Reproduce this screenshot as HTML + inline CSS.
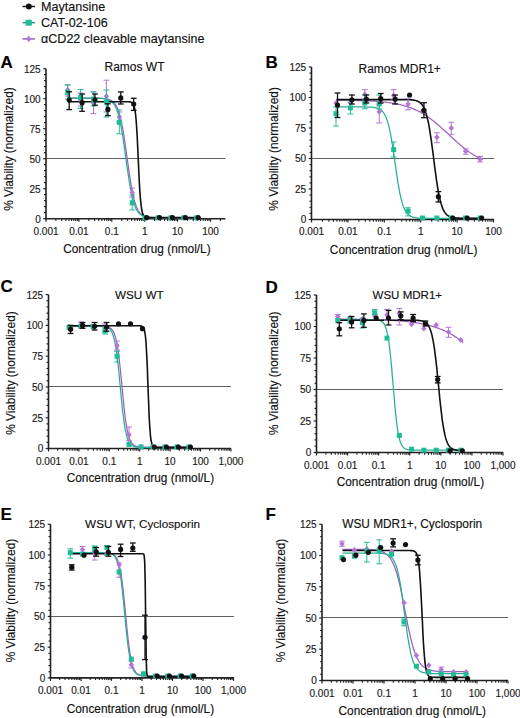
<!DOCTYPE html>
<html><head><meta charset="utf-8"><style>html,body{margin:0;padding:0;background:#fff;}svg{display:block}</style></head>
<body><svg width="520" height="718" viewBox="0 0 520 718" font-family="Liberation Sans, sans-serif"><style>text{stroke:#111;stroke-width:0.15px}</style>
<rect width="520" height="718" fill="#fff"/>
<line x1="22.5" y1="6.5" x2="35" y2="6.5" stroke="#111" stroke-width="1.4"/>
<circle cx="28.8" cy="6.5" r="3" fill="#111"/>
<text x="41" y="10.8" font-size="12.55" fill="#111">Maytansine</text>
<line x1="22.5" y1="22.7" x2="35" y2="22.7" stroke="#2a9c86" stroke-width="1.4"/>
<rect x="25.6" y="19.7" width="6.2" height="6" fill="#20bc96"/>
<text x="41" y="27" font-size="12.55" fill="#111">CAT-02-106</text>
<line x1="22.5" y1="38.9" x2="35" y2="38.9" stroke="#8060a8" stroke-width="1.4"/>
<path d="M28.8 35.7 L31.6 38.9 L28.8 42.1 L26 38.9Z" fill="#b474d8"/>
<text x="41" y="43.2" font-size="12.55" fill="#111">αCD22 cleavable maytansine</text>
<line x1="46" y1="158.5" x2="225.5" y2="158.5" stroke="#626262" stroke-width="1"/>
<line x1="46" y1="68.7" x2="46" y2="219.5" stroke="#222" stroke-width="1.6"/>
<line x1="43.2" y1="218.7" x2="46" y2="218.7" stroke="#222" stroke-width="1.2"/>
<text x="40.7" y="222.6" text-anchor="end" font-size="10" fill="#222">0</text>
<line x1="44" y1="212.7" x2="46" y2="212.7" stroke="#222" stroke-width="1.2"/>
<line x1="44" y1="206.7" x2="46" y2="206.7" stroke="#222" stroke-width="1.2"/>
<line x1="44" y1="200.7" x2="46" y2="200.7" stroke="#222" stroke-width="1.2"/>
<line x1="44" y1="194.7" x2="46" y2="194.7" stroke="#222" stroke-width="1.2"/>
<line x1="43.2" y1="188.7" x2="46" y2="188.7" stroke="#222" stroke-width="1.2"/>
<text x="40.7" y="192.6" text-anchor="end" font-size="10" fill="#222">25</text>
<line x1="44" y1="182.7" x2="46" y2="182.7" stroke="#222" stroke-width="1.2"/>
<line x1="44" y1="176.7" x2="46" y2="176.7" stroke="#222" stroke-width="1.2"/>
<line x1="44" y1="170.7" x2="46" y2="170.7" stroke="#222" stroke-width="1.2"/>
<line x1="44" y1="164.7" x2="46" y2="164.7" stroke="#222" stroke-width="1.2"/>
<line x1="43.2" y1="158.7" x2="46" y2="158.7" stroke="#222" stroke-width="1.2"/>
<text x="40.7" y="162.6" text-anchor="end" font-size="10" fill="#222">50</text>
<line x1="44" y1="152.7" x2="46" y2="152.7" stroke="#222" stroke-width="1.2"/>
<line x1="44" y1="146.7" x2="46" y2="146.7" stroke="#222" stroke-width="1.2"/>
<line x1="44" y1="140.7" x2="46" y2="140.7" stroke="#222" stroke-width="1.2"/>
<line x1="44" y1="134.7" x2="46" y2="134.7" stroke="#222" stroke-width="1.2"/>
<line x1="43.2" y1="128.7" x2="46" y2="128.7" stroke="#222" stroke-width="1.2"/>
<text x="40.7" y="132.6" text-anchor="end" font-size="10" fill="#222">75</text>
<line x1="44" y1="122.7" x2="46" y2="122.7" stroke="#222" stroke-width="1.2"/>
<line x1="44" y1="116.7" x2="46" y2="116.7" stroke="#222" stroke-width="1.2"/>
<line x1="44" y1="110.7" x2="46" y2="110.7" stroke="#222" stroke-width="1.2"/>
<line x1="44" y1="104.7" x2="46" y2="104.7" stroke="#222" stroke-width="1.2"/>
<line x1="43.2" y1="98.7" x2="46" y2="98.7" stroke="#222" stroke-width="1.2"/>
<text x="40.7" y="102.6" text-anchor="end" font-size="10" fill="#222">100</text>
<line x1="44" y1="92.7" x2="46" y2="92.7" stroke="#222" stroke-width="1.2"/>
<line x1="44" y1="86.7" x2="46" y2="86.7" stroke="#222" stroke-width="1.2"/>
<line x1="44" y1="80.7" x2="46" y2="80.7" stroke="#222" stroke-width="1.2"/>
<line x1="44" y1="74.7" x2="46" y2="74.7" stroke="#222" stroke-width="1.2"/>
<line x1="43.2" y1="68.7" x2="46" y2="68.7" stroke="#222" stroke-width="1.2"/>
<text x="40.7" y="72.6" text-anchor="end" font-size="10" fill="#222">125</text>
<line x1="45.4" y1="218.7" x2="225.5" y2="218.7" stroke="#222" stroke-width="1.6"/>
<line x1="46" y1="218.7" x2="46" y2="221.7" stroke="#222" stroke-width="1.2"/>
<text x="46" y="234.5" text-anchor="middle" font-size="10" fill="#222">0.001</text>
<line x1="55.9" y1="218.7" x2="55.9" y2="220.9" stroke="#222" stroke-width="1.1"/>
<line x1="61.7" y1="218.7" x2="61.7" y2="220.9" stroke="#222" stroke-width="1.1"/>
<line x1="65.81" y1="218.7" x2="65.81" y2="220.9" stroke="#222" stroke-width="1.1"/>
<line x1="69" y1="218.7" x2="69" y2="220.9" stroke="#222" stroke-width="1.1"/>
<line x1="71.6" y1="218.7" x2="71.6" y2="220.9" stroke="#222" stroke-width="1.1"/>
<line x1="73.8" y1="218.7" x2="73.8" y2="220.9" stroke="#222" stroke-width="1.1"/>
<line x1="75.71" y1="218.7" x2="75.71" y2="220.9" stroke="#222" stroke-width="1.1"/>
<line x1="77.39" y1="218.7" x2="77.39" y2="220.9" stroke="#222" stroke-width="1.1"/>
<line x1="78.9" y1="218.7" x2="78.9" y2="221.7" stroke="#222" stroke-width="1.2"/>
<text x="78.9" y="234.5" text-anchor="middle" font-size="10" fill="#222">0.01</text>
<line x1="88.8" y1="218.7" x2="88.8" y2="220.9" stroke="#222" stroke-width="1.1"/>
<line x1="94.6" y1="218.7" x2="94.6" y2="220.9" stroke="#222" stroke-width="1.1"/>
<line x1="98.71" y1="218.7" x2="98.71" y2="220.9" stroke="#222" stroke-width="1.1"/>
<line x1="101.9" y1="218.7" x2="101.9" y2="220.9" stroke="#222" stroke-width="1.1"/>
<line x1="104.5" y1="218.7" x2="104.5" y2="220.9" stroke="#222" stroke-width="1.1"/>
<line x1="106.7" y1="218.7" x2="106.7" y2="220.9" stroke="#222" stroke-width="1.1"/>
<line x1="108.61" y1="218.7" x2="108.61" y2="220.9" stroke="#222" stroke-width="1.1"/>
<line x1="110.29" y1="218.7" x2="110.29" y2="220.9" stroke="#222" stroke-width="1.1"/>
<line x1="111.8" y1="218.7" x2="111.8" y2="221.7" stroke="#222" stroke-width="1.2"/>
<text x="111.8" y="234.5" text-anchor="middle" font-size="10" fill="#222">0.1</text>
<line x1="121.7" y1="218.7" x2="121.7" y2="220.9" stroke="#222" stroke-width="1.1"/>
<line x1="127.5" y1="218.7" x2="127.5" y2="220.9" stroke="#222" stroke-width="1.1"/>
<line x1="131.61" y1="218.7" x2="131.61" y2="220.9" stroke="#222" stroke-width="1.1"/>
<line x1="134.8" y1="218.7" x2="134.8" y2="220.9" stroke="#222" stroke-width="1.1"/>
<line x1="137.4" y1="218.7" x2="137.4" y2="220.9" stroke="#222" stroke-width="1.1"/>
<line x1="139.6" y1="218.7" x2="139.6" y2="220.9" stroke="#222" stroke-width="1.1"/>
<line x1="141.51" y1="218.7" x2="141.51" y2="220.9" stroke="#222" stroke-width="1.1"/>
<line x1="143.19" y1="218.7" x2="143.19" y2="220.9" stroke="#222" stroke-width="1.1"/>
<line x1="144.7" y1="218.7" x2="144.7" y2="221.7" stroke="#222" stroke-width="1.2"/>
<text x="144.7" y="234.5" text-anchor="middle" font-size="10" fill="#222">1</text>
<line x1="154.6" y1="218.7" x2="154.6" y2="220.9" stroke="#222" stroke-width="1.1"/>
<line x1="160.4" y1="218.7" x2="160.4" y2="220.9" stroke="#222" stroke-width="1.1"/>
<line x1="164.51" y1="218.7" x2="164.51" y2="220.9" stroke="#222" stroke-width="1.1"/>
<line x1="167.7" y1="218.7" x2="167.7" y2="220.9" stroke="#222" stroke-width="1.1"/>
<line x1="170.3" y1="218.7" x2="170.3" y2="220.9" stroke="#222" stroke-width="1.1"/>
<line x1="172.5" y1="218.7" x2="172.5" y2="220.9" stroke="#222" stroke-width="1.1"/>
<line x1="174.41" y1="218.7" x2="174.41" y2="220.9" stroke="#222" stroke-width="1.1"/>
<line x1="176.09" y1="218.7" x2="176.09" y2="220.9" stroke="#222" stroke-width="1.1"/>
<line x1="177.6" y1="218.7" x2="177.6" y2="221.7" stroke="#222" stroke-width="1.2"/>
<text x="177.6" y="234.5" text-anchor="middle" font-size="10" fill="#222">10</text>
<line x1="187.5" y1="218.7" x2="187.5" y2="220.9" stroke="#222" stroke-width="1.1"/>
<line x1="193.3" y1="218.7" x2="193.3" y2="220.9" stroke="#222" stroke-width="1.1"/>
<line x1="197.41" y1="218.7" x2="197.41" y2="220.9" stroke="#222" stroke-width="1.1"/>
<line x1="200.6" y1="218.7" x2="200.6" y2="220.9" stroke="#222" stroke-width="1.1"/>
<line x1="203.2" y1="218.7" x2="203.2" y2="220.9" stroke="#222" stroke-width="1.1"/>
<line x1="205.4" y1="218.7" x2="205.4" y2="220.9" stroke="#222" stroke-width="1.1"/>
<line x1="207.31" y1="218.7" x2="207.31" y2="220.9" stroke="#222" stroke-width="1.1"/>
<line x1="208.99" y1="218.7" x2="208.99" y2="220.9" stroke="#222" stroke-width="1.1"/>
<line x1="210.5" y1="218.7" x2="210.5" y2="221.7" stroke="#222" stroke-width="1.2"/>
<text x="210.5" y="234.5" text-anchor="middle" font-size="10" fill="#222">100</text>
<line x1="220.4" y1="218.7" x2="220.4" y2="220.9" stroke="#222" stroke-width="1.1"/>
<text x="134.5" y="70.8" text-anchor="middle" font-size="12" fill="#111">Ramos WT</text>
<text x="136.9" y="252.7" text-anchor="middle" font-size="11.85" fill="#111">Concentration drug (nmol/L)</text>
<text transform="translate(13,149.1) rotate(-90)" text-anchor="middle" font-size="11.85" fill="#111">% Viability (normalized)</text>
<text x="0.5" y="67.8" font-size="17" font-weight="bold" fill="#000">A</text>
<polyline points="68.2,98.1 68.7,98.1 69.2,98.1 69.7,98.1 70.2,98.1 70.7,98.1 71.2,98.1 71.7,98.1 72.2,98.1 72.7,98.1 73.2,98.1 73.7,98.1 74.2,98.1 74.8,98.1 75.3,98.1 75.8,98.1 76.3,98.1 76.8,98.1 77.3,98.1 77.8,98.1 78.3,98.1 78.8,98.1 79.3,98.1 79.8,98.1 80.3,98.1 80.8,98.1 81.3,98.1 81.8,98.1 82.3,98.1 82.8,98.1 83.3,98.1 83.8,98.1 84.3,98.1 84.8,98.1 85.3,98.1 85.8,98.1 86.3,98.1 86.8,98.1 87.3,98.1 87.8,98.1 88.4,98.1 88.9,98.1 89.4,98.1 89.9,98.1 90.4,98.1 90.9,98.1 91.4,98.1 91.9,98.1 92.4,98.1 92.9,98.1 93.4,98.1 93.9,98.1 94.4,98.1 94.9,98.1 95.4,98.2 95.9,98.2 96.4,98.2 96.9,98.2 97.4,98.2 97.9,98.2 98.4,98.2 98.9,98.2 99.4,98.2 99.9,98.3 100.4,98.3 101.0,98.3 101.5,98.3 102.0,98.4 102.5,98.4 103.0,98.4 103.5,98.5 104.0,98.5 104.5,98.6 105.0,98.6 105.5,98.7 106.0,98.8 106.5,98.9 107.0,99.0 107.5,99.1 108.0,99.2 108.5,99.3 109.0,99.5 109.5,99.7 110.0,99.9 110.5,100.1 111.0,100.4 111.5,100.7 112.0,101.0 112.5,101.4 113.0,101.8 113.5,102.3 114.1,102.8 114.6,103.4 115.1,104.1 115.6,104.8 116.1,105.6 116.6,106.5 117.1,107.6 117.6,108.7 118.1,109.9 118.6,111.3 119.1,112.8 119.6,114.5 120.1,116.3 120.6,118.3 121.1,120.5 121.6,122.8 122.1,125.3 122.6,128.0 123.1,130.9 123.6,133.9 124.1,137.1 124.6,140.4 125.1,143.8 125.6,147.3 126.1,150.9 126.6,154.6 127.2,158.3 127.7,162.0 128.2,165.6 128.7,169.2 129.2,172.7 129.7,176.1 130.2,179.4 130.7,182.6 131.2,185.6 131.7,188.4 132.2,191.0 132.7,193.5 133.2,195.8 133.7,197.9 134.2,199.9 134.7,201.7 135.2,203.3 135.7,204.8 136.2,206.2 136.7,207.4 137.2,208.5 137.7,209.5 138.2,210.4 138.7,211.2 139.2,211.9 139.7,212.6 140.2,213.1 140.8,213.7 141.3,214.1 141.8,214.5 142.3,214.9 142.8,215.2 143.3,215.5 143.8,215.8 144.3,216.0 144.8,216.2 145.3,216.4 145.8,216.5 146.3,216.7 146.8,216.8 147.3,216.9 147.8,217.0 148.3,217.1 148.8,217.2 149.3,217.2 149.8,217.3 150.3,217.3 150.8,217.4 151.3,217.4 151.8,217.5 152.3,217.5 152.8,217.5 153.4,217.5 153.9,217.6 154.4,217.6 154.9,217.6 155.4,217.6 155.9,217.6 156.4,217.6 156.9,217.7 157.4,217.7 157.9,217.7 158.4,217.7 158.9,217.7 159.4,217.7 159.9,217.7 160.4,217.7 160.9,217.7 161.4,217.7 161.9,217.7 162.4,217.7 162.9,217.7 163.4,217.7 163.9,217.7 164.4,217.7 164.9,217.7 165.4,217.7 165.9,217.7 166.4,217.7 167.0,217.7 167.5,217.7 168.0,217.7 168.5,217.7 169.0,217.7 169.5,217.7 170.0,217.7 170.5,217.7 171.0,217.7 171.5,217.7 172.0,217.7 172.5,217.7 173.0,217.7 173.5,217.7 174.0,217.7 174.5,217.7 175.0,217.7 175.5,217.7 176.0,217.7 176.5,217.7 177.0,217.7 177.5,217.7 178.0,217.7 178.5,217.7 179.0,217.7 179.6,217.7 180.1,217.7 180.6,217.7 181.1,217.7 181.6,217.7 182.1,217.7 182.6,217.7 183.1,217.7 183.6,217.7 184.1,217.7 184.6,217.7 185.1,217.7 185.6,217.7 186.1,217.7 186.6,217.7 187.1,217.7 187.6,217.7 188.1,217.7 188.6,217.7 189.1,217.7 189.6,217.7 190.1,217.7 190.6,217.7 191.1,217.7 191.6,217.7 192.1,217.7 192.7,217.7 193.2,217.7 193.7,217.7 194.2,217.7 194.7,217.7 195.2,217.7 195.7,217.7 196.2,217.7 196.7,217.7 197.2,217.7 197.7,217.7 198.2,217.7 198.7,217.7 199.2,217.7" fill="none" stroke="#9d5fc0" stroke-width="1.25"/>
<polyline points="68.2,98.1 68.7,98.1 69.2,98.1 69.7,98.1 70.2,98.1 70.7,98.1 71.2,98.1 71.7,98.1 72.2,98.1 72.7,98.1 73.2,98.1 73.7,98.1 74.2,98.1 74.8,98.1 75.3,98.1 75.8,98.1 76.3,98.1 76.8,98.1 77.3,98.1 77.8,98.1 78.3,98.1 78.8,98.1 79.3,98.1 79.8,98.1 80.3,98.1 80.8,98.1 81.3,98.1 81.8,98.1 82.3,98.1 82.8,98.1 83.3,98.1 83.8,98.1 84.3,98.1 84.8,98.1 85.3,98.1 85.8,98.1 86.3,98.1 86.8,98.1 87.3,98.1 87.8,98.1 88.4,98.1 88.9,98.1 89.4,98.1 89.9,98.1 90.4,98.1 90.9,98.1 91.4,98.1 91.9,98.1 92.4,98.1 92.9,98.1 93.4,98.1 93.9,98.1 94.4,98.2 94.9,98.2 95.4,98.2 95.9,98.2 96.4,98.2 96.9,98.2 97.4,98.2 97.9,98.2 98.4,98.2 98.9,98.3 99.4,98.3 99.9,98.3 100.4,98.3 101.0,98.4 101.5,98.4 102.0,98.4 102.5,98.5 103.0,98.5 103.5,98.6 104.0,98.7 104.5,98.7 105.0,98.8 105.5,98.9 106.0,99.0 106.5,99.1 107.0,99.3 107.5,99.4 108.0,99.6 108.5,99.8 109.0,100.0 109.5,100.2 110.0,100.5 110.5,100.8 111.0,101.2 111.5,101.6 112.0,102.0 112.5,102.5 113.0,103.1 113.5,103.7 114.1,104.4 114.6,105.2 115.1,106.0 115.6,107.0 116.1,108.1 116.6,109.3 117.1,110.6 117.6,112.0 118.1,113.6 118.6,115.4 119.1,117.3 119.6,119.3 120.1,121.6 120.6,124.0 121.1,126.6 121.6,129.4 122.1,132.3 122.6,135.4 123.1,138.6 123.6,142.0 124.1,145.5 124.6,149.1 125.1,152.7 125.6,156.4 126.1,160.1 126.6,163.7 127.2,167.4 127.7,170.9 128.2,174.4 128.7,177.7 129.2,181.0 129.7,184.0 130.2,186.9 130.7,189.7 131.2,192.2 131.7,194.6 132.2,196.8 132.7,198.9 133.2,200.8 133.7,202.5 134.2,204.1 134.7,205.5 135.2,206.8 135.7,207.9 136.2,209.0 136.7,209.9 137.2,210.8 137.7,211.6 138.2,212.2 138.7,212.9 139.2,213.4 139.7,213.9 140.2,214.3 140.8,214.7 141.3,215.1 141.8,215.4 142.3,215.6 142.8,215.9 143.3,216.1 143.8,216.3 144.3,216.4 144.8,216.6 145.3,216.7 145.8,216.8 146.3,216.9 146.8,217.0 147.3,217.1 147.8,217.2 148.3,217.3 148.8,217.3 149.3,217.4 149.8,217.4 150.3,217.4 150.8,217.5 151.3,217.5 151.8,217.5 152.3,217.6 152.8,217.6 153.4,217.6 153.9,217.6 154.4,217.6 154.9,217.6 155.4,217.7 155.9,217.7 156.4,217.7 156.9,217.7 157.4,217.7 157.9,217.7 158.4,217.7 158.9,217.7 159.4,217.7 159.9,217.7 160.4,217.7 160.9,217.7 161.4,217.7 161.9,217.7 162.4,217.7 162.9,217.7 163.4,217.7 163.9,217.7 164.4,217.7 164.9,217.7 165.4,217.7 165.9,217.7 166.4,217.7 167.0,217.7 167.5,217.7 168.0,217.7 168.5,217.7 169.0,217.7 169.5,217.7 170.0,217.7 170.5,217.7 171.0,217.7 171.5,217.7 172.0,217.7 172.5,217.7 173.0,217.7 173.5,217.7 174.0,217.7 174.5,217.7 175.0,217.7 175.5,217.7 176.0,217.7 176.5,217.7 177.0,217.7 177.5,217.7 178.0,217.7 178.5,217.7 179.0,217.7 179.6,217.7 180.1,217.7 180.6,217.7 181.1,217.7 181.6,217.7 182.1,217.7 182.6,217.7 183.1,217.7 183.6,217.7 184.1,217.7 184.6,217.7 185.1,217.7 185.6,217.7 186.1,217.7 186.6,217.7 187.1,217.7 187.6,217.7 188.1,217.7 188.6,217.7 189.1,217.7 189.6,217.7 190.1,217.7 190.6,217.7 191.1,217.7 191.6,217.7 192.1,217.7 192.7,217.7 193.2,217.7 193.7,217.7 194.2,217.7 194.7,217.7 195.2,217.7 195.7,217.7 196.2,217.7 196.7,217.7 197.2,217.7 197.7,217.7 198.2,217.7 198.7,217.7 199.2,217.7" fill="none" stroke="#2aae92" stroke-width="1.25"/>
<polyline points="68.2,101.7 68.7,101.7 69.2,101.7 69.7,101.7 70.2,101.7 70.7,101.7 71.2,101.7 71.7,101.7 72.2,101.7 72.7,101.7 73.2,101.7 73.7,101.7 74.2,101.7 74.8,101.7 75.3,101.7 75.8,101.7 76.3,101.7 76.8,101.7 77.3,101.7 77.8,101.7 78.3,101.7 78.8,101.7 79.3,101.7 79.8,101.7 80.3,101.7 80.8,101.7 81.3,101.7 81.8,101.7 82.3,101.7 82.8,101.7 83.3,101.7 83.8,101.7 84.3,101.7 84.8,101.7 85.3,101.7 85.8,101.7 86.3,101.7 86.8,101.7 87.3,101.7 87.8,101.7 88.4,101.7 88.9,101.7 89.4,101.7 89.9,101.7 90.4,101.7 90.9,101.7 91.4,101.7 91.9,101.7 92.4,101.7 92.9,101.7 93.4,101.7 93.9,101.7 94.4,101.7 94.9,101.7 95.4,101.7 95.9,101.7 96.4,101.7 96.9,101.7 97.4,101.7 97.9,101.7 98.4,101.7 98.9,101.7 99.4,101.7 99.9,101.7 100.4,101.7 101.0,101.7 101.5,101.7 102.0,101.7 102.5,101.7 103.0,101.7 103.5,101.7 104.0,101.7 104.5,101.7 105.0,101.7 105.5,101.7 106.0,101.7 106.5,101.7 107.0,101.7 107.5,101.7 108.0,101.7 108.5,101.7 109.0,101.7 109.5,101.7 110.0,101.7 110.5,101.7 111.0,101.7 111.5,101.7 112.0,101.7 112.5,101.7 113.0,101.7 113.5,101.7 114.1,101.7 114.6,101.7 115.1,101.7 115.6,101.7 116.1,101.7 116.6,101.7 117.1,101.7 117.6,101.7 118.1,101.7 118.6,101.7 119.1,101.7 119.6,101.7 120.1,101.7 120.6,101.7 121.1,101.7 121.6,101.7 122.1,101.7 122.6,101.7 123.1,101.7 123.6,101.7 124.1,101.7 124.6,101.7 125.1,101.7 125.6,101.7 126.1,101.7 126.6,101.7 127.2,101.7 127.7,101.7 128.2,101.7 128.7,101.8 129.2,101.8 129.7,101.9 130.2,101.9 130.7,102.0 131.2,102.2 131.7,102.4 132.2,102.7 132.7,103.2 133.2,103.9 133.7,105.0 134.2,106.4 134.7,108.6 135.2,111.5 135.7,115.6 136.2,121.1 136.7,128.2 137.2,137.0 137.7,147.1 138.2,158.1 138.7,169.3 139.2,179.7 139.7,188.9 140.2,196.4 140.8,202.3 141.3,206.7 141.8,210.0 142.3,212.3 142.8,213.9 143.3,215.0 143.8,215.8 144.3,216.4 144.8,216.7 145.3,217.0 145.8,217.1 146.3,217.3 146.8,217.3 147.3,217.4 147.8,217.4 148.3,217.4 148.8,217.5 149.3,217.5 149.8,217.5 150.3,217.5 150.8,217.5 151.3,217.5 151.8,217.5 152.3,217.5 152.8,217.5 153.4,217.5 153.9,217.5 154.4,217.5 154.9,217.5 155.4,217.5 155.9,217.5 156.4,217.5 156.9,217.5 157.4,217.5 157.9,217.5 158.4,217.5 158.9,217.5 159.4,217.5 159.9,217.5 160.4,217.5 160.9,217.5 161.4,217.5 161.9,217.5 162.4,217.5 162.9,217.5 163.4,217.5 163.9,217.5 164.4,217.5 164.9,217.5 165.4,217.5 165.9,217.5 166.4,217.5 167.0,217.5 167.5,217.5 168.0,217.5 168.5,217.5 169.0,217.5 169.5,217.5 170.0,217.5 170.5,217.5 171.0,217.5 171.5,217.5 172.0,217.5 172.5,217.5 173.0,217.5 173.5,217.5 174.0,217.5 174.5,217.5 175.0,217.5 175.5,217.5 176.0,217.5 176.5,217.5 177.0,217.5 177.5,217.5 178.0,217.5 178.5,217.5 179.0,217.5 179.6,217.5 180.1,217.5 180.6,217.5 181.1,217.5 181.6,217.5 182.1,217.5 182.6,217.5 183.1,217.5 183.6,217.5 184.1,217.5 184.6,217.5 185.1,217.5 185.6,217.5 186.1,217.5 186.6,217.5 187.1,217.5 187.6,217.5 188.1,217.5 188.6,217.5 189.1,217.5 189.6,217.5 190.1,217.5 190.6,217.5 191.1,217.5 191.6,217.5 192.1,217.5 192.7,217.5 193.2,217.5 193.7,217.5 194.2,217.5 194.7,217.5 195.2,217.5 195.7,217.5 196.2,217.5 196.7,217.5 197.2,217.5 197.7,217.5 198.2,217.5 198.7,217.5 199.2,217.5" fill="none" stroke="#111" stroke-width="1.6"/>
<line x1="67.7" y1="85" x2="67.7" y2="96" stroke="#b474d8" stroke-width="1.0"/>
<line x1="64.8" y1="85" x2="70.6" y2="85" stroke="#b474d8" stroke-width="1.0"/>
<line x1="64.8" y1="96" x2="70.6" y2="96" stroke="#b474d8" stroke-width="1.0"/>
<path d="M67.7 87 L70.4 90 L67.7 93 L65 90Z" fill="#b474d8"/>
<line x1="80.6" y1="93" x2="80.6" y2="106" stroke="#b474d8" stroke-width="1.0"/>
<line x1="77.7" y1="93" x2="83.5" y2="93" stroke="#b474d8" stroke-width="1.0"/>
<line x1="77.7" y1="106" x2="83.5" y2="106" stroke="#b474d8" stroke-width="1.0"/>
<path d="M80.6 97 L83.3 100 L80.6 103 L77.9 100Z" fill="#b474d8"/>
<line x1="93.5" y1="91.7" x2="93.5" y2="113.6" stroke="#b474d8" stroke-width="1.0"/>
<line x1="90.6" y1="91.7" x2="96.4" y2="91.7" stroke="#b474d8" stroke-width="1.0"/>
<line x1="90.6" y1="113.6" x2="96.4" y2="113.6" stroke="#b474d8" stroke-width="1.0"/>
<path d="M93.5 100 L96.2 103 L93.5 106 L90.8 103Z" fill="#b474d8"/>
<line x1="106.4" y1="80.2" x2="106.4" y2="111.9" stroke="#b474d8" stroke-width="1.0"/>
<line x1="103.5" y1="80.2" x2="109.3" y2="80.2" stroke="#b474d8" stroke-width="1.0"/>
<line x1="103.5" y1="111.9" x2="109.3" y2="111.9" stroke="#b474d8" stroke-width="1.0"/>
<path d="M106.4 93.3 L109.1 96.3 L106.4 99.3 L103.7 96.3Z" fill="#b474d8"/>
<line x1="119.3" y1="112" x2="119.3" y2="122" stroke="#b474d8" stroke-width="1.0"/>
<line x1="116.4" y1="112" x2="122.2" y2="112" stroke="#b474d8" stroke-width="1.0"/>
<line x1="116.4" y1="122" x2="122.2" y2="122" stroke="#b474d8" stroke-width="1.0"/>
<path d="M119.3 114 L122 117 L119.3 120 L116.6 117Z" fill="#b474d8"/>
<line x1="132.2" y1="188" x2="132.2" y2="197" stroke="#b474d8" stroke-width="1.0"/>
<line x1="129.3" y1="188" x2="135.1" y2="188" stroke="#b474d8" stroke-width="1.0"/>
<line x1="129.3" y1="197" x2="135.1" y2="197" stroke="#b474d8" stroke-width="1.0"/>
<path d="M132.2 189.4 L134.9 192.4 L132.2 195.4 L129.5 192.4Z" fill="#b474d8"/>
<path d="M145.1 214.8 L147.8 217.8 L145.1 220.8 L142.4 217.8Z" fill="#b474d8"/>
<path d="M158 214.8 L160.7 217.8 L158 220.8 L155.3 217.8Z" fill="#b474d8"/>
<path d="M170.9 214.8 L173.6 217.8 L170.9 220.8 L168.2 217.8Z" fill="#b474d8"/>
<path d="M183.8 214.8 L186.5 217.8 L183.8 220.8 L181.1 217.8Z" fill="#b474d8"/>
<path d="M196.7 214.8 L199.4 217.8 L196.7 220.8 L194 217.8Z" fill="#b474d8"/>
<line x1="67.7" y1="84.8" x2="67.7" y2="99.2" stroke="#20bc96" stroke-width="1.0"/>
<line x1="64.8" y1="84.8" x2="70.6" y2="84.8" stroke="#20bc96" stroke-width="1.0"/>
<line x1="64.8" y1="99.2" x2="70.6" y2="99.2" stroke="#20bc96" stroke-width="1.0"/>
<rect x="65.2" y="89.8" width="5" height="5" fill="#20bc96"/>
<line x1="80.6" y1="89.4" x2="80.6" y2="108.4" stroke="#20bc96" stroke-width="1.0"/>
<line x1="77.7" y1="89.4" x2="83.5" y2="89.4" stroke="#20bc96" stroke-width="1.0"/>
<line x1="77.7" y1="108.4" x2="83.5" y2="108.4" stroke="#20bc96" stroke-width="1.0"/>
<rect x="78.1" y="95" width="5" height="5" fill="#20bc96"/>
<line x1="93.5" y1="92" x2="93.5" y2="106" stroke="#20bc96" stroke-width="1.0"/>
<line x1="90.6" y1="92" x2="96.4" y2="92" stroke="#20bc96" stroke-width="1.0"/>
<line x1="90.6" y1="106" x2="96.4" y2="106" stroke="#20bc96" stroke-width="1.0"/>
<rect x="91" y="96.7" width="5" height="5" fill="#20bc96"/>
<line x1="106.4" y1="90" x2="106.4" y2="117" stroke="#20bc96" stroke-width="1.0"/>
<line x1="103.5" y1="90" x2="109.3" y2="90" stroke="#20bc96" stroke-width="1.0"/>
<line x1="103.5" y1="117" x2="109.3" y2="117" stroke="#20bc96" stroke-width="1.0"/>
<rect x="103.9" y="99.6" width="5" height="5" fill="#20bc96"/>
<line x1="119.3" y1="110" x2="119.3" y2="133.8" stroke="#20bc96" stroke-width="1.0"/>
<line x1="116.4" y1="110" x2="122.2" y2="110" stroke="#20bc96" stroke-width="1.0"/>
<line x1="116.4" y1="133.8" x2="122.2" y2="133.8" stroke="#20bc96" stroke-width="1.0"/>
<rect x="116.8" y="119.9" width="5" height="5" fill="#20bc96"/>
<line x1="132.2" y1="195" x2="132.2" y2="210" stroke="#20bc96" stroke-width="1.0"/>
<line x1="129.3" y1="195" x2="135.1" y2="195" stroke="#20bc96" stroke-width="1.0"/>
<line x1="129.3" y1="210" x2="135.1" y2="210" stroke="#20bc96" stroke-width="1.0"/>
<rect x="129.7" y="200.3" width="5" height="5" fill="#20bc96"/>
<rect x="142.6" y="215.3" width="5" height="5" fill="#20bc96"/>
<rect x="155.5" y="215.3" width="5" height="5" fill="#20bc96"/>
<rect x="168.4" y="215.3" width="5" height="5" fill="#20bc96"/>
<rect x="181.3" y="215.3" width="5" height="5" fill="#20bc96"/>
<rect x="194.2" y="215.3" width="5" height="5" fill="#20bc96"/>
<line x1="69.2" y1="91.7" x2="69.2" y2="109.6" stroke="#111" stroke-width="1.3"/>
<line x1="66.3" y1="91.7" x2="72.1" y2="91.7" stroke="#111" stroke-width="1.3"/>
<line x1="66.3" y1="109.6" x2="72.1" y2="109.6" stroke="#111" stroke-width="1.3"/>
<circle cx="69.2" cy="100.1" r="2.6" fill="#111"/>
<line x1="82.1" y1="94" x2="82.1" y2="111.3" stroke="#111" stroke-width="1.3"/>
<line x1="79.2" y1="94" x2="85" y2="94" stroke="#111" stroke-width="1.3"/>
<line x1="79.2" y1="111.3" x2="85" y2="111.3" stroke="#111" stroke-width="1.3"/>
<circle cx="82.1" cy="102.7" r="2.6" fill="#111"/>
<line x1="95" y1="94" x2="95" y2="105.2" stroke="#111" stroke-width="1.3"/>
<line x1="92.1" y1="94" x2="97.9" y2="94" stroke="#111" stroke-width="1.3"/>
<line x1="92.1" y1="105.2" x2="97.9" y2="105.2" stroke="#111" stroke-width="1.3"/>
<circle cx="95" cy="99.8" r="2.6" fill="#111"/>
<line x1="107.9" y1="103.8" x2="107.9" y2="115.6" stroke="#111" stroke-width="1.3"/>
<line x1="105" y1="103.8" x2="110.8" y2="103.8" stroke="#111" stroke-width="1.3"/>
<line x1="105" y1="115.6" x2="110.8" y2="115.6" stroke="#111" stroke-width="1.3"/>
<circle cx="107.9" cy="109.4" r="2.6" fill="#111"/>
<line x1="120.8" y1="91.9" x2="120.8" y2="104" stroke="#111" stroke-width="1.3"/>
<line x1="117.9" y1="91.9" x2="123.7" y2="91.9" stroke="#111" stroke-width="1.3"/>
<line x1="117.9" y1="104" x2="123.7" y2="104" stroke="#111" stroke-width="1.3"/>
<circle cx="120.8" cy="97.9" r="2.6" fill="#111"/>
<line x1="133.7" y1="98.3" x2="133.7" y2="110.4" stroke="#111" stroke-width="1.3"/>
<line x1="130.8" y1="98.3" x2="136.6" y2="98.3" stroke="#111" stroke-width="1.3"/>
<line x1="130.8" y1="110.4" x2="136.6" y2="110.4" stroke="#111" stroke-width="1.3"/>
<circle cx="133.7" cy="104" r="2.6" fill="#111"/>
<circle cx="146.6" cy="217.6" r="2.6" fill="#111"/>
<circle cx="159.5" cy="217.6" r="2.6" fill="#111"/>
<circle cx="172.4" cy="217.6" r="2.6" fill="#111"/>
<circle cx="185.3" cy="217.6" r="2.6" fill="#111"/>
<circle cx="198.2" cy="217.6" r="2.6" fill="#111"/>
<line x1="311.5" y1="158.5" x2="494" y2="158.5" stroke="#626262" stroke-width="1"/>
<line x1="311.5" y1="67" x2="311.5" y2="220.3" stroke="#222" stroke-width="1.6"/>
<line x1="308.7" y1="219.5" x2="311.5" y2="219.5" stroke="#222" stroke-width="1.2"/>
<text x="306.2" y="223.4" text-anchor="end" font-size="10" fill="#222">0</text>
<line x1="309.5" y1="213.4" x2="311.5" y2="213.4" stroke="#222" stroke-width="1.2"/>
<line x1="309.5" y1="207.3" x2="311.5" y2="207.3" stroke="#222" stroke-width="1.2"/>
<line x1="309.5" y1="201.2" x2="311.5" y2="201.2" stroke="#222" stroke-width="1.2"/>
<line x1="309.5" y1="195.1" x2="311.5" y2="195.1" stroke="#222" stroke-width="1.2"/>
<line x1="308.7" y1="189" x2="311.5" y2="189" stroke="#222" stroke-width="1.2"/>
<text x="306.2" y="192.9" text-anchor="end" font-size="10" fill="#222">25</text>
<line x1="309.5" y1="182.9" x2="311.5" y2="182.9" stroke="#222" stroke-width="1.2"/>
<line x1="309.5" y1="176.8" x2="311.5" y2="176.8" stroke="#222" stroke-width="1.2"/>
<line x1="309.5" y1="170.7" x2="311.5" y2="170.7" stroke="#222" stroke-width="1.2"/>
<line x1="309.5" y1="164.6" x2="311.5" y2="164.6" stroke="#222" stroke-width="1.2"/>
<line x1="308.7" y1="158.5" x2="311.5" y2="158.5" stroke="#222" stroke-width="1.2"/>
<text x="306.2" y="162.4" text-anchor="end" font-size="10" fill="#222">50</text>
<line x1="309.5" y1="152.4" x2="311.5" y2="152.4" stroke="#222" stroke-width="1.2"/>
<line x1="309.5" y1="146.3" x2="311.5" y2="146.3" stroke="#222" stroke-width="1.2"/>
<line x1="309.5" y1="140.2" x2="311.5" y2="140.2" stroke="#222" stroke-width="1.2"/>
<line x1="309.5" y1="134.1" x2="311.5" y2="134.1" stroke="#222" stroke-width="1.2"/>
<line x1="308.7" y1="128" x2="311.5" y2="128" stroke="#222" stroke-width="1.2"/>
<text x="306.2" y="131.9" text-anchor="end" font-size="10" fill="#222">75</text>
<line x1="309.5" y1="121.9" x2="311.5" y2="121.9" stroke="#222" stroke-width="1.2"/>
<line x1="309.5" y1="115.8" x2="311.5" y2="115.8" stroke="#222" stroke-width="1.2"/>
<line x1="309.5" y1="109.7" x2="311.5" y2="109.7" stroke="#222" stroke-width="1.2"/>
<line x1="309.5" y1="103.6" x2="311.5" y2="103.6" stroke="#222" stroke-width="1.2"/>
<line x1="308.7" y1="97.5" x2="311.5" y2="97.5" stroke="#222" stroke-width="1.2"/>
<text x="306.2" y="101.4" text-anchor="end" font-size="10" fill="#222">100</text>
<line x1="309.5" y1="91.4" x2="311.5" y2="91.4" stroke="#222" stroke-width="1.2"/>
<line x1="309.5" y1="85.3" x2="311.5" y2="85.3" stroke="#222" stroke-width="1.2"/>
<line x1="309.5" y1="79.2" x2="311.5" y2="79.2" stroke="#222" stroke-width="1.2"/>
<line x1="309.5" y1="73.1" x2="311.5" y2="73.1" stroke="#222" stroke-width="1.2"/>
<line x1="308.7" y1="67" x2="311.5" y2="67" stroke="#222" stroke-width="1.2"/>
<text x="306.2" y="70.9" text-anchor="end" font-size="10" fill="#222">125</text>
<line x1="310.9" y1="219.5" x2="494" y2="219.5" stroke="#222" stroke-width="1.6"/>
<line x1="311.5" y1="219.5" x2="311.5" y2="222.5" stroke="#222" stroke-width="1.2"/>
<text x="311.5" y="235.3" text-anchor="middle" font-size="10" fill="#222">0.001</text>
<line x1="322.46" y1="219.5" x2="322.46" y2="221.7" stroke="#222" stroke-width="1.1"/>
<line x1="328.87" y1="219.5" x2="328.87" y2="221.7" stroke="#222" stroke-width="1.1"/>
<line x1="333.41" y1="219.5" x2="333.41" y2="221.7" stroke="#222" stroke-width="1.1"/>
<line x1="336.94" y1="219.5" x2="336.94" y2="221.7" stroke="#222" stroke-width="1.1"/>
<line x1="339.82" y1="219.5" x2="339.82" y2="221.7" stroke="#222" stroke-width="1.1"/>
<line x1="342.26" y1="219.5" x2="342.26" y2="221.7" stroke="#222" stroke-width="1.1"/>
<line x1="344.37" y1="219.5" x2="344.37" y2="221.7" stroke="#222" stroke-width="1.1"/>
<line x1="346.23" y1="219.5" x2="346.23" y2="221.7" stroke="#222" stroke-width="1.1"/>
<line x1="347.9" y1="219.5" x2="347.9" y2="222.5" stroke="#222" stroke-width="1.2"/>
<text x="347.9" y="235.3" text-anchor="middle" font-size="10" fill="#222">0.01</text>
<line x1="358.86" y1="219.5" x2="358.86" y2="221.7" stroke="#222" stroke-width="1.1"/>
<line x1="365.27" y1="219.5" x2="365.27" y2="221.7" stroke="#222" stroke-width="1.1"/>
<line x1="369.81" y1="219.5" x2="369.81" y2="221.7" stroke="#222" stroke-width="1.1"/>
<line x1="373.34" y1="219.5" x2="373.34" y2="221.7" stroke="#222" stroke-width="1.1"/>
<line x1="376.22" y1="219.5" x2="376.22" y2="221.7" stroke="#222" stroke-width="1.1"/>
<line x1="378.66" y1="219.5" x2="378.66" y2="221.7" stroke="#222" stroke-width="1.1"/>
<line x1="380.77" y1="219.5" x2="380.77" y2="221.7" stroke="#222" stroke-width="1.1"/>
<line x1="382.63" y1="219.5" x2="382.63" y2="221.7" stroke="#222" stroke-width="1.1"/>
<line x1="384.3" y1="219.5" x2="384.3" y2="222.5" stroke="#222" stroke-width="1.2"/>
<text x="384.3" y="235.3" text-anchor="middle" font-size="10" fill="#222">0.1</text>
<line x1="395.26" y1="219.5" x2="395.26" y2="221.7" stroke="#222" stroke-width="1.1"/>
<line x1="401.67" y1="219.5" x2="401.67" y2="221.7" stroke="#222" stroke-width="1.1"/>
<line x1="406.21" y1="219.5" x2="406.21" y2="221.7" stroke="#222" stroke-width="1.1"/>
<line x1="409.74" y1="219.5" x2="409.74" y2="221.7" stroke="#222" stroke-width="1.1"/>
<line x1="412.62" y1="219.5" x2="412.62" y2="221.7" stroke="#222" stroke-width="1.1"/>
<line x1="415.06" y1="219.5" x2="415.06" y2="221.7" stroke="#222" stroke-width="1.1"/>
<line x1="417.17" y1="219.5" x2="417.17" y2="221.7" stroke="#222" stroke-width="1.1"/>
<line x1="419.03" y1="219.5" x2="419.03" y2="221.7" stroke="#222" stroke-width="1.1"/>
<line x1="420.7" y1="219.5" x2="420.7" y2="222.5" stroke="#222" stroke-width="1.2"/>
<text x="420.7" y="235.3" text-anchor="middle" font-size="10" fill="#222">1</text>
<line x1="431.66" y1="219.5" x2="431.66" y2="221.7" stroke="#222" stroke-width="1.1"/>
<line x1="438.07" y1="219.5" x2="438.07" y2="221.7" stroke="#222" stroke-width="1.1"/>
<line x1="442.61" y1="219.5" x2="442.61" y2="221.7" stroke="#222" stroke-width="1.1"/>
<line x1="446.14" y1="219.5" x2="446.14" y2="221.7" stroke="#222" stroke-width="1.1"/>
<line x1="449.02" y1="219.5" x2="449.02" y2="221.7" stroke="#222" stroke-width="1.1"/>
<line x1="451.46" y1="219.5" x2="451.46" y2="221.7" stroke="#222" stroke-width="1.1"/>
<line x1="453.57" y1="219.5" x2="453.57" y2="221.7" stroke="#222" stroke-width="1.1"/>
<line x1="455.43" y1="219.5" x2="455.43" y2="221.7" stroke="#222" stroke-width="1.1"/>
<line x1="457.1" y1="219.5" x2="457.1" y2="222.5" stroke="#222" stroke-width="1.2"/>
<text x="457.1" y="235.3" text-anchor="middle" font-size="10" fill="#222">10</text>
<line x1="468.06" y1="219.5" x2="468.06" y2="221.7" stroke="#222" stroke-width="1.1"/>
<line x1="474.47" y1="219.5" x2="474.47" y2="221.7" stroke="#222" stroke-width="1.1"/>
<line x1="479.01" y1="219.5" x2="479.01" y2="221.7" stroke="#222" stroke-width="1.1"/>
<line x1="482.54" y1="219.5" x2="482.54" y2="221.7" stroke="#222" stroke-width="1.1"/>
<line x1="485.42" y1="219.5" x2="485.42" y2="221.7" stroke="#222" stroke-width="1.1"/>
<line x1="487.86" y1="219.5" x2="487.86" y2="221.7" stroke="#222" stroke-width="1.1"/>
<line x1="489.97" y1="219.5" x2="489.97" y2="221.7" stroke="#222" stroke-width="1.1"/>
<line x1="491.83" y1="219.5" x2="491.83" y2="221.7" stroke="#222" stroke-width="1.1"/>
<line x1="493.5" y1="219.5" x2="493.5" y2="222.5" stroke="#222" stroke-width="1.2"/>
<text x="493.5" y="235.3" text-anchor="middle" font-size="10" fill="#222">100</text>
<text x="399.7" y="72.5" text-anchor="middle" font-size="12" fill="#111">Ramos MDR1+</text>
<text x="403.6" y="253.5" text-anchor="middle" font-size="11.85" fill="#111">Concentration drug (nmol/L)</text>
<text transform="translate(278,148.9) rotate(-90)" text-anchor="middle" font-size="11.85" fill="#111">% Viability (normalized)</text>
<text x="265.5" y="67.5" font-size="17" font-weight="bold" fill="#000">B</text>
<polyline points="336.5,100.1 337.1,100.1 337.6,100.1 338.2,100.1 338.7,100.1 339.3,100.1 339.9,100.1 340.4,100.1 341.0,100.1 341.6,100.2 342.1,100.2 342.7,100.2 343.2,100.2 343.8,100.2 344.4,100.2 344.9,100.2 345.5,100.2 346.1,100.2 346.6,100.2 347.2,100.2 347.7,100.2 348.3,100.2 348.9,100.3 349.4,100.3 350.0,100.3 350.5,100.3 351.1,100.3 351.7,100.3 352.2,100.3 352.8,100.3 353.4,100.3 353.9,100.4 354.5,100.4 355.0,100.4 355.6,100.4 356.2,100.4 356.7,100.4 357.3,100.4 357.9,100.5 358.4,100.5 359.0,100.5 359.5,100.5 360.1,100.5 360.7,100.5 361.2,100.6 361.8,100.6 362.3,100.6 362.9,100.6 363.5,100.6 364.0,100.7 364.6,100.7 365.2,100.7 365.7,100.7 366.3,100.7 366.8,100.8 367.4,100.8 368.0,100.8 368.5,100.8 369.1,100.9 369.7,100.9 370.2,100.9 370.8,101.0 371.3,101.0 371.9,101.0 372.5,101.1 373.0,101.1 373.6,101.1 374.1,101.2 374.7,101.2 375.3,101.2 375.8,101.3 376.4,101.3 377.0,101.4 377.5,101.4 378.1,101.4 378.6,101.5 379.2,101.5 379.8,101.6 380.3,101.6 380.9,101.7 381.5,101.7 382.0,101.8 382.6,101.8 383.1,101.9 383.7,102.0 384.3,102.0 384.8,102.1 385.4,102.1 385.9,102.2 386.5,102.3 387.1,102.3 387.6,102.4 388.2,102.5 388.8,102.6 389.3,102.6 389.9,102.7 390.4,102.8 391.0,102.9 391.6,103.0 392.1,103.1 392.7,103.2 393.3,103.2 393.8,103.3 394.4,103.4 394.9,103.5 395.5,103.6 396.1,103.8 396.6,103.9 397.2,104.0 397.7,104.1 398.3,104.2 398.9,104.3 399.4,104.5 400.0,104.6 400.6,104.7 401.1,104.9 401.7,105.0 402.2,105.1 402.8,105.3 403.4,105.4 403.9,105.6 404.5,105.8 405.1,105.9 405.6,106.1 406.2,106.3 406.7,106.4 407.3,106.6 407.9,106.8 408.4,107.0 409.0,107.2 409.6,107.4 410.1,107.6 410.7,107.8 411.2,108.0 411.8,108.2 412.4,108.5 412.9,108.7 413.5,108.9 414.0,109.2 414.6,109.4 415.2,109.6 415.7,109.9 416.3,110.2 416.9,110.4 417.4,110.7 418.0,111.0 418.5,111.3 419.1,111.5 419.7,111.8 420.2,112.1 420.8,112.5 421.4,112.8 421.9,113.1 422.5,113.4 423.0,113.7 423.6,114.1 424.2,114.4 424.7,114.8 425.3,115.1 425.8,115.5 426.4,115.9 427.0,116.2 427.5,116.6 428.1,117.0 428.7,117.4 429.2,117.8 429.8,118.2 430.3,118.6 430.9,119.0 431.5,119.4 432.0,119.9 432.6,120.3 433.2,120.7 433.7,121.2 434.3,121.6 434.8,122.1 435.4,122.5 436.0,123.0 436.5,123.5 437.1,123.9 437.6,124.4 438.2,124.9 438.8,125.4 439.3,125.9 439.9,126.4 440.5,126.9 441.0,127.4 441.6,127.9 442.1,128.4 442.7,128.9 443.3,129.4 443.8,129.9 444.4,130.4 445.0,130.9 445.5,131.5 446.1,132.0 446.6,132.5 447.2,133.0 447.8,133.6 448.3,134.1 448.9,134.6 449.4,135.1 450.0,135.7 450.6,136.2 451.1,136.7 451.7,137.2 452.3,137.7 452.8,138.3 453.4,138.8 453.9,139.3 454.5,139.8 455.1,140.3 455.6,140.8 456.2,141.3 456.8,141.9 457.3,142.4 457.9,142.9 458.4,143.3 459.0,143.8 459.6,144.3 460.1,144.8 460.7,145.3 461.2,145.8 461.8,146.2 462.4,146.7 462.9,147.2 463.5,147.6 464.1,148.1 464.6,148.5 465.2,148.9 465.7,149.4 466.3,149.8 466.9,150.2 467.4,150.7 468.0,151.1 468.6,151.5 469.1,151.9 469.7,152.3 470.2,152.7 470.8,153.0 471.4,153.4 471.9,153.8 472.5,154.1 473.0,154.5 473.6,154.9 474.2,155.2 474.7,155.5 475.3,155.9 475.9,156.2 476.4,156.5 477.0,156.8 477.5,157.2 478.1,157.5 478.7,157.8 479.2,158.0 479.8,158.3 480.4,158.6 480.9,158.9 481.5,159.2 482.0,159.4 482.6,159.7" fill="none" stroke="#9d5fc0" stroke-width="1.25"/>
<polyline points="336.5,106.9 337.1,106.9 337.6,106.9 338.2,106.9 338.7,106.9 339.3,106.9 339.9,106.9 340.4,106.9 341.0,106.9 341.6,106.9 342.1,106.9 342.7,106.9 343.2,106.9 343.8,106.9 344.4,106.9 344.9,106.9 345.5,106.9 346.1,106.9 346.6,106.9 347.2,106.9 347.7,106.9 348.3,106.9 348.9,106.9 349.4,106.9 350.0,106.9 350.5,106.9 351.1,106.9 351.7,106.9 352.2,106.9 352.8,106.9 353.4,106.9 353.9,106.9 354.5,106.9 355.0,106.9 355.6,106.9 356.2,106.9 356.7,106.9 357.3,106.9 357.9,106.9 358.4,106.9 359.0,106.9 359.5,106.9 360.1,106.9 360.7,106.9 361.2,106.9 361.8,106.9 362.3,106.9 362.9,106.9 363.5,106.9 364.0,106.9 364.6,106.9 365.2,107.0 365.7,107.0 366.3,107.0 366.8,107.0 367.4,107.0 368.0,107.0 368.5,107.0 369.1,107.1 369.7,107.1 370.2,107.1 370.8,107.1 371.3,107.2 371.9,107.2 372.5,107.3 373.0,107.3 373.6,107.4 374.1,107.5 374.7,107.5 375.3,107.6 375.8,107.8 376.4,107.9 377.0,108.0 377.5,108.2 378.1,108.4 378.6,108.6 379.2,108.9 379.8,109.2 380.3,109.6 380.9,109.9 381.5,110.4 382.0,110.9 382.6,111.5 383.1,112.2 383.7,112.9 384.3,113.8 384.8,114.8 385.4,115.9 385.9,117.1 386.5,118.5 387.1,120.1 387.6,121.9 388.2,123.8 388.8,125.9 389.3,128.3 389.9,130.8 390.4,133.6 391.0,136.6 391.6,139.8 392.1,143.2 392.7,146.8 393.3,150.5 393.8,154.3 394.4,158.2 394.9,162.2 395.5,166.1 396.1,170.0 396.6,173.9 397.2,177.6 397.7,181.2 398.3,184.6 398.9,187.9 399.4,190.9 400.0,193.8 400.6,196.4 401.1,198.8 401.7,200.9 402.2,202.9 402.8,204.7 403.4,206.3 403.9,207.8 404.5,209.0 405.1,210.2 405.6,211.2 406.2,212.1 406.7,212.8 407.3,213.5 407.9,214.1 408.4,214.7 409.0,215.1 409.6,215.5 410.1,215.9 410.7,216.2 411.2,216.5 411.8,216.7 412.4,216.9 412.9,217.1 413.5,217.3 414.0,217.4 414.6,217.5 415.2,217.6 415.7,217.7 416.3,217.8 416.9,217.8 417.4,217.9 418.0,217.9 418.5,218.0 419.1,218.0 419.7,218.1 420.2,218.1 420.8,218.1 421.4,218.1 421.9,218.2 422.5,218.2 423.0,218.2 423.6,218.2 424.2,218.2 424.7,218.2 425.3,218.2 425.8,218.2 426.4,218.2 427.0,218.2 427.5,218.3 428.1,218.3 428.7,218.3 429.2,218.3 429.8,218.3 430.3,218.3 430.9,218.3 431.5,218.3 432.0,218.3 432.6,218.3 433.2,218.3 433.7,218.3 434.3,218.3 434.8,218.3 435.4,218.3 436.0,218.3 436.5,218.3 437.1,218.3 437.6,218.3 438.2,218.3 438.8,218.3 439.3,218.3 439.9,218.3 440.5,218.3 441.0,218.3 441.6,218.3 442.1,218.3 442.7,218.3 443.3,218.3 443.8,218.3 444.4,218.3 445.0,218.3 445.5,218.3 446.1,218.3 446.6,218.3 447.2,218.3 447.8,218.3 448.3,218.3 448.9,218.3 449.4,218.3 450.0,218.3 450.6,218.3 451.1,218.3 451.7,218.3 452.3,218.3 452.8,218.3 453.4,218.3 453.9,218.3 454.5,218.3 455.1,218.3 455.6,218.3 456.2,218.3 456.8,218.3 457.3,218.3 457.9,218.3 458.4,218.3 459.0,218.3 459.6,218.3 460.1,218.3 460.7,218.3 461.2,218.3 461.8,218.3 462.4,218.3 462.9,218.3 463.5,218.3 464.1,218.3 464.6,218.3 465.2,218.3 465.7,218.3 466.3,218.3 466.9,218.3 467.4,218.3 468.0,218.3 468.6,218.3 469.1,218.3 469.7,218.3 470.2,218.3 470.8,218.3 471.4,218.3 471.9,218.3 472.5,218.3 473.0,218.3 473.6,218.3 474.2,218.3 474.7,218.3 475.3,218.3 475.9,218.3 476.4,218.3 477.0,218.3 477.5,218.3 478.1,218.3 478.7,218.3 479.2,218.3 479.8,218.3 480.4,218.3 480.9,218.3 481.5,218.3 482.0,218.3 482.6,218.3" fill="none" stroke="#2aae92" stroke-width="1.25"/>
<polyline points="336.5,99.6 337.1,99.6 337.6,99.6 338.2,99.6 338.7,99.6 339.3,99.6 339.9,99.6 340.4,99.6 341.0,99.6 341.6,99.6 342.1,99.6 342.7,99.6 343.2,99.6 343.8,99.6 344.4,99.6 344.9,99.6 345.5,99.6 346.1,99.6 346.6,99.6 347.2,99.6 347.7,99.6 348.3,99.6 348.9,99.6 349.4,99.6 350.0,99.6 350.5,99.6 351.1,99.6 351.7,99.6 352.2,99.6 352.8,99.6 353.4,99.6 353.9,99.6 354.5,99.6 355.0,99.6 355.6,99.6 356.2,99.6 356.7,99.6 357.3,99.6 357.9,99.6 358.4,99.6 359.0,99.6 359.5,99.6 360.1,99.6 360.7,99.6 361.2,99.6 361.8,99.6 362.3,99.6 362.9,99.6 363.5,99.6 364.0,99.6 364.6,99.6 365.2,99.6 365.7,99.6 366.3,99.6 366.8,99.6 367.4,99.6 368.0,99.6 368.5,99.6 369.1,99.6 369.7,99.6 370.2,99.6 370.8,99.6 371.3,99.6 371.9,99.6 372.5,99.6 373.0,99.6 373.6,99.6 374.1,99.6 374.7,99.6 375.3,99.6 375.8,99.6 376.4,99.6 377.0,99.6 377.5,99.6 378.1,99.6 378.6,99.6 379.2,99.6 379.8,99.6 380.3,99.6 380.9,99.6 381.5,99.6 382.0,99.6 382.6,99.6 383.1,99.6 383.7,99.6 384.3,99.6 384.8,99.6 385.4,99.6 385.9,99.6 386.5,99.6 387.1,99.6 387.6,99.6 388.2,99.6 388.8,99.6 389.3,99.6 389.9,99.6 390.4,99.6 391.0,99.6 391.6,99.6 392.1,99.6 392.7,99.6 393.3,99.6 393.8,99.6 394.4,99.6 394.9,99.6 395.5,99.6 396.1,99.6 396.6,99.6 397.2,99.6 397.7,99.6 398.3,99.6 398.9,99.6 399.4,99.6 400.0,99.6 400.6,99.6 401.1,99.6 401.7,99.6 402.2,99.6 402.8,99.6 403.4,99.6 403.9,99.6 404.5,99.6 405.1,99.6 405.6,99.6 406.2,99.7 406.7,99.7 407.3,99.7 407.9,99.7 408.4,99.7 409.0,99.7 409.6,99.8 410.1,99.8 410.7,99.8 411.2,99.9 411.8,99.9 412.4,100.0 412.9,100.0 413.5,100.1 414.0,100.2 414.6,100.3 415.2,100.4 415.7,100.6 416.3,100.7 416.9,100.9 417.4,101.1 418.0,101.4 418.5,101.7 419.1,102.0 419.7,102.4 420.2,102.8 420.8,103.3 421.4,103.9 421.9,104.5 422.5,105.3 423.0,106.2 423.6,107.2 424.2,108.3 424.7,109.6 425.3,111.0 425.8,112.7 426.4,114.5 427.0,116.6 427.5,118.9 428.1,121.4 428.7,124.2 429.2,127.2 429.8,130.5 430.3,134.1 430.9,137.8 431.5,141.8 432.0,145.9 432.6,150.2 433.2,154.6 433.7,159.0 434.3,163.4 434.8,167.8 435.4,172.1 436.0,176.2 436.5,180.2 437.1,183.9 437.6,187.5 438.2,190.8 438.8,193.8 439.3,196.6 439.9,199.1 440.5,201.4 441.0,203.4 441.6,205.3 442.1,206.9 442.7,208.3 443.3,209.6 443.8,210.7 444.4,211.7 445.0,212.6 445.5,213.3 446.1,214.0 446.6,214.6 447.2,215.1 447.8,215.5 448.3,215.9 448.9,216.2 449.4,216.5 450.0,216.7 450.6,217.0 451.1,217.1 451.7,217.3 452.3,217.4 452.8,217.5 453.4,217.6 453.9,217.7 454.5,217.8 455.1,217.9 455.6,217.9 456.2,218.0 456.8,218.0 457.3,218.1 457.9,218.1 458.4,218.1 459.0,218.1 459.6,218.2 460.1,218.2 460.7,218.2 461.2,218.2 461.8,218.2 462.4,218.2 462.9,218.2 463.5,218.2 464.1,218.2 464.6,218.2 465.2,218.3 465.7,218.3 466.3,218.3 466.9,218.3 467.4,218.3 468.0,218.3 468.6,218.3 469.1,218.3 469.7,218.3 470.2,218.3 470.8,218.3 471.4,218.3 471.9,218.3 472.5,218.3 473.0,218.3 473.6,218.3 474.2,218.3 474.7,218.3 475.3,218.3 475.9,218.3 476.4,218.3 477.0,218.3 477.5,218.3 478.1,218.3 478.7,218.3 479.2,218.3 479.8,218.3 480.4,218.3 480.9,218.3 481.5,218.3 482.0,218.3 482.6,218.3" fill="none" stroke="#111" stroke-width="1.6"/>
<path d="M336 100 L338.7 103 L336 106 L333.3 103Z" fill="#b474d8"/>
<path d="M350.41 99.7 L353.11 102.7 L350.41 105.7 L347.71 102.7Z" fill="#b474d8"/>
<line x1="364.82" y1="89.6" x2="364.82" y2="99" stroke="#b474d8" stroke-width="1.0"/>
<line x1="361.92" y1="89.6" x2="367.72" y2="89.6" stroke="#b474d8" stroke-width="1.0"/>
<line x1="361.92" y1="99" x2="367.72" y2="99" stroke="#b474d8" stroke-width="1.0"/>
<path d="M364.82 91.4 L367.52 94.4 L364.82 97.4 L362.12 94.4Z" fill="#b474d8"/>
<line x1="379.23" y1="105" x2="379.23" y2="123" stroke="#b474d8" stroke-width="1.0"/>
<line x1="376.33" y1="105" x2="382.13" y2="105" stroke="#b474d8" stroke-width="1.0"/>
<line x1="376.33" y1="123" x2="382.13" y2="123" stroke="#b474d8" stroke-width="1.0"/>
<path d="M379.23 108.7 L381.93 111.7 L379.23 114.7 L376.53 111.7Z" fill="#b474d8"/>
<line x1="393.64" y1="89.6" x2="393.64" y2="100" stroke="#b474d8" stroke-width="1.0"/>
<line x1="390.74" y1="89.6" x2="396.54" y2="89.6" stroke="#b474d8" stroke-width="1.0"/>
<line x1="390.74" y1="100" x2="396.54" y2="100" stroke="#b474d8" stroke-width="1.0"/>
<path d="M393.64 92.4 L396.34 95.4 L393.64 98.4 L390.94 95.4Z" fill="#b474d8"/>
<line x1="408.05" y1="98.3" x2="408.05" y2="109.8" stroke="#b474d8" stroke-width="1.0"/>
<line x1="405.15" y1="98.3" x2="410.95" y2="98.3" stroke="#b474d8" stroke-width="1.0"/>
<line x1="405.15" y1="109.8" x2="410.95" y2="109.8" stroke="#b474d8" stroke-width="1.0"/>
<path d="M408.05 101 L410.75 104 L408.05 107 L405.35 104Z" fill="#b474d8"/>
<path d="M422.46 108.2 L425.16 111.2 L422.46 114.2 L419.76 111.2Z" fill="#b474d8"/>
<line x1="436.87" y1="132.7" x2="436.87" y2="142.7" stroke="#b474d8" stroke-width="1.0"/>
<line x1="433.97" y1="132.7" x2="439.77" y2="132.7" stroke="#b474d8" stroke-width="1.0"/>
<line x1="433.97" y1="142.7" x2="439.77" y2="142.7" stroke="#b474d8" stroke-width="1.0"/>
<path d="M436.87 134.3 L439.57 137.3 L436.87 140.3 L434.17 137.3Z" fill="#b474d8"/>
<line x1="451.28" y1="122.3" x2="451.28" y2="134.3" stroke="#b474d8" stroke-width="1.0"/>
<line x1="448.38" y1="122.3" x2="454.18" y2="122.3" stroke="#b474d8" stroke-width="1.0"/>
<line x1="448.38" y1="134.3" x2="454.18" y2="134.3" stroke="#b474d8" stroke-width="1.0"/>
<path d="M451.28 125.1 L453.98 128.1 L451.28 131.1 L448.58 128.1Z" fill="#b474d8"/>
<line x1="465.69" y1="148.9" x2="465.69" y2="154.2" stroke="#b474d8" stroke-width="1.0"/>
<line x1="462.79" y1="148.9" x2="468.59" y2="148.9" stroke="#b474d8" stroke-width="1.0"/>
<line x1="462.79" y1="154.2" x2="468.59" y2="154.2" stroke="#b474d8" stroke-width="1.0"/>
<path d="M465.69 148.2 L468.39 151.2 L465.69 154.2 L462.99 151.2Z" fill="#b474d8"/>
<line x1="480.1" y1="156.5" x2="480.1" y2="162" stroke="#b474d8" stroke-width="1.0"/>
<line x1="477.2" y1="156.5" x2="483" y2="156.5" stroke="#b474d8" stroke-width="1.0"/>
<line x1="477.2" y1="162" x2="483" y2="162" stroke="#b474d8" stroke-width="1.0"/>
<path d="M480.1 156.3 L482.8 159.3 L480.1 162.3 L477.4 159.3Z" fill="#b474d8"/>
<line x1="336" y1="107" x2="336" y2="126" stroke="#20bc96" stroke-width="1.0"/>
<line x1="333.1" y1="107" x2="338.9" y2="107" stroke="#20bc96" stroke-width="1.0"/>
<line x1="333.1" y1="126" x2="338.9" y2="126" stroke="#20bc96" stroke-width="1.0"/>
<rect x="333.5" y="111.2" width="5" height="5" fill="#20bc96"/>
<line x1="350.41" y1="101" x2="350.41" y2="114" stroke="#20bc96" stroke-width="1.0"/>
<line x1="347.51" y1="101" x2="353.31" y2="101" stroke="#20bc96" stroke-width="1.0"/>
<line x1="347.51" y1="114" x2="353.31" y2="114" stroke="#20bc96" stroke-width="1.0"/>
<rect x="347.91" y="105.4" width="5" height="5" fill="#20bc96"/>
<line x1="364.82" y1="95" x2="364.82" y2="108.8" stroke="#20bc96" stroke-width="1.0"/>
<line x1="361.92" y1="95" x2="367.72" y2="95" stroke="#20bc96" stroke-width="1.0"/>
<line x1="361.92" y1="108.8" x2="367.72" y2="108.8" stroke="#20bc96" stroke-width="1.0"/>
<rect x="362.32" y="100.5" width="5" height="5" fill="#20bc96"/>
<line x1="379.23" y1="95" x2="379.23" y2="109" stroke="#20bc96" stroke-width="1.0"/>
<line x1="376.33" y1="95" x2="382.13" y2="95" stroke="#20bc96" stroke-width="1.0"/>
<line x1="376.33" y1="109" x2="382.13" y2="109" stroke="#20bc96" stroke-width="1.0"/>
<rect x="376.73" y="101.5" width="5" height="5" fill="#20bc96"/>
<line x1="393.64" y1="142" x2="393.64" y2="157" stroke="#20bc96" stroke-width="1.0"/>
<line x1="390.74" y1="142" x2="396.54" y2="142" stroke="#20bc96" stroke-width="1.0"/>
<line x1="390.74" y1="157" x2="396.54" y2="157" stroke="#20bc96" stroke-width="1.0"/>
<rect x="391.14" y="147.1" width="5" height="5" fill="#20bc96"/>
<line x1="408.05" y1="207.8" x2="408.05" y2="215.9" stroke="#20bc96" stroke-width="1.0"/>
<line x1="405.15" y1="207.8" x2="410.95" y2="207.8" stroke="#20bc96" stroke-width="1.0"/>
<line x1="405.15" y1="215.9" x2="410.95" y2="215.9" stroke="#20bc96" stroke-width="1.0"/>
<rect x="405.55" y="208.7" width="5" height="5" fill="#20bc96"/>
<rect x="419.96" y="215.5" width="5" height="5" fill="#20bc96"/>
<rect x="434.37" y="215.5" width="5" height="5" fill="#20bc96"/>
<rect x="448.78" y="215.5" width="5" height="5" fill="#20bc96"/>
<rect x="463.19" y="215.5" width="5" height="5" fill="#20bc96"/>
<rect x="477.6" y="215.5" width="5" height="5" fill="#20bc96"/>
<line x1="337.5" y1="93" x2="337.5" y2="117.5" stroke="#111" stroke-width="1.3"/>
<line x1="334.6" y1="93" x2="340.4" y2="93" stroke="#111" stroke-width="1.3"/>
<line x1="334.6" y1="117.5" x2="340.4" y2="117.5" stroke="#111" stroke-width="1.3"/>
<circle cx="337.5" cy="105" r="2.6" fill="#111"/>
<line x1="351.91" y1="95" x2="351.91" y2="104" stroke="#111" stroke-width="1.3"/>
<line x1="349.01" y1="95" x2="354.81" y2="95" stroke="#111" stroke-width="1.3"/>
<line x1="349.01" y1="104" x2="354.81" y2="104" stroke="#111" stroke-width="1.3"/>
<circle cx="351.91" cy="99.8" r="2.6" fill="#111"/>
<line x1="366.32" y1="95" x2="366.32" y2="103" stroke="#111" stroke-width="1.3"/>
<line x1="363.42" y1="95" x2="369.22" y2="95" stroke="#111" stroke-width="1.3"/>
<line x1="363.42" y1="103" x2="369.22" y2="103" stroke="#111" stroke-width="1.3"/>
<circle cx="366.32" cy="99.2" r="2.6" fill="#111"/>
<line x1="380.73" y1="93.5" x2="380.73" y2="103" stroke="#111" stroke-width="1.3"/>
<line x1="377.83" y1="93.5" x2="383.63" y2="93.5" stroke="#111" stroke-width="1.3"/>
<line x1="377.83" y1="103" x2="383.63" y2="103" stroke="#111" stroke-width="1.3"/>
<circle cx="380.73" cy="98.7" r="2.6" fill="#111"/>
<line x1="395.14" y1="95" x2="395.14" y2="104" stroke="#111" stroke-width="1.3"/>
<line x1="392.24" y1="95" x2="398.04" y2="95" stroke="#111" stroke-width="1.3"/>
<line x1="392.24" y1="104" x2="398.04" y2="104" stroke="#111" stroke-width="1.3"/>
<circle cx="395.14" cy="99.2" r="2.6" fill="#111"/>
<circle cx="409.55" cy="95" r="2.6" fill="#111"/>
<line x1="423.96" y1="102.7" x2="423.96" y2="117.7" stroke="#111" stroke-width="1.3"/>
<line x1="421.06" y1="102.7" x2="426.86" y2="102.7" stroke="#111" stroke-width="1.3"/>
<line x1="421.06" y1="117.7" x2="426.86" y2="117.7" stroke="#111" stroke-width="1.3"/>
<circle cx="423.96" cy="110.3" r="2.6" fill="#111"/>
<line x1="438.37" y1="191.6" x2="438.37" y2="202" stroke="#111" stroke-width="1.3"/>
<line x1="435.47" y1="191.6" x2="441.27" y2="191.6" stroke="#111" stroke-width="1.3"/>
<line x1="435.47" y1="202" x2="441.27" y2="202" stroke="#111" stroke-width="1.3"/>
<circle cx="438.37" cy="196.7" r="2.6" fill="#111"/>
<circle cx="452.78" cy="218" r="2.6" fill="#111"/>
<circle cx="467.19" cy="218" r="2.6" fill="#111"/>
<circle cx="481.6" cy="218" r="2.6" fill="#111"/>
<line x1="48.5" y1="386.5" x2="231" y2="386.5" stroke="#626262" stroke-width="1"/>
<line x1="48.5" y1="294.62" x2="48.5" y2="449.3" stroke="#222" stroke-width="1.6"/>
<line x1="45.7" y1="448.5" x2="48.5" y2="448.5" stroke="#222" stroke-width="1.2"/>
<text x="43.2" y="452.4" text-anchor="end" font-size="10" fill="#222">0</text>
<line x1="46.5" y1="442.35" x2="48.5" y2="442.35" stroke="#222" stroke-width="1.2"/>
<line x1="46.5" y1="436.19" x2="48.5" y2="436.19" stroke="#222" stroke-width="1.2"/>
<line x1="46.5" y1="430.04" x2="48.5" y2="430.04" stroke="#222" stroke-width="1.2"/>
<line x1="46.5" y1="423.88" x2="48.5" y2="423.88" stroke="#222" stroke-width="1.2"/>
<line x1="45.7" y1="417.73" x2="48.5" y2="417.73" stroke="#222" stroke-width="1.2"/>
<text x="43.2" y="421.62" text-anchor="end" font-size="10" fill="#222">25</text>
<line x1="46.5" y1="411.57" x2="48.5" y2="411.57" stroke="#222" stroke-width="1.2"/>
<line x1="46.5" y1="405.42" x2="48.5" y2="405.42" stroke="#222" stroke-width="1.2"/>
<line x1="46.5" y1="399.26" x2="48.5" y2="399.26" stroke="#222" stroke-width="1.2"/>
<line x1="46.5" y1="393.11" x2="48.5" y2="393.11" stroke="#222" stroke-width="1.2"/>
<line x1="45.7" y1="386.95" x2="48.5" y2="386.95" stroke="#222" stroke-width="1.2"/>
<text x="43.2" y="390.85" text-anchor="end" font-size="10" fill="#222">50</text>
<line x1="46.5" y1="380.8" x2="48.5" y2="380.8" stroke="#222" stroke-width="1.2"/>
<line x1="46.5" y1="374.64" x2="48.5" y2="374.64" stroke="#222" stroke-width="1.2"/>
<line x1="46.5" y1="368.49" x2="48.5" y2="368.49" stroke="#222" stroke-width="1.2"/>
<line x1="46.5" y1="362.33" x2="48.5" y2="362.33" stroke="#222" stroke-width="1.2"/>
<line x1="45.7" y1="356.18" x2="48.5" y2="356.18" stroke="#222" stroke-width="1.2"/>
<text x="43.2" y="360.07" text-anchor="end" font-size="10" fill="#222">75</text>
<line x1="46.5" y1="350.02" x2="48.5" y2="350.02" stroke="#222" stroke-width="1.2"/>
<line x1="46.5" y1="343.87" x2="48.5" y2="343.87" stroke="#222" stroke-width="1.2"/>
<line x1="46.5" y1="337.71" x2="48.5" y2="337.71" stroke="#222" stroke-width="1.2"/>
<line x1="46.5" y1="331.56" x2="48.5" y2="331.56" stroke="#222" stroke-width="1.2"/>
<line x1="45.7" y1="325.4" x2="48.5" y2="325.4" stroke="#222" stroke-width="1.2"/>
<text x="43.2" y="329.3" text-anchor="end" font-size="10" fill="#222">100</text>
<line x1="46.5" y1="319.25" x2="48.5" y2="319.25" stroke="#222" stroke-width="1.2"/>
<line x1="46.5" y1="313.09" x2="48.5" y2="313.09" stroke="#222" stroke-width="1.2"/>
<line x1="46.5" y1="306.94" x2="48.5" y2="306.94" stroke="#222" stroke-width="1.2"/>
<line x1="46.5" y1="300.78" x2="48.5" y2="300.78" stroke="#222" stroke-width="1.2"/>
<line x1="45.7" y1="294.62" x2="48.5" y2="294.62" stroke="#222" stroke-width="1.2"/>
<text x="43.2" y="298.52" text-anchor="end" font-size="10" fill="#222">125</text>
<line x1="47.9" y1="448.5" x2="231" y2="448.5" stroke="#222" stroke-width="1.6"/>
<line x1="48.5" y1="448.5" x2="48.5" y2="451.5" stroke="#222" stroke-width="1.2"/>
<text x="48.5" y="465.3" text-anchor="middle" font-size="10" fill="#222">0.001</text>
<line x1="57.65" y1="448.5" x2="57.65" y2="450.7" stroke="#222" stroke-width="1.1"/>
<line x1="63" y1="448.5" x2="63" y2="450.7" stroke="#222" stroke-width="1.1"/>
<line x1="66.8" y1="448.5" x2="66.8" y2="450.7" stroke="#222" stroke-width="1.1"/>
<line x1="69.75" y1="448.5" x2="69.75" y2="450.7" stroke="#222" stroke-width="1.1"/>
<line x1="72.16" y1="448.5" x2="72.16" y2="450.7" stroke="#222" stroke-width="1.1"/>
<line x1="74.19" y1="448.5" x2="74.19" y2="450.7" stroke="#222" stroke-width="1.1"/>
<line x1="75.95" y1="448.5" x2="75.95" y2="450.7" stroke="#222" stroke-width="1.1"/>
<line x1="77.51" y1="448.5" x2="77.51" y2="450.7" stroke="#222" stroke-width="1.1"/>
<line x1="78.9" y1="448.5" x2="78.9" y2="451.5" stroke="#222" stroke-width="1.2"/>
<text x="78.9" y="465.3" text-anchor="middle" font-size="10" fill="#222">0.01</text>
<line x1="88.05" y1="448.5" x2="88.05" y2="450.7" stroke="#222" stroke-width="1.1"/>
<line x1="93.4" y1="448.5" x2="93.4" y2="450.7" stroke="#222" stroke-width="1.1"/>
<line x1="97.2" y1="448.5" x2="97.2" y2="450.7" stroke="#222" stroke-width="1.1"/>
<line x1="100.15" y1="448.5" x2="100.15" y2="450.7" stroke="#222" stroke-width="1.1"/>
<line x1="102.56" y1="448.5" x2="102.56" y2="450.7" stroke="#222" stroke-width="1.1"/>
<line x1="104.59" y1="448.5" x2="104.59" y2="450.7" stroke="#222" stroke-width="1.1"/>
<line x1="106.35" y1="448.5" x2="106.35" y2="450.7" stroke="#222" stroke-width="1.1"/>
<line x1="107.91" y1="448.5" x2="107.91" y2="450.7" stroke="#222" stroke-width="1.1"/>
<line x1="109.3" y1="448.5" x2="109.3" y2="451.5" stroke="#222" stroke-width="1.2"/>
<text x="109.3" y="465.3" text-anchor="middle" font-size="10" fill="#222">0.1</text>
<line x1="118.45" y1="448.5" x2="118.45" y2="450.7" stroke="#222" stroke-width="1.1"/>
<line x1="123.8" y1="448.5" x2="123.8" y2="450.7" stroke="#222" stroke-width="1.1"/>
<line x1="127.6" y1="448.5" x2="127.6" y2="450.7" stroke="#222" stroke-width="1.1"/>
<line x1="130.55" y1="448.5" x2="130.55" y2="450.7" stroke="#222" stroke-width="1.1"/>
<line x1="132.96" y1="448.5" x2="132.96" y2="450.7" stroke="#222" stroke-width="1.1"/>
<line x1="134.99" y1="448.5" x2="134.99" y2="450.7" stroke="#222" stroke-width="1.1"/>
<line x1="136.75" y1="448.5" x2="136.75" y2="450.7" stroke="#222" stroke-width="1.1"/>
<line x1="138.31" y1="448.5" x2="138.31" y2="450.7" stroke="#222" stroke-width="1.1"/>
<line x1="139.7" y1="448.5" x2="139.7" y2="451.5" stroke="#222" stroke-width="1.2"/>
<text x="139.7" y="465.3" text-anchor="middle" font-size="10" fill="#222">1</text>
<line x1="148.85" y1="448.5" x2="148.85" y2="450.7" stroke="#222" stroke-width="1.1"/>
<line x1="154.2" y1="448.5" x2="154.2" y2="450.7" stroke="#222" stroke-width="1.1"/>
<line x1="158" y1="448.5" x2="158" y2="450.7" stroke="#222" stroke-width="1.1"/>
<line x1="160.95" y1="448.5" x2="160.95" y2="450.7" stroke="#222" stroke-width="1.1"/>
<line x1="163.36" y1="448.5" x2="163.36" y2="450.7" stroke="#222" stroke-width="1.1"/>
<line x1="165.39" y1="448.5" x2="165.39" y2="450.7" stroke="#222" stroke-width="1.1"/>
<line x1="167.15" y1="448.5" x2="167.15" y2="450.7" stroke="#222" stroke-width="1.1"/>
<line x1="168.71" y1="448.5" x2="168.71" y2="450.7" stroke="#222" stroke-width="1.1"/>
<line x1="170.1" y1="448.5" x2="170.1" y2="451.5" stroke="#222" stroke-width="1.2"/>
<text x="170.1" y="465.3" text-anchor="middle" font-size="10" fill="#222">10</text>
<line x1="179.25" y1="448.5" x2="179.25" y2="450.7" stroke="#222" stroke-width="1.1"/>
<line x1="184.6" y1="448.5" x2="184.6" y2="450.7" stroke="#222" stroke-width="1.1"/>
<line x1="188.4" y1="448.5" x2="188.4" y2="450.7" stroke="#222" stroke-width="1.1"/>
<line x1="191.35" y1="448.5" x2="191.35" y2="450.7" stroke="#222" stroke-width="1.1"/>
<line x1="193.76" y1="448.5" x2="193.76" y2="450.7" stroke="#222" stroke-width="1.1"/>
<line x1="195.79" y1="448.5" x2="195.79" y2="450.7" stroke="#222" stroke-width="1.1"/>
<line x1="197.55" y1="448.5" x2="197.55" y2="450.7" stroke="#222" stroke-width="1.1"/>
<line x1="199.11" y1="448.5" x2="199.11" y2="450.7" stroke="#222" stroke-width="1.1"/>
<line x1="200.5" y1="448.5" x2="200.5" y2="451.5" stroke="#222" stroke-width="1.2"/>
<text x="200.5" y="465.3" text-anchor="middle" font-size="10" fill="#222">100</text>
<line x1="209.65" y1="448.5" x2="209.65" y2="450.7" stroke="#222" stroke-width="1.1"/>
<line x1="215" y1="448.5" x2="215" y2="450.7" stroke="#222" stroke-width="1.1"/>
<line x1="218.8" y1="448.5" x2="218.8" y2="450.7" stroke="#222" stroke-width="1.1"/>
<line x1="221.75" y1="448.5" x2="221.75" y2="450.7" stroke="#222" stroke-width="1.1"/>
<line x1="224.16" y1="448.5" x2="224.16" y2="450.7" stroke="#222" stroke-width="1.1"/>
<line x1="226.19" y1="448.5" x2="226.19" y2="450.7" stroke="#222" stroke-width="1.1"/>
<line x1="227.95" y1="448.5" x2="227.95" y2="450.7" stroke="#222" stroke-width="1.1"/>
<line x1="229.51" y1="448.5" x2="229.51" y2="450.7" stroke="#222" stroke-width="1.1"/>
<line x1="230.9" y1="448.5" x2="230.9" y2="451.5" stroke="#222" stroke-width="1.2"/>
<text x="230.9" y="465.3" text-anchor="middle" font-size="10" fill="#222">1,000</text>
<text x="139.3" y="298.9" text-anchor="middle" font-size="11.7" fill="#111">WSU WT</text>
<text x="140.4" y="481.5" text-anchor="middle" font-size="11.85" fill="#111">Concentration drug (nmol/L)</text>
<text transform="translate(14.5,373.1) rotate(-90)" text-anchor="middle" font-size="11.85" fill="#111">% Viability (normalized)</text>
<text x="0.5" y="292" font-size="17" font-weight="bold" fill="#000">C</text>
<polyline points="69.6,326.0 70.1,326.0 70.5,326.0 71.0,326.0 71.5,326.0 71.9,326.0 72.4,326.0 72.9,326.0 73.3,326.0 73.8,326.0 74.3,326.0 74.8,326.0 75.2,326.0 75.7,326.0 76.2,326.0 76.6,326.0 77.1,326.0 77.6,326.0 78.0,326.0 78.5,326.0 79.0,326.0 79.4,326.0 79.9,326.0 80.4,326.0 80.8,326.0 81.3,326.0 81.8,326.0 82.2,326.0 82.7,326.0 83.2,326.0 83.7,326.0 84.1,326.0 84.6,326.0 85.1,326.0 85.5,326.0 86.0,326.0 86.5,326.0 86.9,326.0 87.4,326.0 87.9,326.0 88.3,326.0 88.8,326.0 89.3,326.0 89.7,326.0 90.2,326.0 90.7,326.0 91.1,326.0 91.6,326.0 92.1,326.0 92.6,326.0 93.0,326.0 93.5,326.0 94.0,326.0 94.4,326.0 94.9,326.0 95.4,326.0 95.8,326.0 96.3,326.0 96.8,326.0 97.2,326.0 97.7,326.0 98.2,326.0 98.6,326.1 99.1,326.1 99.6,326.1 100.0,326.1 100.5,326.1 101.0,326.1 101.5,326.1 101.9,326.1 102.4,326.1 102.9,326.2 103.3,326.2 103.8,326.2 104.3,326.3 104.7,326.3 105.2,326.4 105.7,326.4 106.1,326.5 106.6,326.6 107.1,326.7 107.5,326.8 108.0,326.9 108.5,327.1 109.0,327.3 109.4,327.5 109.9,327.8 110.4,328.1 110.8,328.4 111.3,328.8 111.8,329.3 112.2,329.9 112.7,330.6 113.2,331.3 113.6,332.2 114.1,333.3 114.6,334.5 115.0,335.9 115.5,337.4 116.0,339.2 116.4,341.3 116.9,343.6 117.4,346.2 117.9,349.1 118.3,352.3 118.8,355.8 119.3,359.6 119.7,363.7 120.2,368.1 120.7,372.7 121.1,377.4 121.6,382.3 122.1,387.2 122.5,392.2 123.0,397.0 123.5,401.7 123.9,406.2 124.4,410.5 124.9,414.5 125.3,418.3 125.8,421.7 126.3,424.8 126.8,427.6 127.2,430.1 127.7,432.4 128.2,434.3 128.6,436.1 129.1,437.6 129.6,438.9 130.0,440.1 130.5,441.1 131.0,441.9 131.4,442.7 131.9,443.3 132.4,443.8 132.8,444.3 133.3,444.7 133.8,445.1 134.2,445.3 134.7,445.6 135.2,445.8 135.7,446.0 136.1,446.1 136.6,446.3 137.1,446.4 137.5,446.5 138.0,446.6 138.5,446.6 138.9,446.7 139.4,446.7 139.9,446.8 140.3,446.8 140.8,446.9 141.3,446.9 141.7,446.9 142.2,446.9 142.7,446.9 143.1,446.9 143.6,447.0 144.1,447.0 144.6,447.0 145.0,447.0 145.5,447.0 146.0,447.0 146.4,447.0 146.9,447.0 147.4,447.0 147.8,447.0 148.3,447.0 148.8,447.0 149.2,447.0 149.7,447.0 150.2,447.0 150.6,447.0 151.1,447.0 151.6,447.0 152.0,447.0 152.5,447.0 153.0,447.0 153.5,447.0 153.9,447.0 154.4,447.0 154.9,447.0 155.3,447.0 155.8,447.0 156.3,447.0 156.7,447.0 157.2,447.0 157.7,447.0 158.1,447.0 158.6,447.0 159.1,447.0 159.5,447.0 160.0,447.0 160.5,447.0 160.9,447.0 161.4,447.0 161.9,447.0 162.4,447.0 162.8,447.0 163.3,447.0 163.8,447.0 164.2,447.0 164.7,447.0 165.2,447.0 165.6,447.0 166.1,447.0 166.6,447.0 167.0,447.0 167.5,447.0 168.0,447.0 168.4,447.0 168.9,447.0 169.4,447.0 169.9,447.0 170.3,447.0 170.8,447.0 171.3,447.0 171.7,447.0 172.2,447.0 172.7,447.0 173.1,447.0 173.6,447.0 174.1,447.0 174.5,447.0 175.0,447.0 175.5,447.0 175.9,447.0 176.4,447.0 176.9,447.0 177.3,447.0 177.8,447.0 178.3,447.0 178.8,447.0 179.2,447.0 179.7,447.0 180.2,447.0 180.6,447.0 181.1,447.0 181.6,447.0 182.0,447.0 182.5,447.0 183.0,447.0 183.4,447.0 183.9,447.0 184.4,447.0 184.8,447.0 185.3,447.0 185.8,447.0 186.2,447.0 186.7,447.0 187.2,447.0 187.7,447.0 188.1,447.0 188.6,447.0 189.1,447.0 189.5,447.0 190.0,447.0 190.5,447.0 190.9,447.0 191.4,447.0" fill="none" stroke="#9d5fc0" stroke-width="1.25"/>
<polyline points="69.6,326.0 70.1,326.0 70.5,326.0 71.0,326.0 71.5,326.0 71.9,326.0 72.4,326.0 72.9,326.0 73.3,326.0 73.8,326.0 74.3,326.0 74.8,326.0 75.2,326.0 75.7,326.0 76.2,326.0 76.6,326.0 77.1,326.0 77.6,326.0 78.0,326.0 78.5,326.0 79.0,326.0 79.4,326.0 79.9,326.0 80.4,326.0 80.8,326.0 81.3,326.0 81.8,326.0 82.2,326.0 82.7,326.0 83.2,326.0 83.7,326.0 84.1,326.0 84.6,326.0 85.1,326.0 85.5,326.0 86.0,326.0 86.5,326.0 86.9,326.0 87.4,326.0 87.9,326.0 88.3,326.0 88.8,326.0 89.3,326.0 89.7,326.0 90.2,326.0 90.7,326.0 91.1,326.0 91.6,326.0 92.1,326.0 92.6,326.0 93.0,326.0 93.5,326.0 94.0,326.0 94.4,326.0 94.9,326.0 95.4,326.0 95.8,326.0 96.3,326.0 96.8,326.0 97.2,326.1 97.7,326.1 98.2,326.1 98.6,326.1 99.1,326.1 99.6,326.1 100.0,326.1 100.5,326.1 101.0,326.2 101.5,326.2 101.9,326.2 102.4,326.3 102.9,326.3 103.3,326.3 103.8,326.4 104.3,326.5 104.7,326.6 105.2,326.7 105.7,326.8 106.1,326.9 106.6,327.1 107.1,327.2 107.5,327.5 108.0,327.7 108.5,328.0 109.0,328.3 109.4,328.7 109.9,329.2 110.4,329.8 110.8,330.4 111.3,331.2 111.8,332.0 112.2,333.0 112.7,334.2 113.2,335.5 113.6,337.0 114.1,338.8 114.6,340.8 115.0,343.0 115.5,345.6 116.0,348.4 116.4,351.5 116.9,355.0 117.4,358.7 117.9,362.8 118.3,367.1 118.8,371.6 119.3,376.4 119.7,381.2 120.2,386.2 120.7,391.1 121.1,396.0 121.6,400.8 122.1,405.4 122.5,409.8 123.0,413.9 123.5,417.7 123.9,421.2 124.4,424.4 124.9,427.3 125.3,429.9 125.8,432.2 126.3,434.3 126.8,436.1 127.2,437.7 127.7,439.1 128.2,440.3 128.6,441.3 129.1,442.2 129.6,443.0 130.0,443.6 130.5,444.2 131.0,444.7 131.4,445.1 131.9,445.5 132.4,445.8 132.8,446.0 133.3,446.2 133.8,446.4 134.2,446.6 134.7,446.7 135.2,446.9 135.7,447.0 136.1,447.0 136.6,447.1 137.1,447.2 137.5,447.2 138.0,447.3 138.5,447.3 138.9,447.3 139.4,447.4 139.9,447.4 140.3,447.4 140.8,447.4 141.3,447.4 141.7,447.4 142.2,447.5 142.7,447.5 143.1,447.5 143.6,447.5 144.1,447.5 144.6,447.5 145.0,447.5 145.5,447.5 146.0,447.5 146.4,447.5 146.9,447.5 147.4,447.5 147.8,447.5 148.3,447.5 148.8,447.5 149.2,447.5 149.7,447.5 150.2,447.5 150.6,447.5 151.1,447.5 151.6,447.5 152.0,447.5 152.5,447.5 153.0,447.5 153.5,447.5 153.9,447.5 154.4,447.5 154.9,447.5 155.3,447.5 155.8,447.5 156.3,447.5 156.7,447.5 157.2,447.5 157.7,447.5 158.1,447.5 158.6,447.5 159.1,447.5 159.5,447.5 160.0,447.5 160.5,447.5 160.9,447.5 161.4,447.5 161.9,447.5 162.4,447.5 162.8,447.5 163.3,447.5 163.8,447.5 164.2,447.5 164.7,447.5 165.2,447.5 165.6,447.5 166.1,447.5 166.6,447.5 167.0,447.5 167.5,447.5 168.0,447.5 168.4,447.5 168.9,447.5 169.4,447.5 169.9,447.5 170.3,447.5 170.8,447.5 171.3,447.5 171.7,447.5 172.2,447.5 172.7,447.5 173.1,447.5 173.6,447.5 174.1,447.5 174.5,447.5 175.0,447.5 175.5,447.5 175.9,447.5 176.4,447.5 176.9,447.5 177.3,447.5 177.8,447.5 178.3,447.5 178.8,447.5 179.2,447.5 179.7,447.5 180.2,447.5 180.6,447.5 181.1,447.5 181.6,447.5 182.0,447.5 182.5,447.5 183.0,447.5 183.4,447.5 183.9,447.5 184.4,447.5 184.8,447.5 185.3,447.5 185.8,447.5 186.2,447.5 186.7,447.5 187.2,447.5 187.7,447.5 188.1,447.5 188.6,447.5 189.1,447.5 189.5,447.5 190.0,447.5 190.5,447.5 190.9,447.5 191.4,447.5" fill="none" stroke="#2aae92" stroke-width="1.25"/>
<polyline points="69.6,325.8 70.1,325.8 70.5,325.8 71.0,325.8 71.5,325.8 71.9,325.8 72.4,325.8 72.9,325.8 73.3,325.8 73.8,325.8 74.3,325.8 74.8,325.8 75.2,325.8 75.7,325.8 76.2,325.8 76.6,325.8 77.1,325.8 77.6,325.8 78.0,325.8 78.5,325.8 79.0,325.8 79.4,325.8 79.9,325.8 80.4,325.8 80.8,325.8 81.3,325.8 81.8,325.8 82.2,325.8 82.7,325.8 83.2,325.8 83.7,325.8 84.1,325.8 84.6,325.8 85.1,325.8 85.5,325.8 86.0,325.8 86.5,325.8 86.9,325.8 87.4,325.8 87.9,325.8 88.3,325.8 88.8,325.8 89.3,325.8 89.7,325.8 90.2,325.8 90.7,325.8 91.1,325.8 91.6,325.8 92.1,325.8 92.6,325.8 93.0,325.8 93.5,325.8 94.0,325.8 94.4,325.8 94.9,325.8 95.4,325.8 95.8,325.8 96.3,325.8 96.8,325.8 97.2,325.8 97.7,325.8 98.2,325.8 98.6,325.8 99.1,325.8 99.6,325.8 100.0,325.8 100.5,325.8 101.0,325.8 101.5,325.8 101.9,325.8 102.4,325.8 102.9,325.8 103.3,325.8 103.8,325.8 104.3,325.8 104.7,325.8 105.2,325.8 105.7,325.8 106.1,325.8 106.6,325.8 107.1,325.8 107.5,325.8 108.0,325.8 108.5,325.8 109.0,325.8 109.4,325.8 109.9,325.8 110.4,325.8 110.8,325.8 111.3,325.8 111.8,325.8 112.2,325.8 112.7,325.8 113.2,325.8 113.6,325.8 114.1,325.8 114.6,325.8 115.0,325.8 115.5,325.8 116.0,325.8 116.4,325.8 116.9,325.8 117.4,325.8 117.9,325.8 118.3,325.8 118.8,325.8 119.3,325.8 119.7,325.8 120.2,325.8 120.7,325.8 121.1,325.8 121.6,325.8 122.1,325.8 122.5,325.8 123.0,325.8 123.5,325.8 123.9,325.8 124.4,325.8 124.9,325.8 125.3,325.8 125.8,325.8 126.3,325.8 126.8,325.8 127.2,325.8 127.7,325.8 128.2,325.8 128.6,325.8 129.1,325.8 129.6,325.8 130.0,325.8 130.5,325.8 131.0,325.8 131.4,325.8 131.9,325.8 132.4,325.8 132.8,325.8 133.3,325.8 133.8,325.8 134.2,325.8 134.7,325.8 135.2,325.8 135.7,325.8 136.1,325.8 136.6,325.8 137.1,325.8 137.5,325.8 138.0,325.8 138.5,325.8 138.9,325.8 139.4,325.8 139.9,325.8 140.3,325.9 140.8,325.9 141.3,326.0 141.7,326.2 142.2,326.4 142.7,326.7 143.1,327.2 143.6,328.0 144.1,329.1 144.6,330.8 145.0,333.4 145.5,337.0 146.0,342.2 146.4,349.2 146.9,358.4 147.4,369.4 147.8,381.9 148.3,394.8 148.8,407.0 149.2,417.5 149.7,426.0 150.2,432.5 150.6,437.2 151.1,440.5 151.6,442.8 152.0,444.3 152.5,445.3 153.0,446.0 153.5,446.4 153.9,446.7 154.4,446.9 154.9,447.0 155.3,447.1 155.8,447.2 156.3,447.2 156.7,447.2 157.2,447.2 157.7,447.3 158.1,447.3 158.6,447.3 159.1,447.3 159.5,447.3 160.0,447.3 160.5,447.3 160.9,447.3 161.4,447.3 161.9,447.3 162.4,447.3 162.8,447.3 163.3,447.3 163.8,447.3 164.2,447.3 164.7,447.3 165.2,447.3 165.6,447.3 166.1,447.3 166.6,447.3 167.0,447.3 167.5,447.3 168.0,447.3 168.4,447.3 168.9,447.3 169.4,447.3 169.9,447.3 170.3,447.3 170.8,447.3 171.3,447.3 171.7,447.3 172.2,447.3 172.7,447.3 173.1,447.3 173.6,447.3 174.1,447.3 174.5,447.3 175.0,447.3 175.5,447.3 175.9,447.3 176.4,447.3 176.9,447.3 177.3,447.3 177.8,447.3 178.3,447.3 178.8,447.3 179.2,447.3 179.7,447.3 180.2,447.3 180.6,447.3 181.1,447.3 181.6,447.3 182.0,447.3 182.5,447.3 183.0,447.3 183.4,447.3 183.9,447.3 184.4,447.3 184.8,447.3 185.3,447.3 185.8,447.3 186.2,447.3 186.7,447.3 187.2,447.3 187.7,447.3 188.1,447.3 188.6,447.3 189.1,447.3 189.5,447.3 190.0,447.3 190.5,447.3 190.9,447.3 191.4,447.3" fill="none" stroke="#111" stroke-width="1.6"/>
<path d="M69.1 324 L71.8 327 L69.1 330 L66.4 327Z" fill="#b474d8"/>
<line x1="81.08" y1="322" x2="81.08" y2="328" stroke="#b474d8" stroke-width="1.0"/>
<line x1="78.18" y1="322" x2="83.98" y2="322" stroke="#b474d8" stroke-width="1.0"/>
<line x1="78.18" y1="328" x2="83.98" y2="328" stroke="#b474d8" stroke-width="1.0"/>
<path d="M81.08 322 L83.78 325 L81.08 328 L78.38 325Z" fill="#b474d8"/>
<path d="M93.06 324 L95.76 327 L93.06 330 L90.36 327Z" fill="#b474d8"/>
<line x1="105.04" y1="324" x2="105.04" y2="332" stroke="#b474d8" stroke-width="1.0"/>
<line x1="102.14" y1="324" x2="107.94" y2="324" stroke="#b474d8" stroke-width="1.0"/>
<line x1="102.14" y1="332" x2="107.94" y2="332" stroke="#b474d8" stroke-width="1.0"/>
<path d="M105.04 325 L107.74 328 L105.04 331 L102.34 328Z" fill="#b474d8"/>
<line x1="117.02" y1="341" x2="117.02" y2="350" stroke="#b474d8" stroke-width="1.0"/>
<line x1="114.12" y1="341" x2="119.92" y2="341" stroke="#b474d8" stroke-width="1.0"/>
<line x1="114.12" y1="350" x2="119.92" y2="350" stroke="#b474d8" stroke-width="1.0"/>
<path d="M117.02 342.6 L119.72 345.6 L117.02 348.6 L114.32 345.6Z" fill="#b474d8"/>
<line x1="129" y1="427" x2="129" y2="440.6" stroke="#b474d8" stroke-width="1.0"/>
<line x1="126.1" y1="427" x2="131.9" y2="427" stroke="#b474d8" stroke-width="1.0"/>
<line x1="126.1" y1="440.6" x2="131.9" y2="440.6" stroke="#b474d8" stroke-width="1.0"/>
<path d="M129 431.8 L131.7 434.8 L129 437.8 L126.3 434.8Z" fill="#b474d8"/>
<path d="M140.98 443.9 L143.68 446.9 L140.98 449.9 L138.28 446.9Z" fill="#b474d8"/>
<path d="M152.96 444 L155.66 447 L152.96 450 L150.26 447Z" fill="#b474d8"/>
<path d="M164.94 444 L167.64 447 L164.94 450 L162.24 447Z" fill="#b474d8"/>
<path d="M176.92 444 L179.62 447 L176.92 450 L174.22 447Z" fill="#b474d8"/>
<path d="M188.9 444 L191.6 447 L188.9 450 L186.2 447Z" fill="#b474d8"/>
<rect x="66.6" y="324.8" width="5" height="5" fill="#20bc96"/>
<rect x="78.58" y="323.5" width="5" height="5" fill="#20bc96"/>
<rect x="90.56" y="324" width="5" height="5" fill="#20bc96"/>
<line x1="105.04" y1="327" x2="105.04" y2="334" stroke="#20bc96" stroke-width="1.0"/>
<line x1="102.14" y1="327" x2="107.94" y2="327" stroke="#20bc96" stroke-width="1.0"/>
<line x1="102.14" y1="334" x2="107.94" y2="334" stroke="#20bc96" stroke-width="1.0"/>
<rect x="102.54" y="328.3" width="5" height="5" fill="#20bc96"/>
<line x1="117.02" y1="351.3" x2="117.02" y2="362" stroke="#20bc96" stroke-width="1.0"/>
<line x1="114.12" y1="351.3" x2="119.92" y2="351.3" stroke="#20bc96" stroke-width="1.0"/>
<line x1="114.12" y1="362" x2="119.92" y2="362" stroke="#20bc96" stroke-width="1.0"/>
<rect x="114.52" y="353.7" width="5" height="5" fill="#20bc96"/>
<rect x="126.5" y="441.9" width="5" height="5" fill="#20bc96"/>
<rect x="138.48" y="444.4" width="5" height="5" fill="#20bc96"/>
<rect x="150.46" y="444.5" width="5" height="5" fill="#20bc96"/>
<rect x="162.44" y="444.5" width="5" height="5" fill="#20bc96"/>
<rect x="174.42" y="444.5" width="5" height="5" fill="#20bc96"/>
<rect x="186.4" y="444.5" width="5" height="5" fill="#20bc96"/>
<line x1="70.6" y1="325.4" x2="70.6" y2="333.5" stroke="#111" stroke-width="1.3"/>
<line x1="67.7" y1="325.4" x2="73.5" y2="325.4" stroke="#111" stroke-width="1.3"/>
<line x1="67.7" y1="333.5" x2="73.5" y2="333.5" stroke="#111" stroke-width="1.3"/>
<circle cx="70.6" cy="329.2" r="2.6" fill="#111"/>
<line x1="82.58" y1="322.5" x2="82.58" y2="328.3" stroke="#111" stroke-width="1.3"/>
<line x1="79.68" y1="322.5" x2="85.48" y2="322.5" stroke="#111" stroke-width="1.3"/>
<line x1="79.68" y1="328.3" x2="85.48" y2="328.3" stroke="#111" stroke-width="1.3"/>
<circle cx="82.58" cy="325.4" r="2.6" fill="#111"/>
<line x1="94.56" y1="322.5" x2="94.56" y2="330" stroke="#111" stroke-width="1.3"/>
<line x1="91.66" y1="322.5" x2="97.46" y2="322.5" stroke="#111" stroke-width="1.3"/>
<line x1="91.66" y1="330" x2="97.46" y2="330" stroke="#111" stroke-width="1.3"/>
<circle cx="94.56" cy="326.3" r="2.6" fill="#111"/>
<line x1="106.54" y1="322.5" x2="106.54" y2="331.2" stroke="#111" stroke-width="1.3"/>
<line x1="103.64" y1="322.5" x2="109.44" y2="322.5" stroke="#111" stroke-width="1.3"/>
<line x1="103.64" y1="331.2" x2="109.44" y2="331.2" stroke="#111" stroke-width="1.3"/>
<circle cx="106.54" cy="327" r="2.6" fill="#111"/>
<circle cx="118.52" cy="323.8" r="2.6" fill="#111"/>
<circle cx="130.5" cy="323.8" r="2.6" fill="#111"/>
<circle cx="142.48" cy="328.7" r="2.6" fill="#111"/>
<circle cx="154.46" cy="447" r="2.6" fill="#111"/>
<circle cx="166.44" cy="447" r="2.6" fill="#111"/>
<circle cx="178.42" cy="447" r="2.6" fill="#111"/>
<circle cx="190.4" cy="447" r="2.6" fill="#111"/>
<line x1="316.5" y1="389.5" x2="503" y2="389.5" stroke="#626262" stroke-width="1"/>
<line x1="316.5" y1="295" x2="316.5" y2="453.3" stroke="#222" stroke-width="1.6"/>
<line x1="313.7" y1="452.5" x2="316.5" y2="452.5" stroke="#222" stroke-width="1.2"/>
<text x="311.2" y="456.4" text-anchor="end" font-size="10" fill="#222">0</text>
<line x1="314.5" y1="446.2" x2="316.5" y2="446.2" stroke="#222" stroke-width="1.2"/>
<line x1="314.5" y1="439.9" x2="316.5" y2="439.9" stroke="#222" stroke-width="1.2"/>
<line x1="314.5" y1="433.6" x2="316.5" y2="433.6" stroke="#222" stroke-width="1.2"/>
<line x1="314.5" y1="427.3" x2="316.5" y2="427.3" stroke="#222" stroke-width="1.2"/>
<line x1="313.7" y1="421" x2="316.5" y2="421" stroke="#222" stroke-width="1.2"/>
<text x="311.2" y="424.9" text-anchor="end" font-size="10" fill="#222">25</text>
<line x1="314.5" y1="414.7" x2="316.5" y2="414.7" stroke="#222" stroke-width="1.2"/>
<line x1="314.5" y1="408.4" x2="316.5" y2="408.4" stroke="#222" stroke-width="1.2"/>
<line x1="314.5" y1="402.1" x2="316.5" y2="402.1" stroke="#222" stroke-width="1.2"/>
<line x1="314.5" y1="395.8" x2="316.5" y2="395.8" stroke="#222" stroke-width="1.2"/>
<line x1="313.7" y1="389.5" x2="316.5" y2="389.5" stroke="#222" stroke-width="1.2"/>
<text x="311.2" y="393.4" text-anchor="end" font-size="10" fill="#222">50</text>
<line x1="314.5" y1="383.2" x2="316.5" y2="383.2" stroke="#222" stroke-width="1.2"/>
<line x1="314.5" y1="376.9" x2="316.5" y2="376.9" stroke="#222" stroke-width="1.2"/>
<line x1="314.5" y1="370.6" x2="316.5" y2="370.6" stroke="#222" stroke-width="1.2"/>
<line x1="314.5" y1="364.3" x2="316.5" y2="364.3" stroke="#222" stroke-width="1.2"/>
<line x1="313.7" y1="358" x2="316.5" y2="358" stroke="#222" stroke-width="1.2"/>
<text x="311.2" y="361.9" text-anchor="end" font-size="10" fill="#222">75</text>
<line x1="314.5" y1="351.7" x2="316.5" y2="351.7" stroke="#222" stroke-width="1.2"/>
<line x1="314.5" y1="345.4" x2="316.5" y2="345.4" stroke="#222" stroke-width="1.2"/>
<line x1="314.5" y1="339.1" x2="316.5" y2="339.1" stroke="#222" stroke-width="1.2"/>
<line x1="314.5" y1="332.8" x2="316.5" y2="332.8" stroke="#222" stroke-width="1.2"/>
<line x1="313.7" y1="326.5" x2="316.5" y2="326.5" stroke="#222" stroke-width="1.2"/>
<text x="311.2" y="330.4" text-anchor="end" font-size="10" fill="#222">100</text>
<line x1="314.5" y1="320.2" x2="316.5" y2="320.2" stroke="#222" stroke-width="1.2"/>
<line x1="314.5" y1="313.9" x2="316.5" y2="313.9" stroke="#222" stroke-width="1.2"/>
<line x1="314.5" y1="307.6" x2="316.5" y2="307.6" stroke="#222" stroke-width="1.2"/>
<line x1="314.5" y1="301.3" x2="316.5" y2="301.3" stroke="#222" stroke-width="1.2"/>
<line x1="313.7" y1="295" x2="316.5" y2="295" stroke="#222" stroke-width="1.2"/>
<text x="311.2" y="298.9" text-anchor="end" font-size="10" fill="#222">125</text>
<line x1="315.9" y1="452.5" x2="503" y2="452.5" stroke="#222" stroke-width="1.6"/>
<line x1="316.5" y1="452.5" x2="316.5" y2="455.5" stroke="#222" stroke-width="1.2"/>
<text x="316.5" y="469.3" text-anchor="middle" font-size="10" fill="#222">0.001</text>
<line x1="325.86" y1="452.5" x2="325.86" y2="454.7" stroke="#222" stroke-width="1.1"/>
<line x1="331.33" y1="452.5" x2="331.33" y2="454.7" stroke="#222" stroke-width="1.1"/>
<line x1="335.21" y1="452.5" x2="335.21" y2="454.7" stroke="#222" stroke-width="1.1"/>
<line x1="338.22" y1="452.5" x2="338.22" y2="454.7" stroke="#222" stroke-width="1.1"/>
<line x1="340.68" y1="452.5" x2="340.68" y2="454.7" stroke="#222" stroke-width="1.1"/>
<line x1="342.77" y1="452.5" x2="342.77" y2="454.7" stroke="#222" stroke-width="1.1"/>
<line x1="344.57" y1="452.5" x2="344.57" y2="454.7" stroke="#222" stroke-width="1.1"/>
<line x1="346.16" y1="452.5" x2="346.16" y2="454.7" stroke="#222" stroke-width="1.1"/>
<line x1="347.58" y1="452.5" x2="347.58" y2="455.5" stroke="#222" stroke-width="1.2"/>
<text x="347.58" y="469.3" text-anchor="middle" font-size="10" fill="#222">0.01</text>
<line x1="356.94" y1="452.5" x2="356.94" y2="454.7" stroke="#222" stroke-width="1.1"/>
<line x1="362.41" y1="452.5" x2="362.41" y2="454.7" stroke="#222" stroke-width="1.1"/>
<line x1="366.29" y1="452.5" x2="366.29" y2="454.7" stroke="#222" stroke-width="1.1"/>
<line x1="369.3" y1="452.5" x2="369.3" y2="454.7" stroke="#222" stroke-width="1.1"/>
<line x1="371.76" y1="452.5" x2="371.76" y2="454.7" stroke="#222" stroke-width="1.1"/>
<line x1="373.85" y1="452.5" x2="373.85" y2="454.7" stroke="#222" stroke-width="1.1"/>
<line x1="375.65" y1="452.5" x2="375.65" y2="454.7" stroke="#222" stroke-width="1.1"/>
<line x1="377.24" y1="452.5" x2="377.24" y2="454.7" stroke="#222" stroke-width="1.1"/>
<line x1="378.66" y1="452.5" x2="378.66" y2="455.5" stroke="#222" stroke-width="1.2"/>
<text x="378.66" y="469.3" text-anchor="middle" font-size="10" fill="#222">0.1</text>
<line x1="388.02" y1="452.5" x2="388.02" y2="454.7" stroke="#222" stroke-width="1.1"/>
<line x1="393.49" y1="452.5" x2="393.49" y2="454.7" stroke="#222" stroke-width="1.1"/>
<line x1="397.37" y1="452.5" x2="397.37" y2="454.7" stroke="#222" stroke-width="1.1"/>
<line x1="400.38" y1="452.5" x2="400.38" y2="454.7" stroke="#222" stroke-width="1.1"/>
<line x1="402.84" y1="452.5" x2="402.84" y2="454.7" stroke="#222" stroke-width="1.1"/>
<line x1="404.93" y1="452.5" x2="404.93" y2="454.7" stroke="#222" stroke-width="1.1"/>
<line x1="406.73" y1="452.5" x2="406.73" y2="454.7" stroke="#222" stroke-width="1.1"/>
<line x1="408.32" y1="452.5" x2="408.32" y2="454.7" stroke="#222" stroke-width="1.1"/>
<line x1="409.74" y1="452.5" x2="409.74" y2="455.5" stroke="#222" stroke-width="1.2"/>
<text x="409.74" y="469.3" text-anchor="middle" font-size="10" fill="#222">1</text>
<line x1="419.1" y1="452.5" x2="419.1" y2="454.7" stroke="#222" stroke-width="1.1"/>
<line x1="424.57" y1="452.5" x2="424.57" y2="454.7" stroke="#222" stroke-width="1.1"/>
<line x1="428.45" y1="452.5" x2="428.45" y2="454.7" stroke="#222" stroke-width="1.1"/>
<line x1="431.46" y1="452.5" x2="431.46" y2="454.7" stroke="#222" stroke-width="1.1"/>
<line x1="433.92" y1="452.5" x2="433.92" y2="454.7" stroke="#222" stroke-width="1.1"/>
<line x1="436.01" y1="452.5" x2="436.01" y2="454.7" stroke="#222" stroke-width="1.1"/>
<line x1="437.81" y1="452.5" x2="437.81" y2="454.7" stroke="#222" stroke-width="1.1"/>
<line x1="439.4" y1="452.5" x2="439.4" y2="454.7" stroke="#222" stroke-width="1.1"/>
<line x1="440.82" y1="452.5" x2="440.82" y2="455.5" stroke="#222" stroke-width="1.2"/>
<text x="440.82" y="469.3" text-anchor="middle" font-size="10" fill="#222">10</text>
<line x1="450.18" y1="452.5" x2="450.18" y2="454.7" stroke="#222" stroke-width="1.1"/>
<line x1="455.65" y1="452.5" x2="455.65" y2="454.7" stroke="#222" stroke-width="1.1"/>
<line x1="459.53" y1="452.5" x2="459.53" y2="454.7" stroke="#222" stroke-width="1.1"/>
<line x1="462.54" y1="452.5" x2="462.54" y2="454.7" stroke="#222" stroke-width="1.1"/>
<line x1="465" y1="452.5" x2="465" y2="454.7" stroke="#222" stroke-width="1.1"/>
<line x1="467.09" y1="452.5" x2="467.09" y2="454.7" stroke="#222" stroke-width="1.1"/>
<line x1="468.89" y1="452.5" x2="468.89" y2="454.7" stroke="#222" stroke-width="1.1"/>
<line x1="470.48" y1="452.5" x2="470.48" y2="454.7" stroke="#222" stroke-width="1.1"/>
<line x1="471.9" y1="452.5" x2="471.9" y2="455.5" stroke="#222" stroke-width="1.2"/>
<text x="471.9" y="469.3" text-anchor="middle" font-size="10" fill="#222">100</text>
<line x1="481.26" y1="452.5" x2="481.26" y2="454.7" stroke="#222" stroke-width="1.1"/>
<line x1="486.73" y1="452.5" x2="486.73" y2="454.7" stroke="#222" stroke-width="1.1"/>
<line x1="490.61" y1="452.5" x2="490.61" y2="454.7" stroke="#222" stroke-width="1.1"/>
<line x1="493.62" y1="452.5" x2="493.62" y2="454.7" stroke="#222" stroke-width="1.1"/>
<line x1="496.08" y1="452.5" x2="496.08" y2="454.7" stroke="#222" stroke-width="1.1"/>
<line x1="498.17" y1="452.5" x2="498.17" y2="454.7" stroke="#222" stroke-width="1.1"/>
<line x1="499.97" y1="452.5" x2="499.97" y2="454.7" stroke="#222" stroke-width="1.1"/>
<line x1="501.56" y1="452.5" x2="501.56" y2="454.7" stroke="#222" stroke-width="1.1"/>
<line x1="502.98" y1="452.5" x2="502.98" y2="455.5" stroke="#222" stroke-width="1.2"/>
<text x="502.98" y="469.3" text-anchor="middle" font-size="10" fill="#222">1,000</text>
<text x="407.3" y="298.9" text-anchor="middle" font-size="11.55" fill="#111">WSU MDR1+</text>
<text x="410.4" y="485.5" text-anchor="middle" font-size="11.85" fill="#111">Concentration drug (nmol/L)</text>
<text transform="translate(278,373.2) rotate(-90)" text-anchor="middle" font-size="11.85" fill="#111">% Viability (normalized)</text>
<text x="265.5" y="293" font-size="17" font-weight="bold" fill="#000">D</text>
<polyline points="338.3,319.1 338.8,319.1 339.3,319.1 339.7,319.1 340.2,319.1 340.7,319.1 341.2,319.1 341.7,319.1 342.1,319.1 342.6,319.1 343.1,319.1 343.6,319.1 344.1,319.1 344.6,319.1 345.0,319.1 345.5,319.1 346.0,319.1 346.5,319.1 347.0,319.2 347.4,319.2 347.9,319.2 348.4,319.2 348.9,319.2 349.4,319.2 349.8,319.2 350.3,319.2 350.8,319.2 351.3,319.2 351.8,319.2 352.2,319.2 352.7,319.2 353.2,319.2 353.7,319.2 354.2,319.2 354.6,319.2 355.1,319.2 355.6,319.2 356.1,319.2 356.6,319.3 357.1,319.3 357.5,319.3 358.0,319.3 358.5,319.3 359.0,319.3 359.5,319.3 359.9,319.3 360.4,319.3 360.9,319.3 361.4,319.3 361.9,319.3 362.3,319.3 362.8,319.4 363.3,319.4 363.8,319.4 364.3,319.4 364.7,319.4 365.2,319.4 365.7,319.4 366.2,319.4 366.7,319.4 367.1,319.4 367.6,319.4 368.1,319.5 368.6,319.5 369.1,319.5 369.6,319.5 370.0,319.5 370.5,319.5 371.0,319.5 371.5,319.5 372.0,319.5 372.4,319.6 372.9,319.6 373.4,319.6 373.9,319.6 374.4,319.6 374.8,319.6 375.3,319.6 375.8,319.6 376.3,319.7 376.8,319.7 377.2,319.7 377.7,319.7 378.2,319.7 378.7,319.7 379.2,319.8 379.6,319.8 380.1,319.8 380.6,319.8 381.1,319.8 381.6,319.8 382.1,319.9 382.5,319.9 383.0,319.9 383.5,319.9 384.0,319.9 384.5,320.0 384.9,320.0 385.4,320.0 385.9,320.0 386.4,320.0 386.9,320.1 387.3,320.1 387.8,320.1 388.3,320.1 388.8,320.2 389.3,320.2 389.7,320.2 390.2,320.2 390.7,320.3 391.2,320.3 391.7,320.3 392.1,320.3 392.6,320.4 393.1,320.4 393.6,320.4 394.1,320.5 394.6,320.5 395.0,320.5 395.5,320.6 396.0,320.6 396.5,320.6 397.0,320.7 397.4,320.7 397.9,320.7 398.4,320.8 398.9,320.8 399.4,320.8 399.8,320.9 400.3,320.9 400.8,321.0 401.3,321.0 401.8,321.0 402.2,321.1 402.7,321.1 403.2,321.2 403.7,321.2 404.2,321.3 404.6,321.3 405.1,321.4 405.6,321.4 406.1,321.5 406.6,321.5 407.1,321.6 407.5,321.6 408.0,321.7 408.5,321.7 409.0,321.8 409.5,321.8 409.9,321.9 410.4,321.9 410.9,322.0 411.4,322.1 411.9,322.1 412.3,322.2 412.8,322.3 413.3,322.3 413.8,322.4 414.3,322.5 414.7,322.5 415.2,322.6 415.7,322.7 416.2,322.8 416.7,322.8 417.1,322.9 417.6,323.0 418.1,323.1 418.6,323.1 419.1,323.2 419.6,323.3 420.0,323.4 420.5,323.5 421.0,323.6 421.5,323.7 422.0,323.8 422.4,323.9 422.9,324.0 423.4,324.1 423.9,324.2 424.4,324.3 424.8,324.4 425.3,324.5 425.8,324.6 426.3,324.7 426.8,324.8 427.2,324.9 427.7,325.0 428.2,325.2 428.7,325.3 429.2,325.4 429.6,325.5 430.1,325.7 430.6,325.8 431.1,325.9 431.6,326.1 432.1,326.2 432.5,326.3 433.0,326.5 433.5,326.6 434.0,326.8 434.5,326.9 434.9,327.1 435.4,327.2 435.9,327.4 436.4,327.6 436.9,327.7 437.3,327.9 437.8,328.1 438.3,328.2 438.8,328.4 439.3,328.6 439.7,328.8 440.2,329.0 440.7,329.2 441.2,329.3 441.7,329.5 442.1,329.7 442.6,329.9 443.1,330.2 443.6,330.4 444.1,330.6 444.6,330.8 445.0,331.0 445.5,331.2 446.0,331.5 446.5,331.7 447.0,331.9 447.4,332.2 447.9,332.4 448.4,332.7 448.9,332.9 449.4,333.2 449.8,333.4 450.3,333.7 450.8,334.0 451.3,334.2 451.8,334.5 452.2,334.8 452.7,335.1 453.2,335.4 453.7,335.7 454.2,336.0 454.6,336.3 455.1,336.6 455.6,336.9 456.1,337.2 456.6,337.5 457.1,337.9 457.5,338.2 458.0,338.5 458.5,338.9 459.0,339.2 459.5,339.6 459.9,339.9 460.4,340.3 460.9,340.7 461.4,341.0 461.9,341.4 462.3,341.8 462.8,342.2 463.3,342.6" fill="none" stroke="#9d5fc0" stroke-width="1.25"/>
<polyline points="338.3,319.6 338.8,319.6 339.3,319.6 339.7,319.6 340.2,319.6 340.7,319.6 341.2,319.6 341.7,319.6 342.1,319.6 342.6,319.6 343.1,319.6 343.6,319.6 344.1,319.6 344.6,319.6 345.0,319.6 345.5,319.6 346.0,319.6 346.5,319.6 347.0,319.6 347.4,319.6 347.9,319.6 348.4,319.6 348.9,319.6 349.4,319.6 349.8,319.6 350.3,319.6 350.8,319.6 351.3,319.6 351.8,319.6 352.2,319.6 352.7,319.6 353.2,319.6 353.7,319.6 354.2,319.6 354.6,319.6 355.1,319.6 355.6,319.6 356.1,319.6 356.6,319.6 357.1,319.6 357.5,319.6 358.0,319.6 358.5,319.6 359.0,319.6 359.5,319.6 359.9,319.6 360.4,319.6 360.9,319.6 361.4,319.6 361.9,319.6 362.3,319.6 362.8,319.6 363.3,319.6 363.8,319.6 364.3,319.6 364.7,319.6 365.2,319.6 365.7,319.6 366.2,319.6 366.7,319.6 367.1,319.6 367.6,319.6 368.1,319.6 368.6,319.6 369.1,319.6 369.6,319.6 370.0,319.6 370.5,319.6 371.0,319.6 371.5,319.6 372.0,319.6 372.4,319.6 372.9,319.6 373.4,319.7 373.9,319.7 374.4,319.7 374.8,319.7 375.3,319.7 375.8,319.8 376.3,319.8 376.8,319.9 377.2,319.9 377.7,320.0 378.2,320.1 378.7,320.2 379.2,320.3 379.6,320.5 380.1,320.6 380.6,320.8 381.1,321.1 381.6,321.4 382.1,321.7 382.5,322.1 383.0,322.6 383.5,323.2 384.0,323.9 384.5,324.7 384.9,325.6 385.4,326.7 385.9,328.0 386.4,329.6 386.9,331.3 387.3,333.4 387.8,335.8 388.3,338.5 388.8,341.5 389.3,345.0 389.7,348.8 390.2,353.0 390.7,357.7 391.2,362.7 391.7,367.9 392.1,373.5 392.6,379.2 393.1,385.0 393.6,390.8 394.1,396.5 394.6,402.0 395.0,407.3 395.5,412.3 396.0,416.9 396.5,421.1 397.0,425.0 397.4,428.4 397.9,431.4 398.4,434.1 398.9,436.5 399.4,438.5 399.8,440.3 400.3,441.8 400.8,443.1 401.3,444.2 401.8,445.2 402.2,446.0 402.7,446.6 403.2,447.2 403.7,447.7 404.2,448.1 404.6,448.4 405.1,448.7 405.6,449.0 406.1,449.2 406.6,449.3 407.1,449.5 407.5,449.6 408.0,449.7 408.5,449.8 409.0,449.9 409.5,449.9 409.9,450.0 410.4,450.0 410.9,450.1 411.4,450.1 411.9,450.1 412.3,450.1 412.8,450.1 413.3,450.2 413.8,450.2 414.3,450.2 414.7,450.2 415.2,450.2 415.7,450.2 416.2,450.2 416.7,450.2 417.1,450.2 417.6,450.2 418.1,450.2 418.6,450.2 419.1,450.2 419.6,450.2 420.0,450.2 420.5,450.2 421.0,450.2 421.5,450.2 422.0,450.2 422.4,450.2 422.9,450.2 423.4,450.2 423.9,450.2 424.4,450.2 424.8,450.2 425.3,450.2 425.8,450.2 426.3,450.2 426.8,450.2 427.2,450.2 427.7,450.2 428.2,450.2 428.7,450.2 429.2,450.2 429.6,450.2 430.1,450.2 430.6,450.2 431.1,450.2 431.6,450.2 432.1,450.2 432.5,450.2 433.0,450.2 433.5,450.2 434.0,450.2 434.5,450.2 434.9,450.2 435.4,450.2 435.9,450.2 436.4,450.2 436.9,450.2 437.3,450.2 437.8,450.2 438.3,450.2 438.8,450.2 439.3,450.2 439.7,450.2 440.2,450.2 440.7,450.2 441.2,450.2 441.7,450.2 442.1,450.2 442.6,450.2 443.1,450.2 443.6,450.2 444.1,450.2 444.6,450.2 445.0,450.2 445.5,450.2 446.0,450.2 446.5,450.2 447.0,450.2 447.4,450.2 447.9,450.2 448.4,450.2 448.9,450.2 449.4,450.2 449.8,450.2 450.3,450.2 450.8,450.2 451.3,450.2 451.8,450.2 452.2,450.2 452.7,450.2 453.2,450.2 453.7,450.2 454.2,450.2 454.6,450.2 455.1,450.2 455.6,450.2 456.1,450.2 456.6,450.2 457.1,450.2 457.5,450.2 458.0,450.2 458.5,450.2 459.0,450.2 459.5,450.2 459.9,450.2 460.4,450.2 460.9,450.2 461.4,450.2 461.9,450.2 462.3,450.2 462.8,450.2 463.3,450.2" fill="none" stroke="#2aae92" stroke-width="1.25"/>
<polyline points="338.3,320.2 338.8,320.2 339.3,320.2 339.7,320.2 340.2,320.2 340.7,320.2 341.2,320.2 341.7,320.2 342.1,320.2 342.6,320.2 343.1,320.2 343.6,320.2 344.1,320.2 344.6,320.2 345.0,320.2 345.5,320.2 346.0,320.2 346.5,320.2 347.0,320.2 347.4,320.2 347.9,320.2 348.4,320.2 348.9,320.2 349.4,320.2 349.8,320.2 350.3,320.2 350.8,320.2 351.3,320.2 351.8,320.2 352.2,320.2 352.7,320.2 353.2,320.2 353.7,320.2 354.2,320.2 354.6,320.2 355.1,320.2 355.6,320.2 356.1,320.2 356.6,320.2 357.1,320.2 357.5,320.2 358.0,320.2 358.5,320.2 359.0,320.2 359.5,320.2 359.9,320.2 360.4,320.2 360.9,320.2 361.4,320.2 361.9,320.2 362.3,320.2 362.8,320.2 363.3,320.2 363.8,320.2 364.3,320.2 364.7,320.2 365.2,320.2 365.7,320.2 366.2,320.2 366.7,320.2 367.1,320.2 367.6,320.2 368.1,320.2 368.6,320.2 369.1,320.2 369.6,320.2 370.0,320.2 370.5,320.2 371.0,320.2 371.5,320.2 372.0,320.2 372.4,320.2 372.9,320.2 373.4,320.2 373.9,320.2 374.4,320.2 374.8,320.2 375.3,320.2 375.8,320.2 376.3,320.2 376.8,320.2 377.2,320.2 377.7,320.2 378.2,320.2 378.7,320.2 379.2,320.2 379.6,320.2 380.1,320.2 380.6,320.2 381.1,320.2 381.6,320.2 382.1,320.2 382.5,320.2 383.0,320.2 383.5,320.2 384.0,320.2 384.5,320.2 384.9,320.2 385.4,320.2 385.9,320.2 386.4,320.2 386.9,320.2 387.3,320.2 387.8,320.2 388.3,320.2 388.8,320.2 389.3,320.2 389.7,320.2 390.2,320.2 390.7,320.2 391.2,320.2 391.7,320.2 392.1,320.2 392.6,320.2 393.1,320.2 393.6,320.2 394.1,320.2 394.6,320.2 395.0,320.2 395.5,320.2 396.0,320.2 396.5,320.2 397.0,320.2 397.4,320.2 397.9,320.2 398.4,320.2 398.9,320.2 399.4,320.2 399.8,320.2 400.3,320.2 400.8,320.2 401.3,320.2 401.8,320.2 402.2,320.2 402.7,320.2 403.2,320.2 403.7,320.2 404.2,320.2 404.6,320.2 405.1,320.2 405.6,320.2 406.1,320.2 406.6,320.2 407.1,320.2 407.5,320.2 408.0,320.2 408.5,320.2 409.0,320.2 409.5,320.2 409.9,320.2 410.4,320.2 410.9,320.2 411.4,320.2 411.9,320.2 412.3,320.2 412.8,320.2 413.3,320.3 413.8,320.3 414.3,320.3 414.7,320.3 415.2,320.3 415.7,320.3 416.2,320.3 416.7,320.3 417.1,320.4 417.6,320.4 418.1,320.4 418.6,320.5 419.1,320.5 419.6,320.6 420.0,320.6 420.5,320.7 421.0,320.8 421.5,320.8 422.0,321.0 422.4,321.1 422.9,321.2 423.4,321.4 423.9,321.6 424.4,321.8 424.8,322.0 425.3,322.3 425.8,322.7 426.3,323.0 426.8,323.5 427.2,324.0 427.7,324.6 428.2,325.3 428.7,326.1 429.2,327.0 429.6,328.0 430.1,329.2 430.6,330.5 431.1,332.0 431.6,333.7 432.1,335.6 432.5,337.8 433.0,340.2 433.5,342.9 434.0,345.8 434.5,349.0 434.9,352.5 435.4,356.3 435.9,360.3 436.4,364.6 436.9,369.1 437.3,373.7 437.8,378.5 438.3,383.4 438.8,388.3 439.3,393.1 439.7,397.9 440.2,402.5 440.7,406.9 441.2,411.2 441.7,415.1 442.1,418.9 442.6,422.3 443.1,425.5 443.6,428.4 444.1,431.0 444.6,433.4 445.0,435.5 445.5,437.4 446.0,439.1 446.5,440.5 447.0,441.8 447.4,443.0 447.9,444.0 448.4,444.9 448.9,445.6 449.4,446.3 449.8,446.9 450.3,447.4 450.8,447.8 451.3,448.2 451.8,448.5 452.2,448.8 452.7,449.1 453.2,449.3 453.7,449.5 454.2,449.6 454.6,449.8 455.1,449.9 455.6,450.0 456.1,450.1 456.6,450.1 457.1,450.2 457.5,450.3 458.0,450.3 458.5,450.4 459.0,450.4 459.5,450.4 459.9,450.4 460.4,450.5 460.9,450.5 461.4,450.5 461.9,450.5 462.3,450.5 462.8,450.5 463.3,450.6" fill="none" stroke="#111" stroke-width="1.6"/>
<line x1="337.8" y1="314.5" x2="337.8" y2="318.8" stroke="#b474d8" stroke-width="1.0"/>
<line x1="334.9" y1="314.5" x2="340.7" y2="314.5" stroke="#b474d8" stroke-width="1.0"/>
<line x1="334.9" y1="318.8" x2="340.7" y2="318.8" stroke="#b474d8" stroke-width="1.0"/>
<path d="M337.8 313.5 L340.5 316.5 L337.8 319.5 L335.1 316.5Z" fill="#b474d8"/>
<path d="M350.1 315 L352.8 318 L350.1 321 L347.4 318Z" fill="#b474d8"/>
<path d="M362.4 316 L365.1 319 L362.4 322 L359.7 319Z" fill="#b474d8"/>
<path d="M374.7 313 L377.4 316 L374.7 319 L372 316Z" fill="#b474d8"/>
<line x1="387" y1="309.3" x2="387" y2="320.4" stroke="#b474d8" stroke-width="1.0"/>
<line x1="384.1" y1="309.3" x2="389.9" y2="309.3" stroke="#b474d8" stroke-width="1.0"/>
<line x1="384.1" y1="320.4" x2="389.9" y2="320.4" stroke="#b474d8" stroke-width="1.0"/>
<path d="M387 312 L389.7 315 L387 318 L384.3 315Z" fill="#b474d8"/>
<line x1="399.3" y1="308.4" x2="399.3" y2="325" stroke="#b474d8" stroke-width="1.0"/>
<line x1="396.4" y1="308.4" x2="402.2" y2="308.4" stroke="#b474d8" stroke-width="1.0"/>
<line x1="396.4" y1="325" x2="402.2" y2="325" stroke="#b474d8" stroke-width="1.0"/>
<path d="M399.3 310.5 L402 313.5 L399.3 316.5 L396.6 313.5Z" fill="#b474d8"/>
<path d="M411.6 321.2 L414.3 324.2 L411.6 327.2 L408.9 324.2Z" fill="#b474d8"/>
<path d="M423.9 325.4 L426.6 328.4 L423.9 331.4 L421.2 328.4Z" fill="#b474d8"/>
<path d="M436.2 322 L438.9 325 L436.2 328 L433.5 325Z" fill="#b474d8"/>
<line x1="448.5" y1="327.3" x2="448.5" y2="337.3" stroke="#b474d8" stroke-width="1.0"/>
<line x1="445.6" y1="327.3" x2="451.4" y2="327.3" stroke="#b474d8" stroke-width="1.0"/>
<line x1="445.6" y1="337.3" x2="451.4" y2="337.3" stroke="#b474d8" stroke-width="1.0"/>
<path d="M448.5 328.9 L451.2 331.9 L448.5 334.9 L445.8 331.9Z" fill="#b474d8"/>
<path d="M460.8 337.1 L463.5 340.1 L460.8 343.1 L458.1 340.1Z" fill="#b474d8"/>
<rect x="335.3" y="318" width="5" height="5" fill="#20bc96"/>
<line x1="350.1" y1="317" x2="350.1" y2="323" stroke="#20bc96" stroke-width="1.0"/>
<line x1="347.2" y1="317" x2="353" y2="317" stroke="#20bc96" stroke-width="1.0"/>
<line x1="347.2" y1="323" x2="353" y2="323" stroke="#20bc96" stroke-width="1.0"/>
<rect x="347.6" y="317.5" width="5" height="5" fill="#20bc96"/>
<line x1="362.4" y1="318" x2="362.4" y2="328" stroke="#20bc96" stroke-width="1.0"/>
<line x1="359.5" y1="318" x2="365.3" y2="318" stroke="#20bc96" stroke-width="1.0"/>
<line x1="359.5" y1="328" x2="365.3" y2="328" stroke="#20bc96" stroke-width="1.0"/>
<rect x="359.9" y="320.2" width="5" height="5" fill="#20bc96"/>
<line x1="374.7" y1="309.6" x2="374.7" y2="314.5" stroke="#20bc96" stroke-width="1.0"/>
<line x1="371.8" y1="309.6" x2="377.6" y2="309.6" stroke="#20bc96" stroke-width="1.0"/>
<line x1="371.8" y1="314.5" x2="377.6" y2="314.5" stroke="#20bc96" stroke-width="1.0"/>
<rect x="372.2" y="310.2" width="5" height="5" fill="#20bc96"/>
<rect x="384.5" y="335.6" width="5" height="5" fill="#20bc96"/>
<rect x="396.8" y="432.9" width="5" height="5" fill="#20bc96"/>
<rect x="409.1" y="446.7" width="5" height="5" fill="#20bc96"/>
<rect x="421.4" y="447.7" width="5" height="5" fill="#20bc96"/>
<rect x="433.7" y="447.7" width="5" height="5" fill="#20bc96"/>
<rect x="446" y="447.7" width="5" height="5" fill="#20bc96"/>
<rect x="458.3" y="447.7" width="5" height="5" fill="#20bc96"/>
<line x1="339.3" y1="322.7" x2="339.3" y2="335.8" stroke="#111" stroke-width="1.3"/>
<line x1="336.4" y1="322.7" x2="342.2" y2="322.7" stroke="#111" stroke-width="1.3"/>
<line x1="336.4" y1="335.8" x2="342.2" y2="335.8" stroke="#111" stroke-width="1.3"/>
<circle cx="339.3" cy="328.8" r="2.6" fill="#111"/>
<line x1="351.6" y1="316.5" x2="351.6" y2="327.8" stroke="#111" stroke-width="1.3"/>
<line x1="348.7" y1="316.5" x2="354.5" y2="316.5" stroke="#111" stroke-width="1.3"/>
<line x1="348.7" y1="327.8" x2="354.5" y2="327.8" stroke="#111" stroke-width="1.3"/>
<circle cx="351.6" cy="321.9" r="2.6" fill="#111"/>
<line x1="363.9" y1="313.9" x2="363.9" y2="327.3" stroke="#111" stroke-width="1.3"/>
<line x1="361" y1="313.9" x2="366.8" y2="313.9" stroke="#111" stroke-width="1.3"/>
<line x1="361" y1="327.3" x2="366.8" y2="327.3" stroke="#111" stroke-width="1.3"/>
<circle cx="363.9" cy="320.4" r="2.6" fill="#111"/>
<circle cx="376.2" cy="318.1" r="2.6" fill="#111"/>
<line x1="388.5" y1="310.4" x2="388.5" y2="325" stroke="#111" stroke-width="1.3"/>
<line x1="385.6" y1="310.4" x2="391.4" y2="310.4" stroke="#111" stroke-width="1.3"/>
<line x1="385.6" y1="325" x2="391.4" y2="325" stroke="#111" stroke-width="1.3"/>
<circle cx="388.5" cy="318.1" r="2.6" fill="#111"/>
<line x1="400.8" y1="311.9" x2="400.8" y2="319.6" stroke="#111" stroke-width="1.3"/>
<line x1="397.9" y1="311.9" x2="403.7" y2="311.9" stroke="#111" stroke-width="1.3"/>
<line x1="397.9" y1="319.6" x2="403.7" y2="319.6" stroke="#111" stroke-width="1.3"/>
<circle cx="400.8" cy="315.8" r="2.6" fill="#111"/>
<line x1="413.1" y1="314.5" x2="413.1" y2="321.6" stroke="#111" stroke-width="1.3"/>
<line x1="410.2" y1="314.5" x2="416" y2="314.5" stroke="#111" stroke-width="1.3"/>
<line x1="410.2" y1="321.6" x2="416" y2="321.6" stroke="#111" stroke-width="1.3"/>
<circle cx="413.1" cy="318.1" r="2.6" fill="#111"/>
<line x1="425.4" y1="321" x2="425.4" y2="326" stroke="#111" stroke-width="1.3"/>
<line x1="422.5" y1="321" x2="428.3" y2="321" stroke="#111" stroke-width="1.3"/>
<line x1="422.5" y1="326" x2="428.3" y2="326" stroke="#111" stroke-width="1.3"/>
<circle cx="425.4" cy="323.5" r="2.6" fill="#111"/>
<line x1="437.7" y1="376.5" x2="437.7" y2="382.9" stroke="#111" stroke-width="1.3"/>
<line x1="434.8" y1="376.5" x2="440.6" y2="376.5" stroke="#111" stroke-width="1.3"/>
<line x1="434.8" y1="382.9" x2="440.6" y2="382.9" stroke="#111" stroke-width="1.3"/>
<circle cx="437.7" cy="379.6" r="2.6" fill="#111"/>
<circle cx="450" cy="450.8" r="2.6" fill="#111"/>
<circle cx="462.3" cy="450.8" r="2.6" fill="#111"/>
<line x1="50.5" y1="616.5" x2="234" y2="616.5" stroke="#626262" stroke-width="1"/>
<line x1="50.5" y1="524.27" x2="50.5" y2="678.7" stroke="#222" stroke-width="1.6"/>
<line x1="47.7" y1="677.9" x2="50.5" y2="677.9" stroke="#222" stroke-width="1.2"/>
<text x="45.2" y="681.8" text-anchor="end" font-size="10" fill="#222">0</text>
<line x1="48.5" y1="671.75" x2="50.5" y2="671.75" stroke="#222" stroke-width="1.2"/>
<line x1="48.5" y1="665.61" x2="50.5" y2="665.61" stroke="#222" stroke-width="1.2"/>
<line x1="48.5" y1="659.46" x2="50.5" y2="659.46" stroke="#222" stroke-width="1.2"/>
<line x1="48.5" y1="653.32" x2="50.5" y2="653.32" stroke="#222" stroke-width="1.2"/>
<line x1="47.7" y1="647.17" x2="50.5" y2="647.17" stroke="#222" stroke-width="1.2"/>
<text x="45.2" y="651.07" text-anchor="end" font-size="10" fill="#222">25</text>
<line x1="48.5" y1="641.03" x2="50.5" y2="641.03" stroke="#222" stroke-width="1.2"/>
<line x1="48.5" y1="634.88" x2="50.5" y2="634.88" stroke="#222" stroke-width="1.2"/>
<line x1="48.5" y1="628.74" x2="50.5" y2="628.74" stroke="#222" stroke-width="1.2"/>
<line x1="48.5" y1="622.6" x2="50.5" y2="622.6" stroke="#222" stroke-width="1.2"/>
<line x1="47.7" y1="616.45" x2="50.5" y2="616.45" stroke="#222" stroke-width="1.2"/>
<text x="45.2" y="620.35" text-anchor="end" font-size="10" fill="#222">50</text>
<line x1="48.5" y1="610.3" x2="50.5" y2="610.3" stroke="#222" stroke-width="1.2"/>
<line x1="48.5" y1="604.16" x2="50.5" y2="604.16" stroke="#222" stroke-width="1.2"/>
<line x1="48.5" y1="598.01" x2="50.5" y2="598.01" stroke="#222" stroke-width="1.2"/>
<line x1="48.5" y1="591.87" x2="50.5" y2="591.87" stroke="#222" stroke-width="1.2"/>
<line x1="47.7" y1="585.72" x2="50.5" y2="585.72" stroke="#222" stroke-width="1.2"/>
<text x="45.2" y="589.62" text-anchor="end" font-size="10" fill="#222">75</text>
<line x1="48.5" y1="579.58" x2="50.5" y2="579.58" stroke="#222" stroke-width="1.2"/>
<line x1="48.5" y1="573.43" x2="50.5" y2="573.43" stroke="#222" stroke-width="1.2"/>
<line x1="48.5" y1="567.29" x2="50.5" y2="567.29" stroke="#222" stroke-width="1.2"/>
<line x1="48.5" y1="561.14" x2="50.5" y2="561.14" stroke="#222" stroke-width="1.2"/>
<line x1="47.7" y1="555" x2="50.5" y2="555" stroke="#222" stroke-width="1.2"/>
<text x="45.2" y="558.9" text-anchor="end" font-size="10" fill="#222">100</text>
<line x1="48.5" y1="548.86" x2="50.5" y2="548.86" stroke="#222" stroke-width="1.2"/>
<line x1="48.5" y1="542.71" x2="50.5" y2="542.71" stroke="#222" stroke-width="1.2"/>
<line x1="48.5" y1="536.56" x2="50.5" y2="536.56" stroke="#222" stroke-width="1.2"/>
<line x1="48.5" y1="530.42" x2="50.5" y2="530.42" stroke="#222" stroke-width="1.2"/>
<line x1="47.7" y1="524.27" x2="50.5" y2="524.27" stroke="#222" stroke-width="1.2"/>
<text x="45.2" y="528.17" text-anchor="end" font-size="10" fill="#222">125</text>
<line x1="49.9" y1="677.9" x2="234" y2="677.9" stroke="#222" stroke-width="1.6"/>
<line x1="50.5" y1="677.9" x2="50.5" y2="680.9" stroke="#222" stroke-width="1.2"/>
<text x="50.5" y="694.2" text-anchor="middle" font-size="10" fill="#222">0.001</text>
<line x1="59.68" y1="677.9" x2="59.68" y2="680.1" stroke="#222" stroke-width="1.1"/>
<line x1="65.05" y1="677.9" x2="65.05" y2="680.1" stroke="#222" stroke-width="1.1"/>
<line x1="68.86" y1="677.9" x2="68.86" y2="680.1" stroke="#222" stroke-width="1.1"/>
<line x1="71.82" y1="677.9" x2="71.82" y2="680.1" stroke="#222" stroke-width="1.1"/>
<line x1="74.23" y1="677.9" x2="74.23" y2="680.1" stroke="#222" stroke-width="1.1"/>
<line x1="76.28" y1="677.9" x2="76.28" y2="680.1" stroke="#222" stroke-width="1.1"/>
<line x1="78.04" y1="677.9" x2="78.04" y2="680.1" stroke="#222" stroke-width="1.1"/>
<line x1="79.6" y1="677.9" x2="79.6" y2="680.1" stroke="#222" stroke-width="1.1"/>
<line x1="81" y1="677.9" x2="81" y2="680.9" stroke="#222" stroke-width="1.2"/>
<text x="81" y="694.2" text-anchor="middle" font-size="10" fill="#222">0.01</text>
<line x1="90.18" y1="677.9" x2="90.18" y2="680.1" stroke="#222" stroke-width="1.1"/>
<line x1="95.55" y1="677.9" x2="95.55" y2="680.1" stroke="#222" stroke-width="1.1"/>
<line x1="99.36" y1="677.9" x2="99.36" y2="680.1" stroke="#222" stroke-width="1.1"/>
<line x1="102.32" y1="677.9" x2="102.32" y2="680.1" stroke="#222" stroke-width="1.1"/>
<line x1="104.73" y1="677.9" x2="104.73" y2="680.1" stroke="#222" stroke-width="1.1"/>
<line x1="106.78" y1="677.9" x2="106.78" y2="680.1" stroke="#222" stroke-width="1.1"/>
<line x1="108.54" y1="677.9" x2="108.54" y2="680.1" stroke="#222" stroke-width="1.1"/>
<line x1="110.1" y1="677.9" x2="110.1" y2="680.1" stroke="#222" stroke-width="1.1"/>
<line x1="111.5" y1="677.9" x2="111.5" y2="680.9" stroke="#222" stroke-width="1.2"/>
<text x="111.5" y="694.2" text-anchor="middle" font-size="10" fill="#222">0.1</text>
<line x1="120.68" y1="677.9" x2="120.68" y2="680.1" stroke="#222" stroke-width="1.1"/>
<line x1="126.05" y1="677.9" x2="126.05" y2="680.1" stroke="#222" stroke-width="1.1"/>
<line x1="129.86" y1="677.9" x2="129.86" y2="680.1" stroke="#222" stroke-width="1.1"/>
<line x1="132.82" y1="677.9" x2="132.82" y2="680.1" stroke="#222" stroke-width="1.1"/>
<line x1="135.23" y1="677.9" x2="135.23" y2="680.1" stroke="#222" stroke-width="1.1"/>
<line x1="137.28" y1="677.9" x2="137.28" y2="680.1" stroke="#222" stroke-width="1.1"/>
<line x1="139.04" y1="677.9" x2="139.04" y2="680.1" stroke="#222" stroke-width="1.1"/>
<line x1="140.6" y1="677.9" x2="140.6" y2="680.1" stroke="#222" stroke-width="1.1"/>
<line x1="142" y1="677.9" x2="142" y2="680.9" stroke="#222" stroke-width="1.2"/>
<text x="142" y="694.2" text-anchor="middle" font-size="10" fill="#222">1</text>
<line x1="151.18" y1="677.9" x2="151.18" y2="680.1" stroke="#222" stroke-width="1.1"/>
<line x1="156.55" y1="677.9" x2="156.55" y2="680.1" stroke="#222" stroke-width="1.1"/>
<line x1="160.36" y1="677.9" x2="160.36" y2="680.1" stroke="#222" stroke-width="1.1"/>
<line x1="163.32" y1="677.9" x2="163.32" y2="680.1" stroke="#222" stroke-width="1.1"/>
<line x1="165.73" y1="677.9" x2="165.73" y2="680.1" stroke="#222" stroke-width="1.1"/>
<line x1="167.78" y1="677.9" x2="167.78" y2="680.1" stroke="#222" stroke-width="1.1"/>
<line x1="169.54" y1="677.9" x2="169.54" y2="680.1" stroke="#222" stroke-width="1.1"/>
<line x1="171.1" y1="677.9" x2="171.1" y2="680.1" stroke="#222" stroke-width="1.1"/>
<line x1="172.5" y1="677.9" x2="172.5" y2="680.9" stroke="#222" stroke-width="1.2"/>
<text x="172.5" y="694.2" text-anchor="middle" font-size="10" fill="#222">10</text>
<line x1="181.68" y1="677.9" x2="181.68" y2="680.1" stroke="#222" stroke-width="1.1"/>
<line x1="187.05" y1="677.9" x2="187.05" y2="680.1" stroke="#222" stroke-width="1.1"/>
<line x1="190.86" y1="677.9" x2="190.86" y2="680.1" stroke="#222" stroke-width="1.1"/>
<line x1="193.82" y1="677.9" x2="193.82" y2="680.1" stroke="#222" stroke-width="1.1"/>
<line x1="196.23" y1="677.9" x2="196.23" y2="680.1" stroke="#222" stroke-width="1.1"/>
<line x1="198.28" y1="677.9" x2="198.28" y2="680.1" stroke="#222" stroke-width="1.1"/>
<line x1="200.04" y1="677.9" x2="200.04" y2="680.1" stroke="#222" stroke-width="1.1"/>
<line x1="201.6" y1="677.9" x2="201.6" y2="680.1" stroke="#222" stroke-width="1.1"/>
<line x1="203" y1="677.9" x2="203" y2="680.9" stroke="#222" stroke-width="1.2"/>
<text x="203" y="694.2" text-anchor="middle" font-size="10" fill="#222">100</text>
<line x1="212.18" y1="677.9" x2="212.18" y2="680.1" stroke="#222" stroke-width="1.1"/>
<line x1="217.55" y1="677.9" x2="217.55" y2="680.1" stroke="#222" stroke-width="1.1"/>
<line x1="221.36" y1="677.9" x2="221.36" y2="680.1" stroke="#222" stroke-width="1.1"/>
<line x1="224.32" y1="677.9" x2="224.32" y2="680.1" stroke="#222" stroke-width="1.1"/>
<line x1="226.73" y1="677.9" x2="226.73" y2="680.1" stroke="#222" stroke-width="1.1"/>
<line x1="228.78" y1="677.9" x2="228.78" y2="680.1" stroke="#222" stroke-width="1.1"/>
<line x1="230.54" y1="677.9" x2="230.54" y2="680.1" stroke="#222" stroke-width="1.1"/>
<line x1="232.1" y1="677.9" x2="232.1" y2="680.1" stroke="#222" stroke-width="1.1"/>
<line x1="233.5" y1="677.9" x2="233.5" y2="680.9" stroke="#222" stroke-width="1.2"/>
<text x="233.5" y="694.2" text-anchor="middle" font-size="10" fill="#222">1,000</text>
<text x="142.6" y="528.2" text-anchor="middle" font-size="11.7" fill="#111">WSU WT, Cyclosporin</text>
<text x="140.4" y="713.4" text-anchor="middle" font-size="11.85" fill="#111">Concentration drug (nmol/L)</text>
<text transform="translate(14.5,600.6) rotate(-90)" text-anchor="middle" font-size="11.85" fill="#111">% Viability (normalized)</text>
<text x="0.5" y="520" font-size="17" font-weight="bold" fill="#000">E</text>
<polyline points="70.8,552.5 71.3,552.5 71.8,552.5 72.2,552.5 72.7,552.5 73.2,552.5 73.7,552.5 74.1,552.5 74.6,552.5 75.1,552.5 75.6,552.5 76.0,552.5 76.5,552.5 77.0,552.5 77.5,552.5 78.0,552.5 78.4,552.5 78.9,552.5 79.4,552.5 79.9,552.5 80.3,552.5 80.8,552.5 81.3,552.5 81.8,552.5 82.2,552.5 82.7,552.5 83.2,552.5 83.7,552.5 84.2,552.5 84.6,552.5 85.1,552.5 85.6,552.5 86.1,552.5 86.5,552.5 87.0,552.5 87.5,552.5 88.0,552.5 88.4,552.5 88.9,552.5 89.4,552.5 89.9,552.5 90.4,552.5 90.8,552.5 91.3,552.5 91.8,552.5 92.3,552.5 92.7,552.5 93.2,552.5 93.7,552.5 94.2,552.5 94.6,552.5 95.1,552.5 95.6,552.5 96.1,552.5 96.6,552.5 97.0,552.5 97.5,552.6 98.0,552.6 98.5,552.6 98.9,552.6 99.4,552.6 99.9,552.6 100.4,552.6 100.8,552.6 101.3,552.6 101.8,552.6 102.3,552.6 102.8,552.6 103.2,552.6 103.7,552.6 104.2,552.6 104.7,552.6 105.1,552.7 105.6,552.7 106.1,552.7 106.6,552.7 107.0,552.8 107.5,552.8 108.0,552.9 108.5,552.9 109.0,553.0 109.4,553.0 109.9,553.1 110.4,553.2 110.9,553.4 111.3,553.5 111.8,553.7 112.3,553.9 112.8,554.1 113.2,554.4 113.7,554.7 114.2,555.1 114.7,555.5 115.2,556.0 115.6,556.6 116.1,557.3 116.6,558.1 117.1,559.0 117.5,560.0 118.0,561.3 118.5,562.7 119.0,564.3 119.4,566.1 119.9,568.2 120.4,570.6 120.9,573.2 121.4,576.2 121.8,579.4 122.3,583.0 122.8,586.8 123.3,591.0 123.7,595.4 124.2,600.0 124.7,604.9 125.2,609.8 125.6,614.8 126.1,619.8 126.6,624.7 127.1,629.5 127.6,634.1 128.0,638.4 128.5,642.5 129.0,646.3 129.5,649.8 129.9,653.0 130.4,655.9 130.9,658.5 131.4,660.8 131.8,662.8 132.3,664.6 132.8,666.2 133.3,667.6 133.8,668.8 134.2,669.8 134.7,670.7 135.2,671.5 135.7,672.1 136.1,672.7 136.6,673.2 137.1,673.6 137.6,674.0 138.0,674.3 138.5,674.5 139.0,674.8 139.5,675.0 140.0,675.1 140.4,675.3 140.9,675.4 141.4,675.5 141.9,675.6 142.3,675.6 142.8,675.7 143.3,675.8 143.8,675.8 144.2,675.8 144.7,675.9 145.2,675.9 145.7,675.9 146.2,675.9 146.6,676.0 147.1,676.0 147.6,676.0 148.1,676.0 148.5,676.0 149.0,676.0 149.5,676.0 150.0,676.0 150.4,676.0 150.9,676.0 151.4,676.0 151.9,676.0 152.4,676.0 152.8,676.0 153.3,676.0 153.8,676.0 154.3,676.0 154.7,676.1 155.2,676.1 155.7,676.1 156.2,676.1 156.6,676.1 157.1,676.1 157.6,676.1 158.1,676.1 158.6,676.1 159.0,676.1 159.5,676.1 160.0,676.1 160.5,676.1 160.9,676.1 161.4,676.1 161.9,676.1 162.4,676.1 162.8,676.1 163.3,676.1 163.8,676.1 164.3,676.1 164.8,676.1 165.2,676.1 165.7,676.1 166.2,676.1 166.7,676.1 167.1,676.1 167.6,676.1 168.1,676.1 168.6,676.1 169.0,676.1 169.5,676.1 170.0,676.1 170.5,676.1 171.0,676.1 171.4,676.1 171.9,676.1 172.4,676.1 172.9,676.1 173.3,676.1 173.8,676.1 174.3,676.1 174.8,676.1 175.2,676.1 175.7,676.1 176.2,676.1 176.7,676.1 177.2,676.1 177.6,676.1 178.1,676.1 178.6,676.1 179.1,676.1 179.5,676.1 180.0,676.1 180.5,676.1 181.0,676.1 181.4,676.1 181.9,676.1 182.4,676.1 182.9,676.1 183.4,676.1 183.8,676.1 184.3,676.1 184.8,676.1 185.3,676.1 185.7,676.1 186.2,676.1 186.7,676.1 187.2,676.1 187.6,676.1 188.1,676.1 188.6,676.1 189.1,676.1 189.6,676.1 190.0,676.1 190.5,676.1 191.0,676.1 191.5,676.1 191.9,676.1 192.4,676.1 192.9,676.1 193.4,676.1 193.8,676.1 194.3,676.1 194.8,676.1" fill="none" stroke="#9d5fc0" stroke-width="1.25"/>
<polyline points="70.8,552.5 71.3,552.5 71.8,552.5 72.2,552.5 72.7,552.5 73.2,552.5 73.7,552.5 74.1,552.5 74.6,552.5 75.1,552.5 75.6,552.5 76.0,552.5 76.5,552.5 77.0,552.5 77.5,552.5 78.0,552.5 78.4,552.5 78.9,552.5 79.4,552.5 79.9,552.5 80.3,552.5 80.8,552.5 81.3,552.5 81.8,552.5 82.2,552.5 82.7,552.5 83.2,552.5 83.7,552.5 84.2,552.5 84.6,552.5 85.1,552.5 85.6,552.5 86.1,552.5 86.5,552.5 87.0,552.5 87.5,552.5 88.0,552.5 88.4,552.5 88.9,552.5 89.4,552.5 89.9,552.5 90.4,552.5 90.8,552.5 91.3,552.5 91.8,552.5 92.3,552.5 92.7,552.5 93.2,552.5 93.7,552.5 94.2,552.5 94.6,552.5 95.1,552.5 95.6,552.5 96.1,552.5 96.6,552.6 97.0,552.6 97.5,552.6 98.0,552.6 98.5,552.6 98.9,552.6 99.4,552.6 99.9,552.6 100.4,552.6 100.8,552.6 101.3,552.6 101.8,552.6 102.3,552.6 102.8,552.6 103.2,552.6 103.7,552.6 104.2,552.7 104.7,552.7 105.1,552.7 105.6,552.7 106.1,552.8 106.6,552.8 107.0,552.8 107.5,552.9 108.0,553.0 108.5,553.0 109.0,553.1 109.4,553.2 109.9,553.3 110.4,553.5 110.9,553.7 111.3,553.8 111.8,554.1 112.3,554.3 112.8,554.7 113.2,555.0 113.7,555.4 114.2,555.9 114.7,556.5 115.2,557.2 115.6,558.0 116.1,558.9 116.6,559.9 117.1,561.1 117.5,562.5 118.0,564.1 118.5,565.9 119.0,568.0 119.4,570.3 119.9,572.9 120.4,575.8 120.9,579.0 121.4,582.5 121.8,586.4 122.3,590.5 122.8,594.9 123.3,599.5 123.7,604.3 124.2,609.2 124.7,614.2 125.2,619.2 125.6,624.1 126.1,628.9 126.6,633.6 127.1,638.0 127.6,642.1 128.0,645.9 128.5,649.5 129.0,652.7 129.5,655.6 129.9,658.2 130.4,660.6 130.9,662.6 131.4,664.4 131.8,666.0 132.3,667.4 132.8,668.6 133.3,669.7 133.8,670.6 134.2,671.4 134.7,672.1 135.2,672.6 135.7,673.1 136.1,673.6 136.6,673.9 137.1,674.2 137.6,674.5 138.0,674.7 138.5,674.9 139.0,675.1 139.5,675.2 140.0,675.4 140.4,675.5 140.9,675.6 141.4,675.6 141.9,675.7 142.3,675.7 142.8,675.8 143.3,675.8 143.8,675.9 144.2,675.9 144.7,675.9 145.2,675.9 145.7,676.0 146.2,676.0 146.6,676.0 147.1,676.0 147.6,676.0 148.1,676.0 148.5,676.0 149.0,676.0 149.5,676.0 150.0,676.0 150.4,676.0 150.9,676.0 151.4,676.0 151.9,676.0 152.4,676.0 152.8,676.0 153.3,676.0 153.8,676.1 154.3,676.1 154.7,676.1 155.2,676.1 155.7,676.1 156.2,676.1 156.6,676.1 157.1,676.1 157.6,676.1 158.1,676.1 158.6,676.1 159.0,676.1 159.5,676.1 160.0,676.1 160.5,676.1 160.9,676.1 161.4,676.1 161.9,676.1 162.4,676.1 162.8,676.1 163.3,676.1 163.8,676.1 164.3,676.1 164.8,676.1 165.2,676.1 165.7,676.1 166.2,676.1 166.7,676.1 167.1,676.1 167.6,676.1 168.1,676.1 168.6,676.1 169.0,676.1 169.5,676.1 170.0,676.1 170.5,676.1 171.0,676.1 171.4,676.1 171.9,676.1 172.4,676.1 172.9,676.1 173.3,676.1 173.8,676.1 174.3,676.1 174.8,676.1 175.2,676.1 175.7,676.1 176.2,676.1 176.7,676.1 177.2,676.1 177.6,676.1 178.1,676.1 178.6,676.1 179.1,676.1 179.5,676.1 180.0,676.1 180.5,676.1 181.0,676.1 181.4,676.1 181.9,676.1 182.4,676.1 182.9,676.1 183.4,676.1 183.8,676.1 184.3,676.1 184.8,676.1 185.3,676.1 185.7,676.1 186.2,676.1 186.7,676.1 187.2,676.1 187.6,676.1 188.1,676.1 188.6,676.1 189.1,676.1 189.6,676.1 190.0,676.1 190.5,676.1 191.0,676.1 191.5,676.1 191.9,676.1 192.4,676.1 192.9,676.1 193.4,676.1 193.8,676.1 194.3,676.1 194.8,676.1" fill="none" stroke="#2aae92" stroke-width="1.25"/>
<polyline points="70.8,553.8 71.3,553.8 71.8,553.8 72.2,553.8 72.7,553.8 73.2,553.8 73.7,553.8 74.1,553.8 74.6,553.8 75.1,553.8 75.6,553.8 76.0,553.8 76.5,553.8 77.0,553.8 77.5,553.8 78.0,553.8 78.4,553.8 78.9,553.8 79.4,553.8 79.9,553.8 80.3,553.8 80.8,553.8 81.3,553.8 81.8,553.8 82.2,553.8 82.7,553.8 83.2,553.8 83.7,553.8 84.2,553.8 84.6,553.8 85.1,553.8 85.6,553.8 86.1,553.8 86.5,553.8 87.0,553.8 87.5,553.8 88.0,553.8 88.4,553.8 88.9,553.8 89.4,553.8 89.9,553.8 90.4,553.8 90.8,553.8 91.3,553.8 91.8,553.8 92.3,553.8 92.7,553.8 93.2,553.8 93.7,553.8 94.2,553.8 94.6,553.8 95.1,553.8 95.6,553.8 96.1,553.8 96.6,553.8 97.0,553.8 97.5,553.8 98.0,553.8 98.5,553.8 98.9,553.8 99.4,553.8 99.9,553.8 100.4,553.8 100.8,553.8 101.3,553.8 101.8,553.8 102.3,553.8 102.8,553.8 103.2,553.8 103.7,553.8 104.2,553.8 104.7,553.8 105.1,553.8 105.6,553.8 106.1,553.8 106.6,553.8 107.0,553.8 107.5,553.8 108.0,553.8 108.5,553.8 109.0,553.8 109.4,553.8 109.9,553.8 110.4,553.8 110.9,553.8 111.3,553.8 111.8,553.8 112.3,553.8 112.8,553.8 113.2,553.8 113.7,553.8 114.2,553.8 114.7,553.8 115.2,553.8 115.6,553.8 116.1,553.8 116.6,553.8 117.1,553.8 117.5,553.8 118.0,553.8 118.5,553.8 119.0,553.8 119.4,553.8 119.9,553.8 120.4,553.8 120.9,553.8 121.4,553.8 121.8,553.8 122.3,553.8 122.8,553.8 123.3,553.8 123.7,553.8 124.2,553.8 124.7,553.8 125.2,553.8 125.6,553.8 126.1,553.8 126.6,553.8 127.1,553.8 127.6,553.8 128.0,553.8 128.5,553.8 129.0,553.8 129.5,553.8 129.9,553.8 130.4,553.8 130.9,553.8 131.4,553.8 131.8,553.8 132.3,553.8 132.8,553.8 133.3,553.8 133.8,553.8 134.2,553.8 134.7,553.8 135.2,553.8 135.7,553.8 136.1,553.8 136.6,553.8 137.1,553.8 137.6,553.8 138.0,553.8 138.5,553.8 139.0,553.8 139.5,553.8 140.0,553.8 140.4,553.8 140.9,553.8 141.4,553.8 141.9,553.8 142.3,553.8 142.8,553.8 143.3,553.9 143.8,554.3 144.2,555.8 144.7,561.9 145.2,582.0 145.7,622.3 146.2,657.1 146.6,671.3 147.1,675.3 147.6,676.2 148.1,676.5 148.5,676.5 149.0,676.5 149.5,676.5 150.0,676.5 150.4,676.5 150.9,676.5 151.4,676.5 151.9,676.5 152.4,676.5 152.8,676.5 153.3,676.5 153.8,676.5 154.3,676.5 154.7,676.5 155.2,676.5 155.7,676.5 156.2,676.5 156.6,676.5 157.1,676.5 157.6,676.5 158.1,676.5 158.6,676.5 159.0,676.5 159.5,676.5 160.0,676.5 160.5,676.5 160.9,676.5 161.4,676.5 161.9,676.5 162.4,676.5 162.8,676.5 163.3,676.5 163.8,676.5 164.3,676.5 164.8,676.5 165.2,676.5 165.7,676.5 166.2,676.5 166.7,676.5 167.1,676.5 167.6,676.5 168.1,676.5 168.6,676.5 169.0,676.5 169.5,676.5 170.0,676.5 170.5,676.5 171.0,676.5 171.4,676.5 171.9,676.5 172.4,676.5 172.9,676.5 173.3,676.5 173.8,676.5 174.3,676.5 174.8,676.5 175.2,676.5 175.7,676.5 176.2,676.5 176.7,676.5 177.2,676.5 177.6,676.5 178.1,676.5 178.6,676.5 179.1,676.5 179.5,676.5 180.0,676.5 180.5,676.5 181.0,676.5 181.4,676.5 181.9,676.5 182.4,676.5 182.9,676.5 183.4,676.5 183.8,676.5 184.3,676.5 184.8,676.5 185.3,676.5 185.7,676.5 186.2,676.5 186.7,676.5 187.2,676.5 187.6,676.5 188.1,676.5 188.6,676.5 189.1,676.5 189.6,676.5 190.0,676.5 190.5,676.5 191.0,676.5 191.5,676.5 191.9,676.5 192.4,676.5 192.9,676.5 193.4,676.5 193.8,676.5 194.3,676.5 194.8,676.5" fill="none" stroke="#111" stroke-width="1.6"/>
<path d="M70.3 550 L73 553 L70.3 556 L67.6 553Z" fill="#b474d8"/>
<line x1="82.5" y1="546.5" x2="82.5" y2="552.3" stroke="#b474d8" stroke-width="1.0"/>
<line x1="79.6" y1="546.5" x2="85.4" y2="546.5" stroke="#b474d8" stroke-width="1.0"/>
<line x1="79.6" y1="552.3" x2="85.4" y2="552.3" stroke="#b474d8" stroke-width="1.0"/>
<path d="M82.5 546.4 L85.2 549.4 L82.5 552.4 L79.8 549.4Z" fill="#b474d8"/>
<line x1="94.7" y1="551.3" x2="94.7" y2="560" stroke="#b474d8" stroke-width="1.0"/>
<line x1="91.8" y1="551.3" x2="97.6" y2="551.3" stroke="#b474d8" stroke-width="1.0"/>
<line x1="91.8" y1="560" x2="97.6" y2="560" stroke="#b474d8" stroke-width="1.0"/>
<path d="M94.7 551.2 L97.4 554.2 L94.7 557.2 L92 554.2Z" fill="#b474d8"/>
<path d="M106.9 550 L109.6 553 L106.9 556 L104.2 553Z" fill="#b474d8"/>
<line x1="119.1" y1="562.9" x2="119.1" y2="577.3" stroke="#b474d8" stroke-width="1.0"/>
<line x1="116.2" y1="562.9" x2="122" y2="562.9" stroke="#b474d8" stroke-width="1.0"/>
<line x1="116.2" y1="577.3" x2="122" y2="577.3" stroke="#b474d8" stroke-width="1.0"/>
<path d="M119.1 561.8 L121.8 564.8 L119.1 567.8 L116.4 564.8Z" fill="#b474d8"/>
<line x1="131.3" y1="661" x2="131.3" y2="668" stroke="#b474d8" stroke-width="1.0"/>
<line x1="128.4" y1="661" x2="134.2" y2="661" stroke="#b474d8" stroke-width="1.0"/>
<line x1="128.4" y1="668" x2="134.2" y2="668" stroke="#b474d8" stroke-width="1.0"/>
<path d="M131.3 661.8 L134 664.8 L131.3 667.8 L128.6 664.8Z" fill="#b474d8"/>
<path d="M143.5 671.5 L146.2 674.5 L143.5 677.5 L140.8 674.5Z" fill="#b474d8"/>
<path d="M155.7 673 L158.4 676 L155.7 679 L153 676Z" fill="#b474d8"/>
<path d="M167.9 673 L170.6 676 L167.9 679 L165.2 676Z" fill="#b474d8"/>
<path d="M180.1 673 L182.8 676 L180.1 679 L177.4 676Z" fill="#b474d8"/>
<path d="M192.3 673 L195 676 L192.3 679 L189.6 676Z" fill="#b474d8"/>
<line x1="70.3" y1="548.8" x2="70.3" y2="558.1" stroke="#20bc96" stroke-width="1.0"/>
<line x1="67.4" y1="548.8" x2="73.2" y2="548.8" stroke="#20bc96" stroke-width="1.0"/>
<line x1="67.4" y1="558.1" x2="73.2" y2="558.1" stroke="#20bc96" stroke-width="1.0"/>
<rect x="67.8" y="550.2" width="5" height="5" fill="#20bc96"/>
<rect x="80" y="551.7" width="5" height="5" fill="#20bc96"/>
<line x1="94.7" y1="546" x2="94.7" y2="551" stroke="#20bc96" stroke-width="1.0"/>
<line x1="91.8" y1="546" x2="97.6" y2="546" stroke="#20bc96" stroke-width="1.0"/>
<line x1="91.8" y1="551" x2="97.6" y2="551" stroke="#20bc96" stroke-width="1.0"/>
<rect x="92.2" y="546" width="5" height="5" fill="#20bc96"/>
<line x1="106.9" y1="545.6" x2="106.9" y2="555.2" stroke="#20bc96" stroke-width="1.0"/>
<line x1="104" y1="545.6" x2="109.8" y2="545.6" stroke="#20bc96" stroke-width="1.0"/>
<line x1="104" y1="555.2" x2="109.8" y2="555.2" stroke="#20bc96" stroke-width="1.0"/>
<rect x="104.4" y="545" width="5" height="5" fill="#20bc96"/>
<rect x="116.6" y="569.4" width="5" height="5" fill="#20bc96"/>
<rect x="128.8" y="656.5" width="5" height="5" fill="#20bc96"/>
<rect x="141" y="671.3" width="5" height="5" fill="#20bc96"/>
<rect x="153.2" y="673.5" width="5" height="5" fill="#20bc96"/>
<rect x="165.4" y="673.5" width="5" height="5" fill="#20bc96"/>
<rect x="177.6" y="673.5" width="5" height="5" fill="#20bc96"/>
<rect x="189.8" y="673.5" width="5" height="5" fill="#20bc96"/>
<line x1="71.8" y1="564.8" x2="71.8" y2="570" stroke="#111" stroke-width="1.3"/>
<line x1="68.9" y1="564.8" x2="74.7" y2="564.8" stroke="#111" stroke-width="1.3"/>
<line x1="68.9" y1="570" x2="74.7" y2="570" stroke="#111" stroke-width="1.3"/>
<circle cx="71.8" cy="567.3" r="2.6" fill="#111"/>
<circle cx="84" cy="555.2" r="2.6" fill="#111"/>
<line x1="96.2" y1="547.5" x2="96.2" y2="556.2" stroke="#111" stroke-width="1.3"/>
<line x1="93.3" y1="547.5" x2="99.1" y2="547.5" stroke="#111" stroke-width="1.3"/>
<line x1="93.3" y1="556.2" x2="99.1" y2="556.2" stroke="#111" stroke-width="1.3"/>
<circle cx="96.2" cy="551.9" r="2.6" fill="#111"/>
<line x1="108.4" y1="546.5" x2="108.4" y2="556.2" stroke="#111" stroke-width="1.3"/>
<line x1="105.5" y1="546.5" x2="111.3" y2="546.5" stroke="#111" stroke-width="1.3"/>
<line x1="105.5" y1="556.2" x2="111.3" y2="556.2" stroke="#111" stroke-width="1.3"/>
<circle cx="108.4" cy="552.3" r="2.6" fill="#111"/>
<line x1="120.6" y1="544.2" x2="120.6" y2="556.5" stroke="#111" stroke-width="1.3"/>
<line x1="117.7" y1="544.2" x2="123.5" y2="544.2" stroke="#111" stroke-width="1.3"/>
<line x1="117.7" y1="556.5" x2="123.5" y2="556.5" stroke="#111" stroke-width="1.3"/>
<circle cx="120.6" cy="549.4" r="2.6" fill="#111"/>
<line x1="132.8" y1="543" x2="132.8" y2="551.3" stroke="#111" stroke-width="1.3"/>
<line x1="129.9" y1="543" x2="135.7" y2="543" stroke="#111" stroke-width="1.3"/>
<line x1="129.9" y1="551.3" x2="135.7" y2="551.3" stroke="#111" stroke-width="1.3"/>
<circle cx="132.8" cy="548.1" r="2.6" fill="#111"/>
<line x1="145" y1="615.2" x2="145" y2="659.6" stroke="#111" stroke-width="1.3"/>
<line x1="142.1" y1="615.2" x2="147.9" y2="615.2" stroke="#111" stroke-width="1.3"/>
<line x1="142.1" y1="659.6" x2="147.9" y2="659.6" stroke="#111" stroke-width="1.3"/>
<circle cx="145" cy="637.3" r="2.6" fill="#111"/>
<circle cx="157.2" cy="676" r="2.6" fill="#111"/>
<circle cx="169.4" cy="676" r="2.6" fill="#111"/>
<circle cx="181.6" cy="676" r="2.6" fill="#111"/>
<circle cx="193.8" cy="676" r="2.6" fill="#111"/>
<line x1="322" y1="617.5" x2="508" y2="617.5" stroke="#626262" stroke-width="1"/>
<line x1="322" y1="524.25" x2="322" y2="681.3" stroke="#222" stroke-width="1.6"/>
<line x1="319.2" y1="680.5" x2="322" y2="680.5" stroke="#222" stroke-width="1.2"/>
<text x="316.7" y="684.4" text-anchor="end" font-size="10" fill="#222">0</text>
<line x1="320" y1="674.25" x2="322" y2="674.25" stroke="#222" stroke-width="1.2"/>
<line x1="320" y1="668" x2="322" y2="668" stroke="#222" stroke-width="1.2"/>
<line x1="320" y1="661.75" x2="322" y2="661.75" stroke="#222" stroke-width="1.2"/>
<line x1="320" y1="655.5" x2="322" y2="655.5" stroke="#222" stroke-width="1.2"/>
<line x1="319.2" y1="649.25" x2="322" y2="649.25" stroke="#222" stroke-width="1.2"/>
<text x="316.7" y="653.15" text-anchor="end" font-size="10" fill="#222">25</text>
<line x1="320" y1="643" x2="322" y2="643" stroke="#222" stroke-width="1.2"/>
<line x1="320" y1="636.75" x2="322" y2="636.75" stroke="#222" stroke-width="1.2"/>
<line x1="320" y1="630.5" x2="322" y2="630.5" stroke="#222" stroke-width="1.2"/>
<line x1="320" y1="624.25" x2="322" y2="624.25" stroke="#222" stroke-width="1.2"/>
<line x1="319.2" y1="618" x2="322" y2="618" stroke="#222" stroke-width="1.2"/>
<text x="316.7" y="621.9" text-anchor="end" font-size="10" fill="#222">50</text>
<line x1="320" y1="611.75" x2="322" y2="611.75" stroke="#222" stroke-width="1.2"/>
<line x1="320" y1="605.5" x2="322" y2="605.5" stroke="#222" stroke-width="1.2"/>
<line x1="320" y1="599.25" x2="322" y2="599.25" stroke="#222" stroke-width="1.2"/>
<line x1="320" y1="593" x2="322" y2="593" stroke="#222" stroke-width="1.2"/>
<line x1="319.2" y1="586.75" x2="322" y2="586.75" stroke="#222" stroke-width="1.2"/>
<text x="316.7" y="590.65" text-anchor="end" font-size="10" fill="#222">75</text>
<line x1="320" y1="580.5" x2="322" y2="580.5" stroke="#222" stroke-width="1.2"/>
<line x1="320" y1="574.25" x2="322" y2="574.25" stroke="#222" stroke-width="1.2"/>
<line x1="320" y1="568" x2="322" y2="568" stroke="#222" stroke-width="1.2"/>
<line x1="320" y1="561.75" x2="322" y2="561.75" stroke="#222" stroke-width="1.2"/>
<line x1="319.2" y1="555.5" x2="322" y2="555.5" stroke="#222" stroke-width="1.2"/>
<text x="316.7" y="559.4" text-anchor="end" font-size="10" fill="#222">100</text>
<line x1="320" y1="549.25" x2="322" y2="549.25" stroke="#222" stroke-width="1.2"/>
<line x1="320" y1="543" x2="322" y2="543" stroke="#222" stroke-width="1.2"/>
<line x1="320" y1="536.75" x2="322" y2="536.75" stroke="#222" stroke-width="1.2"/>
<line x1="320" y1="530.5" x2="322" y2="530.5" stroke="#222" stroke-width="1.2"/>
<line x1="319.2" y1="524.25" x2="322" y2="524.25" stroke="#222" stroke-width="1.2"/>
<text x="316.7" y="528.15" text-anchor="end" font-size="10" fill="#222">125</text>
<line x1="321.4" y1="680.5" x2="508" y2="680.5" stroke="#222" stroke-width="1.6"/>
<line x1="322" y1="680.5" x2="322" y2="683.5" stroke="#222" stroke-width="1.2"/>
<text x="322" y="696.8" text-anchor="middle" font-size="10" fill="#222">0.001</text>
<line x1="331.33" y1="680.5" x2="331.33" y2="682.7" stroke="#222" stroke-width="1.1"/>
<line x1="336.79" y1="680.5" x2="336.79" y2="682.7" stroke="#222" stroke-width="1.1"/>
<line x1="340.66" y1="680.5" x2="340.66" y2="682.7" stroke="#222" stroke-width="1.1"/>
<line x1="343.67" y1="680.5" x2="343.67" y2="682.7" stroke="#222" stroke-width="1.1"/>
<line x1="346.12" y1="680.5" x2="346.12" y2="682.7" stroke="#222" stroke-width="1.1"/>
<line x1="348.2" y1="680.5" x2="348.2" y2="682.7" stroke="#222" stroke-width="1.1"/>
<line x1="350" y1="680.5" x2="350" y2="682.7" stroke="#222" stroke-width="1.1"/>
<line x1="351.58" y1="680.5" x2="351.58" y2="682.7" stroke="#222" stroke-width="1.1"/>
<line x1="353" y1="680.5" x2="353" y2="683.5" stroke="#222" stroke-width="1.2"/>
<text x="353" y="696.8" text-anchor="middle" font-size="10" fill="#222">0.01</text>
<line x1="362.33" y1="680.5" x2="362.33" y2="682.7" stroke="#222" stroke-width="1.1"/>
<line x1="367.79" y1="680.5" x2="367.79" y2="682.7" stroke="#222" stroke-width="1.1"/>
<line x1="371.66" y1="680.5" x2="371.66" y2="682.7" stroke="#222" stroke-width="1.1"/>
<line x1="374.67" y1="680.5" x2="374.67" y2="682.7" stroke="#222" stroke-width="1.1"/>
<line x1="377.12" y1="680.5" x2="377.12" y2="682.7" stroke="#222" stroke-width="1.1"/>
<line x1="379.2" y1="680.5" x2="379.2" y2="682.7" stroke="#222" stroke-width="1.1"/>
<line x1="381" y1="680.5" x2="381" y2="682.7" stroke="#222" stroke-width="1.1"/>
<line x1="382.58" y1="680.5" x2="382.58" y2="682.7" stroke="#222" stroke-width="1.1"/>
<line x1="384" y1="680.5" x2="384" y2="683.5" stroke="#222" stroke-width="1.2"/>
<text x="384" y="696.8" text-anchor="middle" font-size="10" fill="#222">0.1</text>
<line x1="393.33" y1="680.5" x2="393.33" y2="682.7" stroke="#222" stroke-width="1.1"/>
<line x1="398.79" y1="680.5" x2="398.79" y2="682.7" stroke="#222" stroke-width="1.1"/>
<line x1="402.66" y1="680.5" x2="402.66" y2="682.7" stroke="#222" stroke-width="1.1"/>
<line x1="405.67" y1="680.5" x2="405.67" y2="682.7" stroke="#222" stroke-width="1.1"/>
<line x1="408.12" y1="680.5" x2="408.12" y2="682.7" stroke="#222" stroke-width="1.1"/>
<line x1="410.2" y1="680.5" x2="410.2" y2="682.7" stroke="#222" stroke-width="1.1"/>
<line x1="412" y1="680.5" x2="412" y2="682.7" stroke="#222" stroke-width="1.1"/>
<line x1="413.58" y1="680.5" x2="413.58" y2="682.7" stroke="#222" stroke-width="1.1"/>
<line x1="415" y1="680.5" x2="415" y2="683.5" stroke="#222" stroke-width="1.2"/>
<text x="415" y="696.8" text-anchor="middle" font-size="10" fill="#222">1</text>
<line x1="424.33" y1="680.5" x2="424.33" y2="682.7" stroke="#222" stroke-width="1.1"/>
<line x1="429.79" y1="680.5" x2="429.79" y2="682.7" stroke="#222" stroke-width="1.1"/>
<line x1="433.66" y1="680.5" x2="433.66" y2="682.7" stroke="#222" stroke-width="1.1"/>
<line x1="436.67" y1="680.5" x2="436.67" y2="682.7" stroke="#222" stroke-width="1.1"/>
<line x1="439.12" y1="680.5" x2="439.12" y2="682.7" stroke="#222" stroke-width="1.1"/>
<line x1="441.2" y1="680.5" x2="441.2" y2="682.7" stroke="#222" stroke-width="1.1"/>
<line x1="443" y1="680.5" x2="443" y2="682.7" stroke="#222" stroke-width="1.1"/>
<line x1="444.58" y1="680.5" x2="444.58" y2="682.7" stroke="#222" stroke-width="1.1"/>
<line x1="446" y1="680.5" x2="446" y2="683.5" stroke="#222" stroke-width="1.2"/>
<text x="446" y="696.8" text-anchor="middle" font-size="10" fill="#222">10</text>
<line x1="455.33" y1="680.5" x2="455.33" y2="682.7" stroke="#222" stroke-width="1.1"/>
<line x1="460.79" y1="680.5" x2="460.79" y2="682.7" stroke="#222" stroke-width="1.1"/>
<line x1="464.66" y1="680.5" x2="464.66" y2="682.7" stroke="#222" stroke-width="1.1"/>
<line x1="467.67" y1="680.5" x2="467.67" y2="682.7" stroke="#222" stroke-width="1.1"/>
<line x1="470.12" y1="680.5" x2="470.12" y2="682.7" stroke="#222" stroke-width="1.1"/>
<line x1="472.2" y1="680.5" x2="472.2" y2="682.7" stroke="#222" stroke-width="1.1"/>
<line x1="474" y1="680.5" x2="474" y2="682.7" stroke="#222" stroke-width="1.1"/>
<line x1="475.58" y1="680.5" x2="475.58" y2="682.7" stroke="#222" stroke-width="1.1"/>
<line x1="477" y1="680.5" x2="477" y2="683.5" stroke="#222" stroke-width="1.2"/>
<text x="477" y="696.8" text-anchor="middle" font-size="10" fill="#222">100</text>
<line x1="486.33" y1="680.5" x2="486.33" y2="682.7" stroke="#222" stroke-width="1.1"/>
<line x1="491.79" y1="680.5" x2="491.79" y2="682.7" stroke="#222" stroke-width="1.1"/>
<line x1="495.66" y1="680.5" x2="495.66" y2="682.7" stroke="#222" stroke-width="1.1"/>
<line x1="498.67" y1="680.5" x2="498.67" y2="682.7" stroke="#222" stroke-width="1.1"/>
<line x1="501.12" y1="680.5" x2="501.12" y2="682.7" stroke="#222" stroke-width="1.1"/>
<line x1="503.2" y1="680.5" x2="503.2" y2="682.7" stroke="#222" stroke-width="1.1"/>
<line x1="505" y1="680.5" x2="505" y2="682.7" stroke="#222" stroke-width="1.1"/>
<line x1="506.58" y1="680.5" x2="506.58" y2="682.7" stroke="#222" stroke-width="1.1"/>
<line x1="508" y1="680.5" x2="508" y2="683.5" stroke="#222" stroke-width="1.2"/>
<text x="508" y="696.8" text-anchor="middle" font-size="10" fill="#222">1,000</text>
<text x="412.2" y="527.6" text-anchor="middle" font-size="11.85" fill="#111">WSU MDR1+, Cyclosporin</text>
<text x="412.3" y="715" text-anchor="middle" font-size="11.85" fill="#111">Concentration drug (nmol/L)</text>
<text transform="translate(285,600.5) rotate(-90)" text-anchor="middle" font-size="11.85" fill="#111">% Viability (normalized)</text>
<text x="265.5" y="519.7" font-size="17" font-weight="bold" fill="#000">F</text>
<polyline points="342.5,549.3 343.0,549.3 343.5,549.3 344.0,549.3 344.4,549.3 344.9,549.3 345.4,549.3 345.9,549.3 346.4,549.3 346.9,549.3 347.3,549.3 347.8,549.3 348.3,549.3 348.8,549.3 349.3,549.3 349.8,549.3 350.3,549.3 350.7,549.3 351.2,549.3 351.7,549.3 352.2,549.3 352.7,549.3 353.2,549.3 353.6,549.3 354.1,549.3 354.6,549.3 355.1,549.3 355.6,549.3 356.1,549.3 356.6,549.3 357.0,549.3 357.5,549.3 358.0,549.3 358.5,549.3 359.0,549.3 359.5,549.3 359.9,549.3 360.4,549.3 360.9,549.3 361.4,549.3 361.9,549.3 362.4,549.3 362.9,549.3 363.3,549.3 363.8,549.4 364.3,549.4 364.8,549.4 365.3,549.4 365.8,549.4 366.2,549.4 366.7,549.4 367.2,549.4 367.7,549.5 368.2,549.5 368.7,549.5 369.2,549.5 369.6,549.5 370.1,549.6 370.6,549.6 371.1,549.6 371.6,549.7 372.1,549.7 372.5,549.7 373.0,549.8 373.5,549.8 374.0,549.9 374.5,549.9 375.0,550.0 375.5,550.0 375.9,550.1 376.4,550.2 376.9,550.3 377.4,550.3 377.9,550.4 378.4,550.5 378.8,550.6 379.3,550.8 379.8,550.9 380.3,551.0 380.8,551.2 381.3,551.3 381.8,551.5 382.2,551.7 382.7,551.9 383.2,552.1 383.7,552.4 384.2,552.6 384.7,552.9 385.1,553.2 385.6,553.6 386.1,553.9 386.6,554.3 387.1,554.7 387.6,555.2 388.1,555.7 388.5,556.2 389.0,556.8 389.5,557.4 390.0,558.0 390.5,558.7 391.0,559.5 391.4,560.3 391.9,561.1 392.4,562.0 392.9,563.0 393.4,564.1 393.9,565.2 394.4,566.3 394.8,567.6 395.3,568.9 395.8,570.3 396.3,571.8 396.8,573.4 397.3,575.0 397.7,576.8 398.2,578.6 398.7,580.5 399.2,582.4 399.7,584.5 400.2,586.6 400.7,588.8 401.1,591.0 401.6,593.3 402.1,595.7 402.6,598.1 403.1,600.5 403.6,603.0 404.0,605.5 404.5,608.0 405.0,610.6 405.5,613.1 406.0,615.6 406.5,618.1 407.0,620.6 407.4,623.1 407.9,625.5 408.4,627.8 408.9,630.1 409.4,632.4 409.9,634.6 410.3,636.7 410.8,638.7 411.3,640.7 411.8,642.6 412.3,644.4 412.8,646.1 413.3,647.7 413.7,649.3 414.2,650.8 414.7,652.2 415.2,653.5 415.7,654.7 416.2,655.9 416.6,657.0 417.1,658.1 417.6,659.0 418.1,659.9 418.6,660.8 419.1,661.6 419.6,662.3 420.0,663.0 420.5,663.7 421.0,664.3 421.5,664.8 422.0,665.4 422.5,665.8 422.9,666.3 423.4,666.7 423.9,667.1 424.4,667.5 424.9,667.8 425.4,668.1 425.9,668.4 426.3,668.6 426.8,668.9 427.3,669.1 427.8,669.3 428.3,669.5 428.8,669.7 429.2,669.8 429.7,670.0 430.2,670.1 430.7,670.3 431.2,670.4 431.7,670.5 432.2,670.6 432.6,670.7 433.1,670.8 433.6,670.8 434.1,670.9 434.6,671.0 435.1,671.0 435.5,671.1 436.0,671.1 436.5,671.2 437.0,671.2 437.5,671.3 438.0,671.3 438.5,671.3 438.9,671.4 439.4,671.4 439.9,671.4 440.4,671.5 440.9,671.5 441.4,671.5 441.8,671.5 442.3,671.5 442.8,671.6 443.3,671.6 443.8,671.6 444.3,671.6 444.8,671.6 445.2,671.6 445.7,671.6 446.2,671.6 446.7,671.7 447.2,671.7 447.7,671.7 448.1,671.7 448.6,671.7 449.1,671.7 449.6,671.7 450.1,671.7 450.6,671.7 451.1,671.7 451.5,671.7 452.0,671.7 452.5,671.7 453.0,671.7 453.5,671.7 454.0,671.7 454.4,671.7 454.9,671.7 455.4,671.7 455.9,671.7 456.4,671.7 456.9,671.7 457.4,671.7 457.8,671.7 458.3,671.7 458.8,671.7 459.3,671.7 459.8,671.7 460.3,671.7 460.7,671.7 461.2,671.7 461.7,671.7 462.2,671.7 462.7,671.7 463.2,671.7 463.7,671.7 464.1,671.7 464.6,671.7 465.1,671.7 465.6,671.7 466.1,671.7 466.6,671.7 467.0,671.7 467.5,671.7 468.0,671.7 468.5,671.7" fill="none" stroke="#9d5fc0" stroke-width="1.25"/>
<polyline points="342.5,553.0 343.0,553.0 343.5,553.0 344.0,553.0 344.4,553.0 344.9,553.0 345.4,553.0 345.9,553.0 346.4,553.0 346.9,553.0 347.3,553.0 347.8,553.0 348.3,553.0 348.8,553.0 349.3,553.0 349.8,553.0 350.3,553.0 350.7,553.0 351.2,553.0 351.7,553.0 352.2,553.0 352.7,553.0 353.2,553.0 353.6,553.0 354.1,553.0 354.6,553.0 355.1,553.0 355.6,553.0 356.1,553.0 356.6,553.0 357.0,553.0 357.5,553.0 358.0,553.0 358.5,553.0 359.0,553.0 359.5,553.0 359.9,553.0 360.4,553.0 360.9,553.0 361.4,553.0 361.9,553.0 362.4,553.0 362.9,553.0 363.3,553.0 363.8,553.0 364.3,553.0 364.8,553.0 365.3,553.0 365.8,553.0 366.2,553.0 366.7,553.0 367.2,553.0 367.7,553.0 368.2,553.0 368.7,553.0 369.2,553.0 369.6,553.0 370.1,553.0 370.6,553.0 371.1,553.0 371.6,553.0 372.1,553.0 372.5,553.0 373.0,553.0 373.5,553.0 374.0,553.1 374.5,553.1 375.0,553.1 375.5,553.1 375.9,553.1 376.4,553.1 376.9,553.1 377.4,553.1 377.9,553.1 378.4,553.2 378.8,553.2 379.3,553.2 379.8,553.2 380.3,553.3 380.8,553.3 381.3,553.3 381.8,553.4 382.2,553.4 382.7,553.5 383.2,553.6 383.7,553.6 384.2,553.7 384.7,553.8 385.1,553.9 385.6,554.0 386.1,554.2 386.6,554.3 387.1,554.5 387.6,554.7 388.1,554.9 388.5,555.1 389.0,555.4 389.5,555.7 390.0,556.0 390.5,556.4 391.0,556.8 391.4,557.3 391.9,557.8 392.4,558.4 392.9,559.1 393.4,559.9 393.9,560.7 394.4,561.6 394.8,562.7 395.3,563.8 395.8,565.1 396.3,566.5 396.8,568.0 397.3,569.7 397.7,571.5 398.2,573.5 398.7,575.7 399.2,578.1 399.7,580.6 400.2,583.3 400.7,586.1 401.1,589.1 401.6,592.3 402.1,595.6 402.6,599.1 403.1,602.6 403.6,606.2 404.0,609.9 404.5,613.5 405.0,617.2 405.5,620.9 406.0,624.5 406.5,628.0 407.0,631.4 407.4,634.7 407.9,637.9 408.4,640.9 408.9,643.7 409.4,646.4 409.9,648.9 410.3,651.2 410.8,653.3 411.3,655.3 411.8,657.1 412.3,658.8 412.8,660.3 413.3,661.7 413.7,663.0 414.2,664.1 414.7,665.1 415.2,666.0 415.7,666.9 416.2,667.6 416.6,668.3 417.1,668.9 417.6,669.4 418.1,669.9 418.6,670.3 419.1,670.7 419.6,671.0 420.0,671.3 420.5,671.6 421.0,671.8 421.5,672.0 422.0,672.2 422.5,672.3 422.9,672.5 423.4,672.6 423.9,672.7 424.4,672.8 424.9,672.9 425.4,673.0 425.9,673.1 426.3,673.1 426.8,673.2 427.3,673.2 427.8,673.3 428.3,673.3 428.8,673.4 429.2,673.4 429.7,673.4 430.2,673.4 430.7,673.5 431.2,673.5 431.7,673.5 432.2,673.5 432.6,673.5 433.1,673.5 433.6,673.5 434.1,673.6 434.6,673.6 435.1,673.6 435.5,673.6 436.0,673.6 436.5,673.6 437.0,673.6 437.5,673.6 438.0,673.6 438.5,673.6 438.9,673.6 439.4,673.6 439.9,673.6 440.4,673.6 440.9,673.6 441.4,673.6 441.8,673.6 442.3,673.6 442.8,673.6 443.3,673.6 443.8,673.6 444.3,673.6 444.8,673.6 445.2,673.6 445.7,673.6 446.2,673.6 446.7,673.6 447.2,673.6 447.7,673.6 448.1,673.6 448.6,673.6 449.1,673.6 449.6,673.6 450.1,673.6 450.6,673.6 451.1,673.6 451.5,673.6 452.0,673.6 452.5,673.6 453.0,673.6 453.5,673.6 454.0,673.6 454.4,673.6 454.9,673.6 455.4,673.6 455.9,673.6 456.4,673.6 456.9,673.6 457.4,673.6 457.8,673.6 458.3,673.6 458.8,673.6 459.3,673.6 459.8,673.6 460.3,673.6 460.7,673.6 461.2,673.6 461.7,673.6 462.2,673.6 462.7,673.6 463.2,673.6 463.7,673.6 464.1,673.6 464.6,673.6 465.1,673.6 465.6,673.6 466.1,673.6 466.6,673.6 467.0,673.6 467.5,673.6 468.0,673.6 468.5,673.6" fill="none" stroke="#2aae92" stroke-width="1.25"/>
<polyline points="342.5,550.5 343.0,550.5 343.5,550.5 344.0,550.5 344.4,550.5 344.9,550.5 345.4,550.5 345.9,550.5 346.4,550.5 346.9,550.5 347.3,550.5 347.8,550.5 348.3,550.5 348.8,550.5 349.3,550.5 349.8,550.5 350.3,550.5 350.7,550.5 351.2,550.5 351.7,550.5 352.2,550.5 352.7,550.5 353.2,550.5 353.6,550.5 354.1,550.5 354.6,550.5 355.1,550.5 355.6,550.5 356.1,550.5 356.6,550.5 357.0,550.5 357.5,550.5 358.0,550.5 358.5,550.5 359.0,550.5 359.5,550.5 359.9,550.5 360.4,550.5 360.9,550.5 361.4,550.5 361.9,550.5 362.4,550.5 362.9,550.5 363.3,550.5 363.8,550.5 364.3,550.5 364.8,550.5 365.3,550.5 365.8,550.5 366.2,550.5 366.7,550.5 367.2,550.5 367.7,550.5 368.2,550.5 368.7,550.5 369.2,550.5 369.6,550.5 370.1,550.5 370.6,550.5 371.1,550.5 371.6,550.5 372.1,550.5 372.5,550.5 373.0,550.5 373.5,550.5 374.0,550.5 374.5,550.5 375.0,550.5 375.5,550.5 375.9,550.5 376.4,550.5 376.9,550.5 377.4,550.5 377.9,550.5 378.4,550.5 378.8,550.5 379.3,550.5 379.8,550.5 380.3,550.5 380.8,550.5 381.3,550.5 381.8,550.5 382.2,550.5 382.7,550.5 383.2,550.5 383.7,550.5 384.2,550.5 384.7,550.5 385.1,550.5 385.6,550.5 386.1,550.5 386.6,550.5 387.1,550.5 387.6,550.5 388.1,550.5 388.5,550.5 389.0,550.5 389.5,550.5 390.0,550.5 390.5,550.5 391.0,550.5 391.4,550.5 391.9,550.5 392.4,550.5 392.9,550.5 393.4,550.5 393.9,550.5 394.4,550.5 394.8,550.5 395.3,550.5 395.8,550.5 396.3,550.5 396.8,550.5 397.3,550.5 397.7,550.5 398.2,550.5 398.7,550.5 399.2,550.5 399.7,550.5 400.2,550.5 400.7,550.5 401.1,550.5 401.6,550.5 402.1,550.5 402.6,550.5 403.1,550.5 403.6,550.5 404.0,550.5 404.5,550.5 405.0,550.5 405.5,550.5 406.0,550.5 406.5,550.5 407.0,550.5 407.4,550.5 407.9,550.5 408.4,550.5 408.9,550.5 409.4,550.5 409.9,550.5 410.3,550.6 410.8,550.6 411.3,550.6 411.8,550.6 412.3,550.7 412.8,550.8 413.3,550.9 413.7,551.0 414.2,551.2 414.7,551.5 415.2,551.8 415.7,552.3 416.2,553.0 416.6,553.9 417.1,555.2 417.6,556.9 418.1,559.2 418.6,562.2 419.1,566.2 419.6,571.2 420.0,577.4 420.5,584.9 421.0,593.6 421.5,603.3 422.0,613.4 422.5,623.6 422.9,633.4 423.4,642.2 423.9,649.8 424.4,656.1 424.9,661.3 425.4,665.3 425.9,668.4 426.3,670.8 426.8,672.5 427.3,673.8 427.8,674.8 428.3,675.5 428.8,676.0 429.2,676.4 429.7,676.7 430.2,676.9 430.7,677.0 431.2,677.1 431.7,677.2 432.2,677.2 432.6,677.3 433.1,677.3 433.6,677.3 434.1,677.3 434.6,677.3 435.1,677.4 435.5,677.4 436.0,677.4 436.5,677.4 437.0,677.4 437.5,677.4 438.0,677.4 438.5,677.4 438.9,677.4 439.4,677.4 439.9,677.4 440.4,677.4 440.9,677.4 441.4,677.4 441.8,677.4 442.3,677.4 442.8,677.4 443.3,677.4 443.8,677.4 444.3,677.4 444.8,677.4 445.2,677.4 445.7,677.4 446.2,677.4 446.7,677.4 447.2,677.4 447.7,677.4 448.1,677.4 448.6,677.4 449.1,677.4 449.6,677.4 450.1,677.4 450.6,677.4 451.1,677.4 451.5,677.4 452.0,677.4 452.5,677.4 453.0,677.4 453.5,677.4 454.0,677.4 454.4,677.4 454.9,677.4 455.4,677.4 455.9,677.4 456.4,677.4 456.9,677.4 457.4,677.4 457.8,677.4 458.3,677.4 458.8,677.4 459.3,677.4 459.8,677.4 460.3,677.4 460.7,677.4 461.2,677.4 461.7,677.4 462.2,677.4 462.7,677.4 463.2,677.4 463.7,677.4 464.1,677.4 464.6,677.4 465.1,677.4 465.6,677.4 466.1,677.4 466.6,677.4 467.0,677.4 467.5,677.4 468.0,677.4 468.5,677.4" fill="none" stroke="#111" stroke-width="1.6"/>
<line x1="342" y1="541.2" x2="342" y2="546.2" stroke="#b474d8" stroke-width="1.0"/>
<line x1="339.1" y1="541.2" x2="344.9" y2="541.2" stroke="#b474d8" stroke-width="1.0"/>
<line x1="339.1" y1="546.2" x2="344.9" y2="546.2" stroke="#b474d8" stroke-width="1.0"/>
<path d="M342 540.7 L344.7 543.7 L342 546.7 L339.3 543.7Z" fill="#b474d8"/>
<path d="M354.4 547 L357.1 550 L354.4 553 L351.7 550Z" fill="#b474d8"/>
<path d="M366.8 546 L369.5 549 L366.8 552 L364.1 549Z" fill="#b474d8"/>
<path d="M379.2 545 L381.9 548 L379.2 551 L376.5 548Z" fill="#b474d8"/>
<path d="M391.6 548.3 L394.3 551.3 L391.6 554.3 L388.9 551.3Z" fill="#b474d8"/>
<path d="M404 599.7 L406.7 602.7 L404 605.7 L401.3 602.7Z" fill="#b474d8"/>
<path d="M416.4 652.6 L419.1 655.6 L416.4 658.6 L413.7 655.6Z" fill="#b474d8"/>
<path d="M428.8 662.2 L431.5 665.2 L428.8 668.2 L426.1 665.2Z" fill="#b474d8"/>
<line x1="441.2" y1="667" x2="441.2" y2="672.2" stroke="#b474d8" stroke-width="1.0"/>
<line x1="438.3" y1="667" x2="444.1" y2="667" stroke="#b474d8" stroke-width="1.0"/>
<line x1="438.3" y1="672.2" x2="444.1" y2="672.2" stroke="#b474d8" stroke-width="1.0"/>
<path d="M441.2 666.6 L443.9 669.6 L441.2 672.6 L438.5 669.6Z" fill="#b474d8"/>
<path d="M453.6 669 L456.3 672 L453.6 675 L450.9 672Z" fill="#b474d8"/>
<path d="M466 669 L468.7 672 L466 675 L463.3 672Z" fill="#b474d8"/>
<rect x="339.5" y="555.2" width="5" height="5" fill="#20bc96"/>
<rect x="351.9" y="553.7" width="5" height="5" fill="#20bc96"/>
<line x1="366.8" y1="542.3" x2="366.8" y2="562" stroke="#20bc96" stroke-width="1.0"/>
<line x1="363.9" y1="542.3" x2="369.7" y2="542.3" stroke="#20bc96" stroke-width="1.0"/>
<line x1="363.9" y1="562" x2="369.7" y2="562" stroke="#20bc96" stroke-width="1.0"/>
<rect x="364.3" y="548.8" width="5" height="5" fill="#20bc96"/>
<line x1="379.2" y1="539.8" x2="379.2" y2="563.8" stroke="#20bc96" stroke-width="1.0"/>
<line x1="376.3" y1="539.8" x2="382.1" y2="539.8" stroke="#20bc96" stroke-width="1.0"/>
<line x1="376.3" y1="563.8" x2="382.1" y2="563.8" stroke="#20bc96" stroke-width="1.0"/>
<rect x="376.7" y="547.9" width="5" height="5" fill="#20bc96"/>
<rect x="389.1" y="551.7" width="5" height="5" fill="#20bc96"/>
<line x1="404" y1="619" x2="404" y2="625.8" stroke="#20bc96" stroke-width="1.0"/>
<line x1="401.1" y1="619" x2="406.9" y2="619" stroke="#20bc96" stroke-width="1.0"/>
<line x1="401.1" y1="625.8" x2="406.9" y2="625.8" stroke="#20bc96" stroke-width="1.0"/>
<rect x="401.5" y="619.4" width="5" height="5" fill="#20bc96"/>
<rect x="413.9" y="663.7" width="5" height="5" fill="#20bc96"/>
<rect x="426.3" y="669.5" width="5" height="5" fill="#20bc96"/>
<rect x="438.7" y="671.3" width="5" height="5" fill="#20bc96"/>
<rect x="451.1" y="672.3" width="5" height="5" fill="#20bc96"/>
<rect x="463.5" y="672.3" width="5" height="5" fill="#20bc96"/>
<circle cx="343.5" cy="559.6" r="2.6" fill="#111"/>
<circle cx="355.9" cy="555.2" r="2.6" fill="#111"/>
<circle cx="368.3" cy="552.3" r="2.6" fill="#111"/>
<circle cx="380.7" cy="547.5" r="2.6" fill="#111"/>
<line x1="393.1" y1="538.8" x2="393.1" y2="546.9" stroke="#111" stroke-width="1.3"/>
<line x1="390.2" y1="538.8" x2="396" y2="538.8" stroke="#111" stroke-width="1.3"/>
<line x1="390.2" y1="546.9" x2="396" y2="546.9" stroke="#111" stroke-width="1.3"/>
<circle cx="393.1" cy="543.1" r="2.6" fill="#111"/>
<circle cx="405.5" cy="544.6" r="2.6" fill="#111"/>
<line x1="417.9" y1="555.2" x2="417.9" y2="564.8" stroke="#111" stroke-width="1.3"/>
<line x1="415" y1="555.2" x2="420.8" y2="555.2" stroke="#111" stroke-width="1.3"/>
<line x1="415" y1="564.8" x2="420.8" y2="564.8" stroke="#111" stroke-width="1.3"/>
<circle cx="417.9" cy="560" r="2.6" fill="#111"/>
<circle cx="430.3" cy="678.7" r="2.6" fill="#111"/>
<circle cx="442.7" cy="678.7" r="2.6" fill="#111"/>
<circle cx="455.1" cy="678.7" r="2.6" fill="#111"/>
<circle cx="467.5" cy="678.7" r="2.6" fill="#111"/>
</svg></body></html>
